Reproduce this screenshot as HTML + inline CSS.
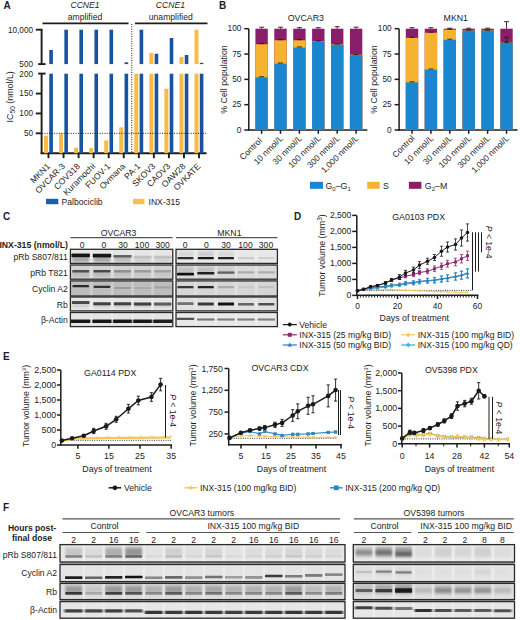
<!DOCTYPE html>
<html><head><meta charset="utf-8"><style>
html,body{margin:0;padding:0;background:#fff;}
svg{display:block;font-family:"Liberation Sans", sans-serif;}
</style></head><body>
<svg width="520" height="620" viewBox="0 0 520 620">
<defs>
<filter id="bb" x="-20%" y="-100%" width="140%" height="300%"><feGaussianBlur stdDeviation="0.7 0.45"/></filter>
<filter id="bw" x="-20%" y="-100%" width="140%" height="300%"><feGaussianBlur stdDeviation="1.0 1.5"/></filter>
<filter id="bm" x="-20%" y="-100%" width="140%" height="300%"><feGaussianBlur stdDeviation="0.9 0.7"/></filter>
<filter id="bs" x="-100%" y="-10%" width="300%" height="120%"><feGaussianBlur stdDeviation="0.6"/></filter>
</defs>
<rect width="520" height="620" fill="#fff"/>
<text x="3.50" y="9.00" font-size="10" text-anchor="start" font-weight="bold" fill="#1d1d1b">A</text>
<text x="85.00" y="8.30" font-size="8.6" text-anchor="middle" font-style="italic" fill="#1d1d1b">CCNE1</text>
<text x="85.00" y="19.80" font-size="8.6" text-anchor="middle" fill="#1d1d1b">amplified</text>
<text x="170.40" y="8.30" font-size="8.6" text-anchor="middle" font-style="italic" fill="#1d1d1b">CCNE1</text>
<text x="170.80" y="19.80" font-size="8.6" text-anchor="middle" fill="#1d1d1b">unamplified</text>
<line x1="42.50" y1="23.40" x2="128.50" y2="23.40" stroke="#1d1d1b" stroke-width="1.7" stroke-linecap="butt"/>
<line x1="135.00" y1="23.40" x2="207.50" y2="23.40" stroke="#1d1d1b" stroke-width="1.7" stroke-linecap="butt"/>
<line x1="131.75" y1="24.00" x2="131.75" y2="153.00" stroke="#1d1d1b" stroke-width="1.0" stroke-linecap="butt" stroke-dasharray="1 1.4"/>
<line x1="41.60" y1="29.70" x2="41.60" y2="64.10" stroke="#1d1d1b" stroke-width="1.9" stroke-linecap="butt"/>
<line x1="35.80" y1="29.70" x2="42.50" y2="29.70" stroke="#1d1d1b" stroke-width="1.9" stroke-linecap="butt"/>
<line x1="38.20" y1="64.10" x2="45.60" y2="64.10" stroke="#1d1d1b" stroke-width="1.9" stroke-linecap="butt"/>
<line x1="41.60" y1="73.60" x2="41.60" y2="154.10" stroke="#1d1d1b" stroke-width="1.9" stroke-linecap="butt"/>
<line x1="38.20" y1="73.60" x2="45.60" y2="73.60" stroke="#1d1d1b" stroke-width="1.9" stroke-linecap="butt"/>
<line x1="35.80" y1="93.57" x2="41.60" y2="93.57" stroke="#1d1d1b" stroke-width="1.9" stroke-linecap="butt"/>
<line x1="35.80" y1="113.45" x2="41.60" y2="113.45" stroke="#1d1d1b" stroke-width="1.9" stroke-linecap="butt"/>
<line x1="35.80" y1="133.32" x2="41.60" y2="133.32" stroke="#1d1d1b" stroke-width="1.9" stroke-linecap="butt"/>
<text x="33.00" y="32.60" font-size="8.2" text-anchor="end" fill="#1d1d1b">10,000</text>
<text x="33.00" y="67.00" font-size="8.2" text-anchor="end" fill="#1d1d1b">500</text>
<text x="33.00" y="76.50" font-size="8.2" text-anchor="end" fill="#1d1d1b">200</text>
<text x="33.00" y="96.47" font-size="8.2" text-anchor="end" fill="#1d1d1b">150</text>
<text x="33.00" y="116.35" font-size="8.2" text-anchor="end" fill="#1d1d1b">100</text>
<text x="33.00" y="136.22" font-size="8.2" text-anchor="end" fill="#1d1d1b">50</text>
<line x1="40.70" y1="153.20" x2="206.50" y2="153.20" stroke="#1d1d1b" stroke-width="1.9" stroke-linecap="butt"/>
<rect x="44.00" y="135.71" width="4.00" height="17.49" fill="#f7bb46"/>
<rect x="49.30" y="73.70" width="3.60" height="79.50" fill="#17539e"/>
<rect x="49.30" y="50.00" width="3.60" height="14.10" fill="#17539e"/>
<line x1="48.50" y1="153.20" x2="48.50" y2="158.20" stroke="#1d1d1b" stroke-width="1.9" stroke-linecap="butt"/>
<text x="0.00" y="0.00" font-size="8.6" text-anchor="end" fill="#1d1d1b" transform="translate(50.60,166.90) rotate(-45)">MKN1</text>
<rect x="59.05" y="133.32" width="4.00" height="19.88" fill="#f7bb46"/>
<rect x="64.35" y="73.70" width="3.60" height="79.50" fill="#17539e"/>
<rect x="64.35" y="29.70" width="3.60" height="34.40" fill="#17539e"/>
<line x1="63.55" y1="153.20" x2="63.55" y2="158.20" stroke="#1d1d1b" stroke-width="1.9" stroke-linecap="butt"/>
<text x="0.00" y="0.00" font-size="8.6" text-anchor="end" fill="#1d1d1b" transform="translate(65.65,166.90) rotate(-45)">OVCAR-3</text>
<rect x="74.10" y="147.63" width="4.00" height="5.56" fill="#f7bb46"/>
<rect x="79.40" y="73.70" width="3.60" height="79.50" fill="#17539e"/>
<rect x="79.40" y="29.70" width="3.60" height="34.40" fill="#17539e"/>
<line x1="78.60" y1="153.20" x2="78.60" y2="158.20" stroke="#1d1d1b" stroke-width="1.9" stroke-linecap="butt"/>
<text x="0.00" y="0.00" font-size="8.6" text-anchor="end" fill="#1d1d1b" transform="translate(80.70,166.90) rotate(-45)">COV318</text>
<rect x="89.15" y="148.03" width="4.00" height="5.17" fill="#f7bb46"/>
<rect x="94.45" y="73.70" width="3.60" height="79.50" fill="#17539e"/>
<rect x="94.45" y="29.70" width="3.60" height="34.40" fill="#17539e"/>
<line x1="93.65" y1="153.20" x2="93.65" y2="158.20" stroke="#1d1d1b" stroke-width="1.9" stroke-linecap="butt"/>
<text x="0.00" y="0.00" font-size="8.6" text-anchor="end" fill="#1d1d1b" transform="translate(95.75,166.90) rotate(-45)">Kuramochi</text>
<rect x="104.20" y="140.48" width="4.00" height="12.72" fill="#f7bb46"/>
<rect x="109.50" y="73.70" width="3.60" height="79.50" fill="#17539e"/>
<rect x="109.50" y="29.70" width="3.60" height="34.40" fill="#17539e"/>
<line x1="108.70" y1="153.20" x2="108.70" y2="158.20" stroke="#1d1d1b" stroke-width="1.9" stroke-linecap="butt"/>
<text x="0.00" y="0.00" font-size="8.6" text-anchor="end" fill="#1d1d1b" transform="translate(110.80,166.90) rotate(-45)">FUOV-1</text>
<rect x="119.25" y="127.36" width="4.00" height="25.84" fill="#f7bb46"/>
<rect x="124.55" y="73.70" width="3.60" height="79.50" fill="#17539e"/>
<rect x="124.55" y="62.30" width="3.60" height="1.80" fill="#17539e"/>
<line x1="123.75" y1="153.20" x2="123.75" y2="158.20" stroke="#1d1d1b" stroke-width="1.9" stroke-linecap="butt"/>
<text x="0.00" y="0.00" font-size="8.6" text-anchor="end" fill="#1d1d1b" transform="translate(125.85,166.90) rotate(-45)">Ovmana</text>
<rect x="134.30" y="73.70" width="4.00" height="79.50" fill="#f7bb46"/>
<rect x="139.60" y="73.70" width="3.60" height="79.50" fill="#17539e"/>
<rect x="139.60" y="29.70" width="3.60" height="34.40" fill="#17539e"/>
<line x1="138.80" y1="153.20" x2="138.80" y2="158.20" stroke="#1d1d1b" stroke-width="1.9" stroke-linecap="butt"/>
<text x="0.00" y="0.00" font-size="8.6" text-anchor="end" fill="#1d1d1b" transform="translate(140.90,166.90) rotate(-45)">PA-1</text>
<rect x="149.35" y="73.70" width="4.00" height="79.50" fill="#f7bb46"/>
<rect x="149.35" y="53.00" width="4.00" height="11.10" fill="#f7bb46"/>
<rect x="154.65" y="73.70" width="3.60" height="79.50" fill="#17539e"/>
<rect x="154.65" y="53.75" width="3.60" height="10.35" fill="#17539e"/>
<line x1="153.85" y1="153.20" x2="153.85" y2="158.20" stroke="#1d1d1b" stroke-width="1.9" stroke-linecap="butt"/>
<text x="0.00" y="0.00" font-size="8.6" text-anchor="end" fill="#1d1d1b" transform="translate(155.95,166.90) rotate(-45)">SKOV3</text>
<rect x="164.40" y="88.80" width="4.00" height="64.40" fill="#f7bb46"/>
<rect x="169.70" y="73.70" width="3.60" height="79.50" fill="#17539e"/>
<rect x="169.70" y="38.00" width="3.60" height="26.10" fill="#17539e"/>
<line x1="168.90" y1="153.20" x2="168.90" y2="158.20" stroke="#1d1d1b" stroke-width="1.9" stroke-linecap="butt"/>
<text x="0.00" y="0.00" font-size="8.6" text-anchor="end" fill="#1d1d1b" transform="translate(171.00,166.90) rotate(-45)">CAOV3</text>
<rect x="179.45" y="73.70" width="4.00" height="79.50" fill="#f7bb46"/>
<rect x="179.45" y="57.00" width="4.00" height="7.10" fill="#f7bb46"/>
<rect x="184.75" y="73.70" width="3.60" height="79.50" fill="#17539e"/>
<rect x="184.75" y="55.00" width="3.60" height="9.10" fill="#17539e"/>
<line x1="183.95" y1="153.20" x2="183.95" y2="158.20" stroke="#1d1d1b" stroke-width="1.9" stroke-linecap="butt"/>
<text x="0.00" y="0.00" font-size="8.6" text-anchor="end" fill="#1d1d1b" transform="translate(186.05,166.90) rotate(-45)">OAW28</text>
<rect x="194.50" y="73.70" width="4.00" height="79.50" fill="#f7bb46"/>
<rect x="194.50" y="29.70" width="4.00" height="34.40" fill="#f7bb46"/>
<rect x="199.80" y="73.70" width="3.60" height="79.50" fill="#17539e"/>
<rect x="199.80" y="62.80" width="3.60" height="1.30" fill="#17539e"/>
<line x1="199.00" y1="153.20" x2="199.00" y2="158.20" stroke="#1d1d1b" stroke-width="1.9" stroke-linecap="butt"/>
<text x="0.00" y="0.00" font-size="8.6" text-anchor="end" fill="#1d1d1b" transform="translate(201.10,166.90) rotate(-45)">OVKATE</text>
<line x1="42.00" y1="133.32" x2="206.50" y2="133.32" stroke="#1d1d1b" stroke-width="1.0" stroke-linecap="butt" stroke-dasharray="1 1.4"/>
<text font-size="8.9" fill="#1d1d1b" text-anchor="middle" transform="translate(12.5,96.8) rotate(-90)">IC<tspan font-size="6.6" dy="2">50</tspan><tspan dy="-2"> (nmol/L)</tspan></text>
<rect x="46.00" y="198.80" width="12.30" height="5.40" fill="#1862ad"/>
<text x="61.50" y="205.00" font-size="8.6" text-anchor="start" fill="#1d1d1b">Palbociclib</text>
<rect x="133.00" y="198.80" width="11.50" height="5.40" fill="#f8c049"/>
<text x="148.50" y="205.00" font-size="8.6" text-anchor="start" fill="#1d1d1b">INX-315</text>
<text x="218.90" y="9.00" font-size="10" text-anchor="start" font-weight="bold" fill="#1d1d1b">B</text>
<line x1="248.80" y1="28.70" x2="248.80" y2="130.70" stroke="#1d1d1b" stroke-width="1.5" stroke-linecap="butt"/>
<line x1="244.30" y1="130.00" x2="248.80" y2="130.00" stroke="#1d1d1b" stroke-width="1.5" stroke-linecap="butt"/>
<text x="241.40" y="132.50" font-size="8.3" text-anchor="end" fill="#1d1d1b">0</text>
<line x1="244.30" y1="104.68" x2="248.80" y2="104.68" stroke="#1d1d1b" stroke-width="1.5" stroke-linecap="butt"/>
<text x="241.40" y="107.18" font-size="8.3" text-anchor="end" fill="#1d1d1b">25</text>
<line x1="244.30" y1="79.35" x2="248.80" y2="79.35" stroke="#1d1d1b" stroke-width="1.5" stroke-linecap="butt"/>
<text x="241.40" y="81.85" font-size="8.3" text-anchor="end" fill="#1d1d1b">50</text>
<line x1="244.30" y1="54.03" x2="248.80" y2="54.03" stroke="#1d1d1b" stroke-width="1.5" stroke-linecap="butt"/>
<text x="241.40" y="56.53" font-size="8.3" text-anchor="end" fill="#1d1d1b">75</text>
<line x1="244.30" y1="28.70" x2="248.80" y2="28.70" stroke="#1d1d1b" stroke-width="1.5" stroke-linecap="butt"/>
<text x="241.40" y="31.20" font-size="8.3" text-anchor="end" fill="#1d1d1b">100</text>
<line x1="248.10" y1="130.00" x2="367.30" y2="130.00" stroke="#1d1d1b" stroke-width="1.5" stroke-linecap="butt"/>
<text x="305.80" y="21.00" font-size="8.8" text-anchor="middle" fill="#1d1d1b">OVCAR3</text>
<text font-size="8.8" fill="#1d1d1b" text-anchor="middle" transform="translate(226.5,79.5) rotate(-90)">% Cell population</text>
<rect x="255.40" y="28.70" width="12.40" height="101.30" fill="#8a1e6a"/>
<rect x="255.40" y="44.20" width="12.40" height="85.80" fill="#f5b330"/>
<rect x="255.40" y="77.32" width="12.40" height="52.68" fill="#1a86cf"/>
<line x1="259.10" y1="27.20" x2="264.10" y2="27.20" stroke="#1d1d1b" stroke-width="0.9" stroke-linecap="butt"/>
<line x1="261.60" y1="27.20" x2="261.60" y2="28.70" stroke="#1d1d1b" stroke-width="0.9" stroke-linecap="butt"/>
<line x1="259.10" y1="76.72" x2="264.10" y2="76.72" stroke="#1d1d1b" stroke-width="0.9" stroke-linecap="butt"/>
<line x1="259.10" y1="43.60" x2="264.10" y2="43.60" stroke="#1d1d1b" stroke-width="0.9" stroke-linecap="butt"/>
<line x1="261.60" y1="130.00" x2="261.60" y2="133.80" stroke="#1d1d1b" stroke-width="1.5" stroke-linecap="butt"/>
<text x="0.00" y="0.00" font-size="8.5" text-anchor="end" fill="#1d1d1b" transform="translate(262.50,141.20) rotate(-45)">Control</text>
<rect x="274.30" y="28.70" width="12.40" height="101.30" fill="#8a1e6a"/>
<rect x="274.30" y="40.25" width="12.40" height="89.75" fill="#f5b330"/>
<rect x="274.30" y="63.65" width="12.40" height="66.35" fill="#1a86cf"/>
<line x1="278.00" y1="27.20" x2="283.00" y2="27.20" stroke="#1d1d1b" stroke-width="0.9" stroke-linecap="butt"/>
<line x1="280.50" y1="27.20" x2="280.50" y2="28.70" stroke="#1d1d1b" stroke-width="0.9" stroke-linecap="butt"/>
<line x1="278.00" y1="63.05" x2="283.00" y2="63.05" stroke="#1d1d1b" stroke-width="0.9" stroke-linecap="butt"/>
<line x1="278.00" y1="39.65" x2="283.00" y2="39.65" stroke="#1d1d1b" stroke-width="0.9" stroke-linecap="butt"/>
<line x1="280.50" y1="130.00" x2="280.50" y2="133.80" stroke="#1d1d1b" stroke-width="1.5" stroke-linecap="butt"/>
<text x="0.00" y="0.00" font-size="8.5" text-anchor="end" fill="#1d1d1b" transform="translate(283.60,138.80) rotate(-45)">10 nmol/L</text>
<rect x="293.20" y="28.70" width="12.40" height="101.30" fill="#8a1e6a"/>
<rect x="293.20" y="40.25" width="12.40" height="89.75" fill="#f5b330"/>
<rect x="293.20" y="47.54" width="12.40" height="82.46" fill="#1a86cf"/>
<line x1="296.90" y1="27.70" x2="301.90" y2="27.70" stroke="#1d1d1b" stroke-width="0.9" stroke-linecap="butt"/>
<line x1="299.40" y1="27.70" x2="299.40" y2="28.70" stroke="#1d1d1b" stroke-width="0.9" stroke-linecap="butt"/>
<line x1="296.90" y1="46.94" x2="301.90" y2="46.94" stroke="#1d1d1b" stroke-width="0.9" stroke-linecap="butt"/>
<line x1="296.90" y1="39.65" x2="301.90" y2="39.65" stroke="#1d1d1b" stroke-width="0.9" stroke-linecap="butt"/>
<line x1="299.40" y1="130.00" x2="299.40" y2="133.80" stroke="#1d1d1b" stroke-width="1.5" stroke-linecap="butt"/>
<text x="0.00" y="0.00" font-size="8.5" text-anchor="end" fill="#1d1d1b" transform="translate(302.50,138.80) rotate(-45)">30 nmol/L</text>
<rect x="312.10" y="28.70" width="12.40" height="101.30" fill="#8a1e6a"/>
<rect x="312.10" y="41.26" width="12.40" height="88.74" fill="#f5b330"/>
<rect x="312.10" y="41.57" width="12.40" height="88.43" fill="#1a86cf"/>
<line x1="315.80" y1="27.70" x2="320.80" y2="27.70" stroke="#1d1d1b" stroke-width="0.9" stroke-linecap="butt"/>
<line x1="318.30" y1="27.70" x2="318.30" y2="28.70" stroke="#1d1d1b" stroke-width="0.9" stroke-linecap="butt"/>
<line x1="315.80" y1="40.97" x2="320.80" y2="40.97" stroke="#1d1d1b" stroke-width="0.9" stroke-linecap="butt"/>
<line x1="318.30" y1="130.00" x2="318.30" y2="133.80" stroke="#1d1d1b" stroke-width="1.5" stroke-linecap="butt"/>
<text x="0.00" y="0.00" font-size="8.5" text-anchor="end" fill="#1d1d1b" transform="translate(321.40,138.80) rotate(-45)">100 nmol/L</text>
<rect x="331.00" y="28.70" width="12.40" height="101.30" fill="#8a1e6a"/>
<rect x="331.00" y="44.30" width="12.40" height="85.70" fill="#f5b330"/>
<rect x="331.00" y="44.71" width="12.40" height="85.29" fill="#1a86cf"/>
<line x1="334.70" y1="26.70" x2="339.70" y2="26.70" stroke="#1d1d1b" stroke-width="0.9" stroke-linecap="butt"/>
<line x1="337.20" y1="26.70" x2="337.20" y2="28.70" stroke="#1d1d1b" stroke-width="0.9" stroke-linecap="butt"/>
<line x1="334.70" y1="44.11" x2="339.70" y2="44.11" stroke="#1d1d1b" stroke-width="0.9" stroke-linecap="butt"/>
<line x1="337.20" y1="130.00" x2="337.20" y2="133.80" stroke="#1d1d1b" stroke-width="1.5" stroke-linecap="butt"/>
<text x="0.00" y="0.00" font-size="8.5" text-anchor="end" fill="#1d1d1b" transform="translate(340.30,138.80) rotate(-45)">300 nmol/L</text>
<rect x="349.90" y="28.70" width="12.40" height="101.30" fill="#8a1e6a"/>
<rect x="349.90" y="54.63" width="12.40" height="75.37" fill="#f5b330"/>
<rect x="349.90" y="55.04" width="12.40" height="74.96" fill="#1a86cf"/>
<line x1="353.60" y1="27.20" x2="358.60" y2="27.20" stroke="#1d1d1b" stroke-width="0.9" stroke-linecap="butt"/>
<line x1="356.10" y1="27.20" x2="356.10" y2="28.70" stroke="#1d1d1b" stroke-width="0.9" stroke-linecap="butt"/>
<line x1="353.60" y1="54.44" x2="358.60" y2="54.44" stroke="#1d1d1b" stroke-width="0.9" stroke-linecap="butt"/>
<line x1="356.10" y1="130.00" x2="356.10" y2="133.80" stroke="#1d1d1b" stroke-width="1.5" stroke-linecap="butt"/>
<text x="0.00" y="0.00" font-size="8.5" text-anchor="end" fill="#1d1d1b" transform="translate(359.20,138.80) rotate(-45)">1,000 nmol/L</text>
<line x1="399.10" y1="28.70" x2="399.10" y2="130.70" stroke="#1d1d1b" stroke-width="1.5" stroke-linecap="butt"/>
<line x1="394.60" y1="130.00" x2="399.10" y2="130.00" stroke="#1d1d1b" stroke-width="1.5" stroke-linecap="butt"/>
<text x="391.70" y="132.50" font-size="8.3" text-anchor="end" fill="#1d1d1b">0</text>
<line x1="394.60" y1="104.68" x2="399.10" y2="104.68" stroke="#1d1d1b" stroke-width="1.5" stroke-linecap="butt"/>
<text x="391.70" y="107.18" font-size="8.3" text-anchor="end" fill="#1d1d1b">25</text>
<line x1="394.60" y1="79.35" x2="399.10" y2="79.35" stroke="#1d1d1b" stroke-width="1.5" stroke-linecap="butt"/>
<text x="391.70" y="81.85" font-size="8.3" text-anchor="end" fill="#1d1d1b">50</text>
<line x1="394.60" y1="54.03" x2="399.10" y2="54.03" stroke="#1d1d1b" stroke-width="1.5" stroke-linecap="butt"/>
<text x="391.70" y="56.53" font-size="8.3" text-anchor="end" fill="#1d1d1b">75</text>
<line x1="394.60" y1="28.70" x2="399.10" y2="28.70" stroke="#1d1d1b" stroke-width="1.5" stroke-linecap="butt"/>
<text x="391.70" y="31.20" font-size="8.3" text-anchor="end" fill="#1d1d1b">100</text>
<line x1="398.40" y1="130.00" x2="517.60" y2="130.00" stroke="#1d1d1b" stroke-width="1.5" stroke-linecap="butt"/>
<text x="455.80" y="21.00" font-size="8.8" text-anchor="middle" fill="#1d1d1b">MKN1</text>
<text font-size="8.8" fill="#1d1d1b" text-anchor="middle" transform="translate(377,79.5) rotate(-90)">% Cell population</text>
<rect x="405.80" y="28.70" width="12.40" height="101.30" fill="#8a1e6a"/>
<rect x="405.80" y="37.82" width="12.40" height="92.18" fill="#f5b330"/>
<rect x="405.80" y="82.39" width="12.40" height="47.61" fill="#1a86cf"/>
<line x1="409.50" y1="27.70" x2="414.50" y2="27.70" stroke="#1d1d1b" stroke-width="0.9" stroke-linecap="butt"/>
<line x1="412.00" y1="27.70" x2="412.00" y2="28.70" stroke="#1d1d1b" stroke-width="0.9" stroke-linecap="butt"/>
<line x1="409.50" y1="81.79" x2="414.50" y2="81.79" stroke="#1d1d1b" stroke-width="0.9" stroke-linecap="butt"/>
<line x1="409.50" y1="37.22" x2="414.50" y2="37.22" stroke="#1d1d1b" stroke-width="0.9" stroke-linecap="butt"/>
<line x1="412.00" y1="130.00" x2="412.00" y2="133.80" stroke="#1d1d1b" stroke-width="1.5" stroke-linecap="butt"/>
<text x="0.00" y="0.00" font-size="8.5" text-anchor="end" fill="#1d1d1b" transform="translate(415.10,138.80) rotate(-45)">Control</text>
<rect x="424.70" y="28.70" width="12.40" height="101.30" fill="#8a1e6a"/>
<rect x="424.70" y="32.75" width="12.40" height="97.25" fill="#f5b330"/>
<rect x="424.70" y="69.63" width="12.40" height="60.37" fill="#1a86cf"/>
<line x1="428.40" y1="27.70" x2="433.40" y2="27.70" stroke="#1d1d1b" stroke-width="0.9" stroke-linecap="butt"/>
<line x1="430.90" y1="27.70" x2="430.90" y2="28.70" stroke="#1d1d1b" stroke-width="0.9" stroke-linecap="butt"/>
<line x1="428.40" y1="69.03" x2="433.40" y2="69.03" stroke="#1d1d1b" stroke-width="0.9" stroke-linecap="butt"/>
<line x1="428.40" y1="32.15" x2="433.40" y2="32.15" stroke="#1d1d1b" stroke-width="0.9" stroke-linecap="butt"/>
<line x1="430.90" y1="130.00" x2="430.90" y2="133.80" stroke="#1d1d1b" stroke-width="1.5" stroke-linecap="butt"/>
<text x="0.00" y="0.00" font-size="8.5" text-anchor="end" fill="#1d1d1b" transform="translate(434.00,138.80) rotate(-45)">10 nmol/L</text>
<rect x="443.60" y="28.70" width="12.40" height="101.30" fill="#8a1e6a"/>
<rect x="443.60" y="29.71" width="12.40" height="100.29" fill="#f5b330"/>
<rect x="443.60" y="39.84" width="12.40" height="90.16" fill="#1a86cf"/>
<line x1="447.30" y1="28.20" x2="452.30" y2="28.20" stroke="#1d1d1b" stroke-width="0.9" stroke-linecap="butt"/>
<line x1="449.80" y1="28.20" x2="449.80" y2="28.70" stroke="#1d1d1b" stroke-width="0.9" stroke-linecap="butt"/>
<line x1="447.30" y1="39.24" x2="452.30" y2="39.24" stroke="#1d1d1b" stroke-width="0.9" stroke-linecap="butt"/>
<line x1="447.30" y1="29.11" x2="452.30" y2="29.11" stroke="#1d1d1b" stroke-width="0.9" stroke-linecap="butt"/>
<line x1="449.80" y1="130.00" x2="449.80" y2="133.80" stroke="#1d1d1b" stroke-width="1.5" stroke-linecap="butt"/>
<text x="0.00" y="0.00" font-size="8.5" text-anchor="end" fill="#1d1d1b" transform="translate(452.90,138.80) rotate(-45)">30 nmol/L</text>
<rect x="462.50" y="28.70" width="12.40" height="101.30" fill="#8a1e6a"/>
<rect x="462.50" y="30.42" width="12.40" height="99.58" fill="#f5b330"/>
<rect x="462.50" y="30.73" width="12.40" height="99.27" fill="#1a86cf"/>
<line x1="466.20" y1="28.20" x2="471.20" y2="28.20" stroke="#1d1d1b" stroke-width="0.9" stroke-linecap="butt"/>
<line x1="468.70" y1="28.20" x2="468.70" y2="28.70" stroke="#1d1d1b" stroke-width="0.9" stroke-linecap="butt"/>
<line x1="466.20" y1="30.13" x2="471.20" y2="30.13" stroke="#1d1d1b" stroke-width="0.9" stroke-linecap="butt"/>
<line x1="468.70" y1="130.00" x2="468.70" y2="133.80" stroke="#1d1d1b" stroke-width="1.5" stroke-linecap="butt"/>
<text x="0.00" y="0.00" font-size="8.5" text-anchor="end" fill="#1d1d1b" transform="translate(471.80,138.80) rotate(-45)">100 nmol/L</text>
<rect x="481.40" y="28.70" width="12.40" height="101.30" fill="#8a1e6a"/>
<rect x="481.40" y="30.42" width="12.40" height="99.58" fill="#f5b330"/>
<rect x="481.40" y="30.73" width="12.40" height="99.27" fill="#1a86cf"/>
<line x1="485.10" y1="28.20" x2="490.10" y2="28.20" stroke="#1d1d1b" stroke-width="0.9" stroke-linecap="butt"/>
<line x1="487.60" y1="28.20" x2="487.60" y2="28.70" stroke="#1d1d1b" stroke-width="0.9" stroke-linecap="butt"/>
<line x1="485.10" y1="30.13" x2="490.10" y2="30.13" stroke="#1d1d1b" stroke-width="0.9" stroke-linecap="butt"/>
<line x1="487.60" y1="130.00" x2="487.60" y2="133.80" stroke="#1d1d1b" stroke-width="1.5" stroke-linecap="butt"/>
<text x="0.00" y="0.00" font-size="8.5" text-anchor="end" fill="#1d1d1b" transform="translate(490.70,138.80) rotate(-45)">300 nmol/L</text>
<rect x="500.30" y="28.70" width="12.40" height="101.30" fill="#8a1e6a"/>
<rect x="500.30" y="42.68" width="12.40" height="87.32" fill="#f5b330"/>
<rect x="500.30" y="42.88" width="12.40" height="87.12" fill="#1a86cf"/>
<line x1="504.00" y1="21.70" x2="509.00" y2="21.70" stroke="#1d1d1b" stroke-width="0.9" stroke-linecap="butt"/>
<line x1="506.50" y1="21.70" x2="506.50" y2="28.70" stroke="#1d1d1b" stroke-width="0.9" stroke-linecap="butt"/>
<line x1="504.00" y1="42.28" x2="509.00" y2="42.28" stroke="#1d1d1b" stroke-width="0.9" stroke-linecap="butt"/>
<line x1="506.50" y1="130.00" x2="506.50" y2="133.80" stroke="#1d1d1b" stroke-width="1.5" stroke-linecap="butt"/>
<text x="0.00" y="0.00" font-size="8.5" text-anchor="end" fill="#1d1d1b" transform="translate(509.60,138.80) rotate(-45)">1,000 nmol/L</text>
<line x1="506.50" y1="42.88" x2="506.50" y2="37.31" stroke="#1d1d1b" stroke-width="0.9" stroke-linecap="butt"/>
<line x1="504.00" y1="37.31" x2="509.00" y2="37.31" stroke="#1d1d1b" stroke-width="0.9" stroke-linecap="butt"/>
<rect x="310.00" y="181.80" width="13.00" height="7.00" fill="#1a86cf"/>
<text x="325.5" y="189.2" font-size="8.8" fill="#1d1d1b">G<tspan font-size="6" dy="1.8">0</tspan><tspan dy="-1.8">–G</tspan><tspan font-size="6" dy="1.8">1</tspan></text>
<rect x="367.20" y="181.80" width="12.50" height="7.00" fill="#f5b330"/>
<text x="383.00" y="189.20" font-size="8.8" text-anchor="start" fill="#1d1d1b">S</text>
<rect x="408.90" y="181.80" width="12.50" height="7.00" fill="#8a1e6a"/>
<text x="424.8" y="189.2" font-size="8.8" fill="#1d1d1b">G<tspan font-size="6" dy="1.8">2</tspan><tspan dy="-1.8">–M</tspan></text>
<text x="3.00" y="220.00" font-size="10" text-anchor="start" font-weight="bold" fill="#1d1d1b">C</text>
<text x="-0.60" y="247.80" font-size="8.7" text-anchor="start" font-weight="bold" fill="#1d1d1b">INX-315 (nmol/L)</text>
<text x="67.80" y="260.25" font-size="8.6" text-anchor="end" fill="#1d1d1b">pRb S807/811</text>
<text x="67.80" y="276.00" font-size="8.6" text-anchor="end" fill="#1d1d1b">pRb T821</text>
<text x="67.80" y="292.35" font-size="8.6" text-anchor="end" fill="#1d1d1b">Cyclin A2</text>
<text x="67.80" y="307.85" font-size="8.6" text-anchor="end" fill="#1d1d1b">Rb</text>
<text x="67.80" y="323.45" font-size="8.6" text-anchor="end" fill="#1d1d1b">β-Actin</text>
<text x="118.60" y="235.60" font-size="8.7" text-anchor="middle" fill="#1d1d1b">OVCAR3</text>
<line x1="70.40" y1="237.70" x2="172.60" y2="237.70" stroke="#555" stroke-width="1.2" stroke-linecap="butt"/>
<text x="82.20" y="247.80" font-size="8.6" text-anchor="middle" fill="#1d1d1b">0</text>
<text x="104.00" y="247.80" font-size="8.6" text-anchor="middle" fill="#1d1d1b">0</text>
<text x="123.00" y="247.80" font-size="8.6" text-anchor="middle" fill="#1d1d1b">30</text>
<text x="142.00" y="247.80" font-size="8.6" text-anchor="middle" fill="#1d1d1b">100</text>
<text x="162.70" y="247.80" font-size="8.6" text-anchor="middle" fill="#1d1d1b">300</text>
<rect x="70.40" y="249.30" width="102.40" height="14.10" fill="#e6e6e6"/>
<rect x="71.45" y="253.60" width="18.50" height="3.60" rx="0.60" fill="#111" fill-opacity="0.95" filter="url(#bb)"/>
<rect x="92.75" y="253.80" width="18.50" height="3.60" rx="0.60" fill="#111" fill-opacity="0.95" filter="url(#bb)"/>
<rect x="113.25" y="255.00" width="18.50" height="2.60" rx="0.60" fill="#111" fill-opacity="0.60" filter="url(#bb)"/>
<rect x="133.35" y="255.80" width="18.50" height="2.40" rx="0.60" fill="#111" fill-opacity="0.12" filter="url(#bb)"/>
<rect x="153.35" y="255.80" width="18.50" height="2.40" rx="0.60" fill="#111" fill-opacity="0.12" filter="url(#bb)"/>
<rect x="72.20" y="257.00" width="17.00" height="5.00" rx="0.60" fill="#111" fill-opacity="0.30" filter="url(#bw)"/>
<rect x="93.50" y="257.00" width="17.00" height="5.00" rx="0.60" fill="#111" fill-opacity="0.30" filter="url(#bw)"/>
<rect x="114.00" y="257.00" width="17.00" height="5.00" rx="0.60" fill="#111" fill-opacity="0.20" filter="url(#bw)"/>
<rect x="134.10" y="257.00" width="17.00" height="5.00" rx="0.60" fill="#111" fill-opacity="0.10" filter="url(#bw)"/>
<rect x="154.10" y="257.00" width="17.00" height="5.00" rx="0.60" fill="#111" fill-opacity="0.10" filter="url(#bw)"/>
<rect x="90.15" y="249.30" width="2.4" height="14.10" fill="#ffffff" fill-opacity="0.25" filter="url(#bs)"/>
<rect x="111.05" y="249.30" width="2.4" height="14.10" fill="#ffffff" fill-opacity="0.25" filter="url(#bs)"/>
<rect x="131.35" y="249.30" width="2.4" height="14.10" fill="#ffffff" fill-opacity="0.25" filter="url(#bs)"/>
<rect x="151.40" y="249.30" width="2.4" height="14.10" fill="#ffffff" fill-opacity="0.25" filter="url(#bs)"/>
<rect x="70.40" y="249.30" width="102.40" height="14.10" fill="none" stroke="#2a2a2a" stroke-width="1.3"/>
<rect x="70.40" y="265.00" width="102.40" height="14.20" fill="#d3d3d3"/>
<rect x="72.20" y="269.90" width="17.00" height="2.60" rx="0.60" fill="#111" fill-opacity="0.65" filter="url(#bb)"/>
<rect x="93.50" y="269.90" width="17.00" height="2.60" rx="0.60" fill="#111" fill-opacity="0.70" filter="url(#bb)"/>
<rect x="114.00" y="269.90" width="17.00" height="2.60" rx="0.60" fill="#111" fill-opacity="0.35" filter="url(#bb)"/>
<rect x="134.10" y="269.90" width="17.00" height="2.60" rx="0.60" fill="#111" fill-opacity="0.25" filter="url(#bb)"/>
<rect x="154.10" y="269.90" width="17.00" height="2.60" rx="0.60" fill="#111" fill-opacity="0.22" filter="url(#bb)"/>
<rect x="72.20" y="272.50" width="17.00" height="4.00" rx="0.60" fill="#111" fill-opacity="0.15" filter="url(#bw)"/>
<rect x="93.50" y="272.50" width="17.00" height="4.00" rx="0.60" fill="#111" fill-opacity="0.15" filter="url(#bw)"/>
<rect x="114.00" y="272.50" width="17.00" height="4.00" rx="0.60" fill="#111" fill-opacity="0.10" filter="url(#bw)"/>
<rect x="134.10" y="272.50" width="17.00" height="4.00" rx="0.60" fill="#111" fill-opacity="0.08" filter="url(#bw)"/>
<rect x="154.10" y="272.50" width="17.00" height="4.00" rx="0.60" fill="#111" fill-opacity="0.08" filter="url(#bw)"/>
<rect x="90.15" y="265.00" width="2.4" height="14.20" fill="#ffffff" fill-opacity="0.25" filter="url(#bs)"/>
<rect x="111.05" y="265.00" width="2.4" height="14.20" fill="#ffffff" fill-opacity="0.25" filter="url(#bs)"/>
<rect x="131.35" y="265.00" width="2.4" height="14.20" fill="#ffffff" fill-opacity="0.25" filter="url(#bs)"/>
<rect x="151.40" y="265.00" width="2.4" height="14.20" fill="#ffffff" fill-opacity="0.25" filter="url(#bs)"/>
<rect x="70.40" y="265.00" width="102.40" height="14.20" fill="none" stroke="#2a2a2a" stroke-width="1.3"/>
<rect x="70.40" y="280.90" width="102.40" height="15.10" fill="#bdbdbd"/>
<rect x="72.45" y="285.10" width="16.50" height="2.20" rx="0.60" fill="#111" fill-opacity="0.85" filter="url(#bb)"/>
<rect x="93.75" y="285.70" width="16.50" height="2.20" rx="0.60" fill="#111" fill-opacity="0.80" filter="url(#bb)"/>
<rect x="114.25" y="286.90" width="16.50" height="2.20" rx="0.60" fill="#111" fill-opacity="0.18" filter="url(#bb)"/>
<rect x="134.35" y="286.90" width="16.50" height="2.20" rx="0.60" fill="#111" fill-opacity="0.10" filter="url(#bb)"/>
<rect x="154.35" y="286.40" width="16.50" height="2.20" rx="0.60" fill="#111" fill-opacity="0.15" filter="url(#bb)"/>
<rect x="90.15" y="280.90" width="2.4" height="15.10" fill="#ffffff" fill-opacity="0.25" filter="url(#bs)"/>
<rect x="111.05" y="280.90" width="2.4" height="15.10" fill="#ffffff" fill-opacity="0.25" filter="url(#bs)"/>
<rect x="131.35" y="280.90" width="2.4" height="15.10" fill="#ffffff" fill-opacity="0.25" filter="url(#bs)"/>
<rect x="151.40" y="280.90" width="2.4" height="15.10" fill="#ffffff" fill-opacity="0.25" filter="url(#bs)"/>
<rect x="70.40" y="280.90" width="102.40" height="15.10" fill="none" stroke="#2a2a2a" stroke-width="1.3"/>
<rect x="70.40" y="297.00" width="102.40" height="13.90" fill="#e6e6e6"/>
<rect x="71.95" y="301.10" width="17.50" height="3.00" rx="0.60" fill="#111" fill-opacity="0.72" filter="url(#bb)"/>
<rect x="93.25" y="302.30" width="17.50" height="3.00" rx="0.60" fill="#111" fill-opacity="0.75" filter="url(#bb)"/>
<rect x="113.75" y="302.30" width="17.50" height="3.00" rx="0.60" fill="#111" fill-opacity="0.75" filter="url(#bb)"/>
<rect x="133.85" y="302.50" width="17.50" height="3.00" rx="0.60" fill="#111" fill-opacity="0.75" filter="url(#bb)"/>
<rect x="153.85" y="302.50" width="17.50" height="3.00" rx="0.60" fill="#111" fill-opacity="0.62" filter="url(#bb)"/>
<rect x="72.20" y="304.00" width="17.00" height="3.00" rx="0.60" fill="#111" fill-opacity="0.15" filter="url(#bw)"/>
<rect x="93.50" y="304.00" width="17.00" height="3.00" rx="0.60" fill="#111" fill-opacity="0.15" filter="url(#bw)"/>
<rect x="114.00" y="304.00" width="17.00" height="3.00" rx="0.60" fill="#111" fill-opacity="0.15" filter="url(#bw)"/>
<rect x="134.10" y="304.00" width="17.00" height="3.00" rx="0.60" fill="#111" fill-opacity="0.15" filter="url(#bw)"/>
<rect x="154.10" y="304.00" width="17.00" height="3.00" rx="0.60" fill="#111" fill-opacity="0.12" filter="url(#bw)"/>
<rect x="90.15" y="297.00" width="2.4" height="13.90" fill="#ffffff" fill-opacity="0.25" filter="url(#bs)"/>
<rect x="111.05" y="297.00" width="2.4" height="13.90" fill="#ffffff" fill-opacity="0.25" filter="url(#bs)"/>
<rect x="131.35" y="297.00" width="2.4" height="13.90" fill="#ffffff" fill-opacity="0.25" filter="url(#bs)"/>
<rect x="151.40" y="297.00" width="2.4" height="13.90" fill="#ffffff" fill-opacity="0.25" filter="url(#bs)"/>
<rect x="70.40" y="297.00" width="102.40" height="13.90" fill="none" stroke="#2a2a2a" stroke-width="1.3"/>
<rect x="70.40" y="312.50" width="102.40" height="14.10" fill="#e4e4e4"/>
<rect x="70.90" y="319.40" width="19.60" height="3.60" rx="0.60" fill="#111" fill-opacity="0.95" filter="url(#bb)"/>
<rect x="92.20" y="319.40" width="19.60" height="3.60" rx="0.60" fill="#111" fill-opacity="0.95" filter="url(#bb)"/>
<rect x="112.70" y="319.40" width="19.60" height="3.60" rx="0.60" fill="#111" fill-opacity="0.95" filter="url(#bb)"/>
<rect x="132.80" y="319.40" width="19.60" height="3.60" rx="0.60" fill="#111" fill-opacity="0.95" filter="url(#bb)"/>
<rect x="152.80" y="319.40" width="19.60" height="3.60" rx="0.60" fill="#111" fill-opacity="0.92" filter="url(#bb)"/>
<rect x="90.15" y="312.50" width="2.4" height="14.10" fill="#ffffff" fill-opacity="0.25" filter="url(#bs)"/>
<rect x="111.05" y="312.50" width="2.4" height="14.10" fill="#ffffff" fill-opacity="0.25" filter="url(#bs)"/>
<rect x="131.35" y="312.50" width="2.4" height="14.10" fill="#ffffff" fill-opacity="0.25" filter="url(#bs)"/>
<rect x="151.40" y="312.50" width="2.4" height="14.10" fill="#ffffff" fill-opacity="0.25" filter="url(#bs)"/>
<rect x="70.40" y="312.50" width="102.40" height="14.10" fill="none" stroke="#2a2a2a" stroke-width="1.3"/>
<text x="229.40" y="235.60" font-size="8.7" text-anchor="middle" fill="#1d1d1b">MKN1</text>
<line x1="176.00" y1="237.70" x2="277.40" y2="237.70" stroke="#555" stroke-width="1.2" stroke-linecap="butt"/>
<text x="185.20" y="247.80" font-size="8.6" text-anchor="middle" fill="#1d1d1b">0</text>
<text x="206.30" y="247.80" font-size="8.6" text-anchor="middle" fill="#1d1d1b">0</text>
<text x="226.00" y="247.80" font-size="8.6" text-anchor="middle" fill="#1d1d1b">30</text>
<text x="245.50" y="247.80" font-size="8.6" text-anchor="middle" fill="#1d1d1b">100</text>
<text x="266.00" y="247.80" font-size="8.6" text-anchor="middle" fill="#1d1d1b">300</text>
<rect x="176.00" y="249.30" width="101.40" height="14.10" fill="#e8e8e8"/>
<rect x="177.50" y="257.10" width="16.00" height="2.20" rx="0.60" fill="#111" fill-opacity="0.85" filter="url(#bb)"/>
<rect x="197.80" y="257.10" width="16.00" height="2.20" rx="0.60" fill="#111" fill-opacity="0.95" filter="url(#bb)"/>
<rect x="218.00" y="257.10" width="16.00" height="2.20" rx="0.60" fill="#111" fill-opacity="0.90" filter="url(#bb)"/>
<rect x="238.00" y="257.10" width="16.00" height="2.20" rx="0.60" fill="#111" fill-opacity="0.12" filter="url(#bb)"/>
<rect x="258.30" y="257.10" width="16.00" height="2.20" rx="0.60" fill="#111" fill-opacity="0.10" filter="url(#bb)"/>
<rect x="177.50" y="251.50" width="16.00" height="5.00" rx="0.60" fill="#111" fill-opacity="0.08" filter="url(#bw)"/>
<rect x="197.80" y="251.50" width="16.00" height="5.00" rx="0.60" fill="#111" fill-opacity="0.12" filter="url(#bw)"/>
<rect x="218.00" y="251.50" width="16.00" height="5.00" rx="0.60" fill="#111" fill-opacity="0.08" filter="url(#bw)"/>
<rect x="194.45" y="249.30" width="2.4" height="14.10" fill="#ffffff" fill-opacity="0.22" filter="url(#bs)"/>
<rect x="214.70" y="249.30" width="2.4" height="14.10" fill="#ffffff" fill-opacity="0.22" filter="url(#bs)"/>
<rect x="234.80" y="249.30" width="2.4" height="14.10" fill="#ffffff" fill-opacity="0.22" filter="url(#bs)"/>
<rect x="254.95" y="249.30" width="2.4" height="14.10" fill="#ffffff" fill-opacity="0.22" filter="url(#bs)"/>
<rect x="176.00" y="249.30" width="101.40" height="14.10" fill="none" stroke="#2a2a2a" stroke-width="1.3"/>
<rect x="176.00" y="265.00" width="101.40" height="14.20" fill="#dadada"/>
<rect x="177.00" y="272.80" width="17.00" height="2.80" rx="0.60" fill="#111" fill-opacity="0.98" filter="url(#bb)"/>
<rect x="197.30" y="271.90" width="17.00" height="2.60" rx="0.60" fill="#111" fill-opacity="0.90" filter="url(#bb)"/>
<rect x="217.50" y="271.40" width="17.00" height="2.40" rx="0.60" fill="#111" fill-opacity="0.60" filter="url(#bb)"/>
<rect x="237.50" y="271.20" width="17.00" height="2.20" rx="0.60" fill="#111" fill-opacity="0.20" filter="url(#bb)"/>
<rect x="257.80" y="271.20" width="17.00" height="2.20" rx="0.60" fill="#111" fill-opacity="0.20" filter="url(#bb)"/>
<rect x="177.50" y="267.00" width="16.00" height="6.00" rx="0.60" fill="#111" fill-opacity="0.12" filter="url(#bw)"/>
<rect x="197.80" y="267.00" width="16.00" height="6.00" rx="0.60" fill="#111" fill-opacity="0.12" filter="url(#bw)"/>
<rect x="218.00" y="267.00" width="16.00" height="6.00" rx="0.60" fill="#111" fill-opacity="0.06" filter="url(#bw)"/>
<rect x="194.45" y="265.00" width="2.4" height="14.20" fill="#ffffff" fill-opacity="0.22" filter="url(#bs)"/>
<rect x="214.70" y="265.00" width="2.4" height="14.20" fill="#ffffff" fill-opacity="0.22" filter="url(#bs)"/>
<rect x="234.80" y="265.00" width="2.4" height="14.20" fill="#ffffff" fill-opacity="0.22" filter="url(#bs)"/>
<rect x="254.95" y="265.00" width="2.4" height="14.20" fill="#ffffff" fill-opacity="0.22" filter="url(#bs)"/>
<rect x="176.00" y="265.00" width="101.40" height="14.20" fill="none" stroke="#2a2a2a" stroke-width="1.3"/>
<rect x="176.00" y="280.90" width="101.40" height="15.10" fill="#d6d6d6"/>
<rect x="177.50" y="286.10" width="16.00" height="2.20" rx="0.60" fill="#111" fill-opacity="0.80" filter="url(#bb)"/>
<rect x="197.80" y="286.10" width="16.00" height="2.20" rx="0.60" fill="#111" fill-opacity="0.90" filter="url(#bb)"/>
<rect x="218.00" y="286.10" width="16.00" height="2.20" rx="0.60" fill="#111" fill-opacity="0.20" filter="url(#bb)"/>
<rect x="238.00" y="286.10" width="16.00" height="2.20" rx="0.60" fill="#111" fill-opacity="0.06" filter="url(#bb)"/>
<rect x="258.30" y="286.10" width="16.00" height="2.20" rx="0.60" fill="#111" fill-opacity="0.10" filter="url(#bb)"/>
<rect x="194.45" y="280.90" width="2.4" height="15.10" fill="#ffffff" fill-opacity="0.22" filter="url(#bs)"/>
<rect x="214.70" y="280.90" width="2.4" height="15.10" fill="#ffffff" fill-opacity="0.22" filter="url(#bs)"/>
<rect x="234.80" y="280.90" width="2.4" height="15.10" fill="#ffffff" fill-opacity="0.22" filter="url(#bs)"/>
<rect x="254.95" y="280.90" width="2.4" height="15.10" fill="#ffffff" fill-opacity="0.22" filter="url(#bs)"/>
<rect x="176.00" y="280.90" width="101.40" height="15.10" fill="none" stroke="#2a2a2a" stroke-width="1.3"/>
<rect x="176.00" y="297.00" width="101.40" height="13.90" fill="#e0e0e0"/>
<rect x="177.50" y="302.30" width="16.00" height="2.60" rx="0.60" fill="#111" fill-opacity="0.55" filter="url(#bb)"/>
<rect x="197.80" y="302.60" width="16.00" height="2.80" rx="0.60" fill="#111" fill-opacity="0.80" filter="url(#bb)"/>
<rect x="218.00" y="302.50" width="16.00" height="3.00" rx="0.60" fill="#111" fill-opacity="0.98" filter="url(#bb)"/>
<rect x="238.00" y="303.00" width="16.00" height="2.60" rx="0.60" fill="#111" fill-opacity="0.60" filter="url(#bb)"/>
<rect x="258.30" y="303.00" width="16.00" height="2.60" rx="0.60" fill="#111" fill-opacity="0.70" filter="url(#bb)"/>
<rect x="194.45" y="297.00" width="2.4" height="13.90" fill="#ffffff" fill-opacity="0.22" filter="url(#bs)"/>
<rect x="214.70" y="297.00" width="2.4" height="13.90" fill="#ffffff" fill-opacity="0.22" filter="url(#bs)"/>
<rect x="234.80" y="297.00" width="2.4" height="13.90" fill="#ffffff" fill-opacity="0.22" filter="url(#bs)"/>
<rect x="254.95" y="297.00" width="2.4" height="13.90" fill="#ffffff" fill-opacity="0.22" filter="url(#bs)"/>
<rect x="176.00" y="297.00" width="101.40" height="13.90" fill="none" stroke="#2a2a2a" stroke-width="1.3"/>
<rect x="176.00" y="312.50" width="101.40" height="14.10" fill="#e8e8e8"/>
<rect x="176.75" y="317.70" width="17.50" height="2.20" rx="0.60" fill="#111" fill-opacity="0.70" filter="url(#bb)"/>
<rect x="197.05" y="318.40" width="17.50" height="2.20" rx="0.60" fill="#111" fill-opacity="0.55" filter="url(#bb)"/>
<rect x="217.25" y="318.40" width="17.50" height="2.20" rx="0.60" fill="#111" fill-opacity="0.50" filter="url(#bb)"/>
<rect x="237.25" y="318.40" width="17.50" height="2.20" rx="0.60" fill="#111" fill-opacity="0.50" filter="url(#bb)"/>
<rect x="257.55" y="318.40" width="17.50" height="2.20" rx="0.60" fill="#111" fill-opacity="0.50" filter="url(#bb)"/>
<rect x="194.45" y="312.50" width="2.4" height="14.10" fill="#ffffff" fill-opacity="0.22" filter="url(#bs)"/>
<rect x="214.70" y="312.50" width="2.4" height="14.10" fill="#ffffff" fill-opacity="0.22" filter="url(#bs)"/>
<rect x="234.80" y="312.50" width="2.4" height="14.10" fill="#ffffff" fill-opacity="0.22" filter="url(#bs)"/>
<rect x="254.95" y="312.50" width="2.4" height="14.10" fill="#ffffff" fill-opacity="0.22" filter="url(#bs)"/>
<rect x="176.00" y="312.50" width="101.40" height="14.10" fill="none" stroke="#2a2a2a" stroke-width="1.3"/>
<text x="3.00" y="510.80" font-size="10" text-anchor="start" font-weight="bold" fill="#1d1d1b">F</text>
<text x="32.00" y="531.00" font-size="8.6" text-anchor="middle" font-weight="bold" fill="#1d1d1b">Hours post-</text>
<text x="32.00" y="541.00" font-size="8.6" text-anchor="middle" font-weight="bold" fill="#1d1d1b">final dose</text>
<text x="57.00" y="557.60" font-size="8.6" text-anchor="end" fill="#1d1d1b">pRb S807/811</text>
<text x="57.00" y="576.35" font-size="8.6" text-anchor="end" fill="#1d1d1b">Cyclin A2</text>
<text x="57.00" y="594.80" font-size="8.6" text-anchor="end" fill="#1d1d1b">Rb</text>
<text x="57.00" y="613.20" font-size="8.6" text-anchor="end" fill="#1d1d1b">β-Actin</text>
<text x="201.80" y="515.70" font-size="8.7" text-anchor="middle" fill="#1d1d1b">OVCAR3 tumors</text>
<line x1="62.50" y1="518.80" x2="340.00" y2="518.80" stroke="#555" stroke-width="1.2" stroke-linecap="butt"/>
<text x="104.50" y="529.40" font-size="8.7" text-anchor="middle" fill="#1d1d1b">Control</text>
<line x1="62.50" y1="532.50" x2="139.50" y2="532.50" stroke="#555" stroke-width="1.2" stroke-linecap="butt"/>
<text x="253.30" y="529.40" font-size="8.7" text-anchor="middle" fill="#1d1d1b">INX-315 100 mg/kg BID</text>
<line x1="146.30" y1="532.50" x2="340.00" y2="532.50" stroke="#555" stroke-width="1.2" stroke-linecap="butt"/>
<text x="73.75" y="543.20" font-size="8.6" text-anchor="middle" fill="#1d1d1b">2</text>
<text x="93.75" y="543.20" font-size="8.6" text-anchor="middle" fill="#1d1d1b">2</text>
<text x="113.75" y="543.20" font-size="8.6" text-anchor="middle" fill="#1d1d1b">16</text>
<text x="133.75" y="543.20" font-size="8.6" text-anchor="middle" fill="#1d1d1b">16</text>
<text x="153.75" y="543.20" font-size="8.6" text-anchor="middle" fill="#1d1d1b">2</text>
<text x="173.75" y="543.20" font-size="8.6" text-anchor="middle" fill="#1d1d1b">2</text>
<text x="193.75" y="543.20" font-size="8.6" text-anchor="middle" fill="#1d1d1b">2</text>
<text x="213.75" y="543.20" font-size="8.6" text-anchor="middle" fill="#1d1d1b">2</text>
<text x="233.75" y="543.20" font-size="8.6" text-anchor="middle" fill="#1d1d1b">2</text>
<text x="253.75" y="543.20" font-size="8.6" text-anchor="middle" fill="#1d1d1b">16</text>
<text x="273.75" y="543.20" font-size="8.6" text-anchor="middle" fill="#1d1d1b">16</text>
<text x="293.75" y="543.20" font-size="8.6" text-anchor="middle" fill="#1d1d1b">16</text>
<text x="313.75" y="543.20" font-size="8.6" text-anchor="middle" fill="#1d1d1b">16</text>
<text x="333.75" y="543.20" font-size="8.6" text-anchor="middle" fill="#1d1d1b">16</text>
<rect x="60" y="544.60" width="285" height="73.60" fill="#a8a8a8"/>
<rect x="60.00" y="544.60" width="285.00" height="17.40" fill="#e8e8e8"/>
<rect x="65.25" y="555.30" width="17.00" height="2.40" rx="0.60" fill="#111" fill-opacity="0.45" filter="url(#bb)"/>
<rect x="85.25" y="555.30" width="17.00" height="2.40" rx="0.60" fill="#111" fill-opacity="0.15" filter="url(#bb)"/>
<rect x="105.25" y="555.30" width="17.00" height="2.40" rx="0.60" fill="#111" fill-opacity="0.40" filter="url(#bb)"/>
<rect x="125.25" y="555.30" width="17.00" height="2.40" rx="0.60" fill="#111" fill-opacity="0.50" filter="url(#bb)"/>
<rect x="145.25" y="555.30" width="17.00" height="2.40" rx="0.60" fill="#111" fill-opacity="0.05" filter="url(#bb)"/>
<rect x="165.25" y="555.30" width="17.00" height="2.40" rx="0.60" fill="#111" fill-opacity="0.15" filter="url(#bb)"/>
<rect x="185.25" y="555.30" width="17.00" height="2.40" rx="0.60" fill="#111" fill-opacity="0.06" filter="url(#bb)"/>
<rect x="205.25" y="555.30" width="17.00" height="2.40" rx="0.60" fill="#111" fill-opacity="0.10" filter="url(#bb)"/>
<rect x="225.25" y="555.30" width="17.00" height="2.40" rx="0.60" fill="#111" fill-opacity="0.05" filter="url(#bb)"/>
<rect x="245.25" y="555.30" width="17.00" height="2.40" rx="0.60" fill="#111" fill-opacity="0.06" filter="url(#bb)"/>
<rect x="265.25" y="555.30" width="17.00" height="2.40" rx="0.60" fill="#111" fill-opacity="0.08" filter="url(#bb)"/>
<rect x="285.25" y="555.30" width="17.00" height="2.40" rx="0.60" fill="#111" fill-opacity="0.10" filter="url(#bb)"/>
<rect x="305.25" y="555.30" width="17.00" height="2.40" rx="0.60" fill="#111" fill-opacity="0.08" filter="url(#bb)"/>
<rect x="325.25" y="555.30" width="17.00" height="2.40" rx="0.60" fill="#111" fill-opacity="0.06" filter="url(#bb)"/>
<rect x="65.25" y="547.50" width="17.00" height="9.00" rx="0.60" fill="#111" fill-opacity="0.15" filter="url(#bw)"/>
<rect x="85.25" y="547.50" width="17.00" height="9.00" rx="0.60" fill="#111" fill-opacity="0.06" filter="url(#bw)"/>
<rect x="105.25" y="547.50" width="17.00" height="9.00" rx="0.60" fill="#111" fill-opacity="0.25" filter="url(#bw)"/>
<rect x="125.25" y="547.50" width="17.00" height="9.00" rx="0.60" fill="#111" fill-opacity="0.40" filter="url(#bw)"/>
<rect x="145.25" y="547.50" width="17.00" height="9.00" rx="0.60" fill="#111" fill-opacity="0.03" filter="url(#bw)"/>
<rect x="165.25" y="547.50" width="17.00" height="9.00" rx="0.60" fill="#111" fill-opacity="0.10" filter="url(#bw)"/>
<rect x="185.25" y="547.50" width="17.00" height="9.00" rx="0.60" fill="#111" fill-opacity="0.04" filter="url(#bw)"/>
<rect x="205.25" y="547.50" width="17.00" height="9.00" rx="0.60" fill="#111" fill-opacity="0.08" filter="url(#bw)"/>
<rect x="225.25" y="547.50" width="17.00" height="9.00" rx="0.60" fill="#111" fill-opacity="0.03" filter="url(#bw)"/>
<rect x="245.25" y="547.50" width="17.00" height="9.00" rx="0.60" fill="#111" fill-opacity="0.05" filter="url(#bw)"/>
<rect x="265.25" y="547.50" width="17.00" height="9.00" rx="0.60" fill="#111" fill-opacity="0.06" filter="url(#bw)"/>
<rect x="285.25" y="547.50" width="17.00" height="9.00" rx="0.60" fill="#111" fill-opacity="0.08" filter="url(#bw)"/>
<rect x="305.25" y="547.50" width="17.00" height="9.00" rx="0.60" fill="#111" fill-opacity="0.06" filter="url(#bw)"/>
<rect x="325.25" y="547.50" width="17.00" height="9.00" rx="0.60" fill="#111" fill-opacity="0.05" filter="url(#bw)"/>
<rect x="82.55" y="544.60" width="2.4" height="17.40" fill="#ffffff" fill-opacity="0.30" filter="url(#bs)"/>
<rect x="102.55" y="544.60" width="2.4" height="17.40" fill="#ffffff" fill-opacity="0.30" filter="url(#bs)"/>
<rect x="122.55" y="544.60" width="2.4" height="17.40" fill="#ffffff" fill-opacity="0.30" filter="url(#bs)"/>
<rect x="142.55" y="544.60" width="2.4" height="17.40" fill="#ffffff" fill-opacity="0.30" filter="url(#bs)"/>
<rect x="162.55" y="544.60" width="2.4" height="17.40" fill="#ffffff" fill-opacity="0.30" filter="url(#bs)"/>
<rect x="182.55" y="544.60" width="2.4" height="17.40" fill="#ffffff" fill-opacity="0.30" filter="url(#bs)"/>
<rect x="202.55" y="544.60" width="2.4" height="17.40" fill="#ffffff" fill-opacity="0.30" filter="url(#bs)"/>
<rect x="222.55" y="544.60" width="2.4" height="17.40" fill="#ffffff" fill-opacity="0.30" filter="url(#bs)"/>
<rect x="242.55" y="544.60" width="2.4" height="17.40" fill="#ffffff" fill-opacity="0.30" filter="url(#bs)"/>
<rect x="262.55" y="544.60" width="2.4" height="17.40" fill="#ffffff" fill-opacity="0.30" filter="url(#bs)"/>
<rect x="282.55" y="544.60" width="2.4" height="17.40" fill="#ffffff" fill-opacity="0.30" filter="url(#bs)"/>
<rect x="302.55" y="544.60" width="2.4" height="17.40" fill="#ffffff" fill-opacity="0.30" filter="url(#bs)"/>
<rect x="322.55" y="544.60" width="2.4" height="17.40" fill="#ffffff" fill-opacity="0.30" filter="url(#bs)"/>
<rect x="60.00" y="544.60" width="285.00" height="17.40" fill="none" stroke="#2a2a2a" stroke-width="1.3"/>
<rect x="60.00" y="564.50" width="285.00" height="17.10" fill="#e4e4e4"/>
<rect x="65.00" y="576.30" width="17.50" height="2.60" rx="0.60" fill="#111" fill-opacity="0.92" filter="url(#bb)"/>
<rect x="85.00" y="576.50" width="17.50" height="2.60" rx="0.60" fill="#111" fill-opacity="0.60" filter="url(#bb)"/>
<rect x="105.00" y="576.10" width="17.50" height="2.60" rx="0.60" fill="#111" fill-opacity="0.90" filter="url(#bb)"/>
<rect x="125.00" y="575.70" width="17.50" height="2.60" rx="0.60" fill="#111" fill-opacity="0.98" filter="url(#bb)"/>
<rect x="145.00" y="576.50" width="17.50" height="2.60" rx="0.60" fill="#111" fill-opacity="0.45" filter="url(#bb)"/>
<rect x="165.00" y="576.10" width="17.50" height="2.60" rx="0.60" fill="#111" fill-opacity="0.60" filter="url(#bb)"/>
<rect x="185.00" y="576.30" width="17.50" height="2.60" rx="0.60" fill="#111" fill-opacity="0.40" filter="url(#bb)"/>
<rect x="205.00" y="575.70" width="17.50" height="2.60" rx="0.60" fill="#111" fill-opacity="0.55" filter="url(#bb)"/>
<rect x="225.00" y="575.90" width="17.50" height="2.60" rx="0.60" fill="#111" fill-opacity="0.35" filter="url(#bb)"/>
<rect x="245.00" y="576.10" width="17.50" height="2.60" rx="0.60" fill="#111" fill-opacity="0.40" filter="url(#bb)"/>
<rect x="265.00" y="574.70" width="17.50" height="2.60" rx="0.60" fill="#111" fill-opacity="0.80" filter="url(#bb)"/>
<rect x="285.00" y="575.00" width="17.50" height="2.60" rx="0.60" fill="#111" fill-opacity="0.50" filter="url(#bb)"/>
<rect x="305.00" y="574.10" width="17.50" height="2.60" rx="0.60" fill="#111" fill-opacity="0.50" filter="url(#bb)"/>
<rect x="325.00" y="573.30" width="17.50" height="2.60" rx="0.60" fill="#111" fill-opacity="0.45" filter="url(#bb)"/>
<rect x="82.55" y="564.50" width="2.4" height="17.10" fill="#ffffff" fill-opacity="0.30" filter="url(#bs)"/>
<rect x="102.55" y="564.50" width="2.4" height="17.10" fill="#ffffff" fill-opacity="0.30" filter="url(#bs)"/>
<rect x="122.55" y="564.50" width="2.4" height="17.10" fill="#ffffff" fill-opacity="0.30" filter="url(#bs)"/>
<rect x="142.55" y="564.50" width="2.4" height="17.10" fill="#ffffff" fill-opacity="0.30" filter="url(#bs)"/>
<rect x="162.55" y="564.50" width="2.4" height="17.10" fill="#ffffff" fill-opacity="0.30" filter="url(#bs)"/>
<rect x="182.55" y="564.50" width="2.4" height="17.10" fill="#ffffff" fill-opacity="0.30" filter="url(#bs)"/>
<rect x="202.55" y="564.50" width="2.4" height="17.10" fill="#ffffff" fill-opacity="0.30" filter="url(#bs)"/>
<rect x="222.55" y="564.50" width="2.4" height="17.10" fill="#ffffff" fill-opacity="0.30" filter="url(#bs)"/>
<rect x="242.55" y="564.50" width="2.4" height="17.10" fill="#ffffff" fill-opacity="0.30" filter="url(#bs)"/>
<rect x="262.55" y="564.50" width="2.4" height="17.10" fill="#ffffff" fill-opacity="0.30" filter="url(#bs)"/>
<rect x="282.55" y="564.50" width="2.4" height="17.10" fill="#ffffff" fill-opacity="0.30" filter="url(#bs)"/>
<rect x="302.55" y="564.50" width="2.4" height="17.10" fill="#ffffff" fill-opacity="0.30" filter="url(#bs)"/>
<rect x="322.55" y="564.50" width="2.4" height="17.10" fill="#ffffff" fill-opacity="0.30" filter="url(#bs)"/>
<rect x="60.00" y="564.50" width="285.00" height="17.10" fill="none" stroke="#2a2a2a" stroke-width="1.3"/>
<rect x="60.00" y="583.40" width="285.00" height="16.20" fill="#dedede"/>
<rect x="65.25" y="592.10" width="17.00" height="2.60" rx="0.60" fill="#111" fill-opacity="0.75" filter="url(#bb)"/>
<rect x="85.25" y="592.10" width="17.00" height="2.60" rx="0.60" fill="#111" fill-opacity="0.20" filter="url(#bb)"/>
<rect x="105.25" y="592.10" width="17.00" height="2.60" rx="0.60" fill="#111" fill-opacity="0.70" filter="url(#bb)"/>
<rect x="125.25" y="592.10" width="17.00" height="2.60" rx="0.60" fill="#111" fill-opacity="0.60" filter="url(#bb)"/>
<rect x="145.25" y="592.10" width="17.00" height="2.60" rx="0.60" fill="#111" fill-opacity="0.30" filter="url(#bb)"/>
<rect x="165.25" y="592.10" width="17.00" height="2.60" rx="0.60" fill="#111" fill-opacity="0.55" filter="url(#bb)"/>
<rect x="185.25" y="592.10" width="17.00" height="2.60" rx="0.60" fill="#111" fill-opacity="0.35" filter="url(#bb)"/>
<rect x="205.25" y="592.10" width="17.00" height="2.60" rx="0.60" fill="#111" fill-opacity="0.45" filter="url(#bb)"/>
<rect x="225.25" y="592.10" width="17.00" height="2.60" rx="0.60" fill="#111" fill-opacity="0.30" filter="url(#bb)"/>
<rect x="245.25" y="592.10" width="17.00" height="2.60" rx="0.60" fill="#111" fill-opacity="0.35" filter="url(#bb)"/>
<rect x="265.25" y="592.10" width="17.00" height="2.60" rx="0.60" fill="#111" fill-opacity="0.35" filter="url(#bb)"/>
<rect x="285.25" y="592.10" width="17.00" height="2.60" rx="0.60" fill="#111" fill-opacity="0.55" filter="url(#bb)"/>
<rect x="305.25" y="592.10" width="17.00" height="2.60" rx="0.60" fill="#111" fill-opacity="0.30" filter="url(#bb)"/>
<rect x="325.25" y="592.10" width="17.00" height="2.60" rx="0.60" fill="#111" fill-opacity="0.40" filter="url(#bb)"/>
<rect x="65.25" y="585.50" width="17.00" height="8.00" rx="0.60" fill="#111" fill-opacity="0.30" filter="url(#bw)"/>
<rect x="85.25" y="585.50" width="17.00" height="8.00" rx="0.60" fill="#111" fill-opacity="0.10" filter="url(#bw)"/>
<rect x="105.25" y="585.50" width="17.00" height="8.00" rx="0.60" fill="#111" fill-opacity="0.35" filter="url(#bw)"/>
<rect x="125.25" y="585.50" width="17.00" height="8.00" rx="0.60" fill="#111" fill-opacity="0.30" filter="url(#bw)"/>
<rect x="145.25" y="585.50" width="17.00" height="8.00" rx="0.60" fill="#111" fill-opacity="0.20" filter="url(#bw)"/>
<rect x="165.25" y="585.50" width="17.00" height="8.00" rx="0.60" fill="#111" fill-opacity="0.30" filter="url(#bw)"/>
<rect x="185.25" y="585.50" width="17.00" height="8.00" rx="0.60" fill="#111" fill-opacity="0.20" filter="url(#bw)"/>
<rect x="205.25" y="585.50" width="17.00" height="8.00" rx="0.60" fill="#111" fill-opacity="0.25" filter="url(#bw)"/>
<rect x="225.25" y="585.50" width="17.00" height="8.00" rx="0.60" fill="#111" fill-opacity="0.20" filter="url(#bw)"/>
<rect x="245.25" y="585.50" width="17.00" height="8.00" rx="0.60" fill="#111" fill-opacity="0.20" filter="url(#bw)"/>
<rect x="265.25" y="585.50" width="17.00" height="8.00" rx="0.60" fill="#111" fill-opacity="0.20" filter="url(#bw)"/>
<rect x="285.25" y="585.50" width="17.00" height="8.00" rx="0.60" fill="#111" fill-opacity="0.30" filter="url(#bw)"/>
<rect x="305.25" y="585.50" width="17.00" height="8.00" rx="0.60" fill="#111" fill-opacity="0.15" filter="url(#bw)"/>
<rect x="325.25" y="585.50" width="17.00" height="8.00" rx="0.60" fill="#111" fill-opacity="0.20" filter="url(#bw)"/>
<rect x="82.55" y="583.40" width="2.4" height="16.20" fill="#ffffff" fill-opacity="0.30" filter="url(#bs)"/>
<rect x="102.55" y="583.40" width="2.4" height="16.20" fill="#ffffff" fill-opacity="0.30" filter="url(#bs)"/>
<rect x="122.55" y="583.40" width="2.4" height="16.20" fill="#ffffff" fill-opacity="0.30" filter="url(#bs)"/>
<rect x="142.55" y="583.40" width="2.4" height="16.20" fill="#ffffff" fill-opacity="0.30" filter="url(#bs)"/>
<rect x="162.55" y="583.40" width="2.4" height="16.20" fill="#ffffff" fill-opacity="0.30" filter="url(#bs)"/>
<rect x="182.55" y="583.40" width="2.4" height="16.20" fill="#ffffff" fill-opacity="0.30" filter="url(#bs)"/>
<rect x="202.55" y="583.40" width="2.4" height="16.20" fill="#ffffff" fill-opacity="0.30" filter="url(#bs)"/>
<rect x="222.55" y="583.40" width="2.4" height="16.20" fill="#ffffff" fill-opacity="0.30" filter="url(#bs)"/>
<rect x="242.55" y="583.40" width="2.4" height="16.20" fill="#ffffff" fill-opacity="0.30" filter="url(#bs)"/>
<rect x="262.55" y="583.40" width="2.4" height="16.20" fill="#ffffff" fill-opacity="0.30" filter="url(#bs)"/>
<rect x="282.55" y="583.40" width="2.4" height="16.20" fill="#ffffff" fill-opacity="0.30" filter="url(#bs)"/>
<rect x="302.55" y="583.40" width="2.4" height="16.20" fill="#ffffff" fill-opacity="0.30" filter="url(#bs)"/>
<rect x="322.55" y="583.40" width="2.4" height="16.20" fill="#ffffff" fill-opacity="0.30" filter="url(#bs)"/>
<rect x="60.00" y="583.40" width="285.00" height="16.20" fill="none" stroke="#2a2a2a" stroke-width="1.3"/>
<rect x="60.00" y="601.60" width="285.00" height="16.60" fill="#e6e6e6"/>
<rect x="64.50" y="609.20" width="18.50" height="3.20" rx="0.60" fill="#111" fill-opacity="0.78" filter="url(#bm)"/>
<rect x="84.50" y="609.20" width="18.50" height="3.20" rx="0.60" fill="#111" fill-opacity="0.75" filter="url(#bm)"/>
<rect x="104.50" y="609.20" width="18.50" height="3.20" rx="0.60" fill="#111" fill-opacity="0.78" filter="url(#bm)"/>
<rect x="124.50" y="609.20" width="18.50" height="3.20" rx="0.60" fill="#111" fill-opacity="0.72" filter="url(#bm)"/>
<rect x="144.50" y="610.80" width="18.50" height="3.20" rx="0.60" fill="#111" fill-opacity="0.82" filter="url(#bm)"/>
<rect x="164.50" y="610.80" width="18.50" height="3.20" rx="0.60" fill="#111" fill-opacity="0.80" filter="url(#bm)"/>
<rect x="184.50" y="610.80" width="18.50" height="3.20" rx="0.60" fill="#111" fill-opacity="0.82" filter="url(#bm)"/>
<rect x="204.50" y="610.80" width="18.50" height="3.20" rx="0.60" fill="#111" fill-opacity="0.80" filter="url(#bm)"/>
<rect x="224.50" y="610.80" width="18.50" height="3.20" rx="0.60" fill="#111" fill-opacity="0.78" filter="url(#bm)"/>
<rect x="244.50" y="610.80" width="18.50" height="3.20" rx="0.60" fill="#111" fill-opacity="0.80" filter="url(#bm)"/>
<rect x="264.50" y="610.80" width="18.50" height="3.20" rx="0.60" fill="#111" fill-opacity="0.80" filter="url(#bm)"/>
<rect x="284.50" y="610.80" width="18.50" height="3.20" rx="0.60" fill="#111" fill-opacity="0.82" filter="url(#bm)"/>
<rect x="304.50" y="610.80" width="18.50" height="3.20" rx="0.60" fill="#111" fill-opacity="0.80" filter="url(#bm)"/>
<rect x="324.50" y="610.80" width="18.50" height="3.20" rx="0.60" fill="#111" fill-opacity="0.82" filter="url(#bm)"/>
<rect x="82.55" y="601.60" width="2.4" height="16.60" fill="#ffffff" fill-opacity="0.30" filter="url(#bs)"/>
<rect x="102.55" y="601.60" width="2.4" height="16.60" fill="#ffffff" fill-opacity="0.30" filter="url(#bs)"/>
<rect x="122.55" y="601.60" width="2.4" height="16.60" fill="#ffffff" fill-opacity="0.30" filter="url(#bs)"/>
<rect x="142.55" y="601.60" width="2.4" height="16.60" fill="#ffffff" fill-opacity="0.30" filter="url(#bs)"/>
<rect x="162.55" y="601.60" width="2.4" height="16.60" fill="#ffffff" fill-opacity="0.30" filter="url(#bs)"/>
<rect x="182.55" y="601.60" width="2.4" height="16.60" fill="#ffffff" fill-opacity="0.30" filter="url(#bs)"/>
<rect x="202.55" y="601.60" width="2.4" height="16.60" fill="#ffffff" fill-opacity="0.30" filter="url(#bs)"/>
<rect x="222.55" y="601.60" width="2.4" height="16.60" fill="#ffffff" fill-opacity="0.30" filter="url(#bs)"/>
<rect x="242.55" y="601.60" width="2.4" height="16.60" fill="#ffffff" fill-opacity="0.30" filter="url(#bs)"/>
<rect x="262.55" y="601.60" width="2.4" height="16.60" fill="#ffffff" fill-opacity="0.30" filter="url(#bs)"/>
<rect x="282.55" y="601.60" width="2.4" height="16.60" fill="#ffffff" fill-opacity="0.30" filter="url(#bs)"/>
<rect x="302.55" y="601.60" width="2.4" height="16.60" fill="#ffffff" fill-opacity="0.30" filter="url(#bs)"/>
<rect x="322.55" y="601.60" width="2.4" height="16.60" fill="#ffffff" fill-opacity="0.30" filter="url(#bs)"/>
<rect x="60.00" y="601.60" width="285.00" height="16.60" fill="none" stroke="#2a2a2a" stroke-width="1.3"/>
<text x="434.00" y="515.70" font-size="8.7" text-anchor="middle" fill="#1d1d1b">OV5398 tumors</text>
<line x1="353.80" y1="518.80" x2="513.80" y2="518.80" stroke="#555" stroke-width="1.2" stroke-linecap="butt"/>
<text x="384.50" y="529.40" font-size="8.7" text-anchor="middle" fill="#1d1d1b">Control</text>
<line x1="353.80" y1="532.50" x2="411.30" y2="532.50" stroke="#555" stroke-width="1.2" stroke-linecap="butt"/>
<text x="466.20" y="529.40" font-size="8.7" text-anchor="middle" fill="#1d1d1b">INX-315 100 mg/kg BID</text>
<line x1="418.00" y1="532.50" x2="513.80" y2="532.50" stroke="#555" stroke-width="1.2" stroke-linecap="butt"/>
<text x="364.00" y="543.20" font-size="8.6" text-anchor="middle" fill="#1d1d1b">2</text>
<text x="384.00" y="543.20" font-size="8.6" text-anchor="middle" fill="#1d1d1b">2</text>
<text x="405.00" y="543.20" font-size="8.6" text-anchor="middle" fill="#1d1d1b">2</text>
<text x="425.30" y="543.20" font-size="8.6" text-anchor="middle" fill="#1d1d1b">2</text>
<text x="445.00" y="543.20" font-size="8.6" text-anchor="middle" fill="#1d1d1b">2</text>
<text x="464.80" y="543.20" font-size="8.6" text-anchor="middle" fill="#1d1d1b">2</text>
<text x="484.50" y="543.20" font-size="8.6" text-anchor="middle" fill="#1d1d1b">8</text>
<text x="502.50" y="543.20" font-size="8.6" text-anchor="middle" fill="#1d1d1b">8</text>
<rect x="353.3" y="544.60" width="161.2" height="73.60" fill="#a8a8a8"/>
<rect x="353.30" y="544.60" width="161.20" height="17.40" fill="#e8e8e8"/>
<rect x="355.50" y="550.50" width="17.00" height="4.00" rx="0.60" fill="#111" fill-opacity="0.30" filter="url(#bw)"/>
<rect x="375.30" y="550.50" width="17.00" height="4.00" rx="0.60" fill="#111" fill-opacity="0.38" filter="url(#bw)"/>
<rect x="395.10" y="552.25" width="17.00" height="3.50" rx="0.60" fill="#111" fill-opacity="0.50" filter="url(#bw)"/>
<rect x="355.50" y="547.00" width="17.00" height="10.00" rx="0.60" fill="#111" fill-opacity="0.18" filter="url(#bw)"/>
<rect x="375.30" y="547.00" width="17.00" height="10.00" rx="0.60" fill="#111" fill-opacity="0.28" filter="url(#bw)"/>
<rect x="395.10" y="547.00" width="17.00" height="10.00" rx="0.60" fill="#111" fill-opacity="0.32" filter="url(#bw)"/>
<rect x="414.90" y="547.00" width="17.00" height="10.00" rx="0.60" fill="#111" fill-opacity="0.05" filter="url(#bw)"/>
<rect x="434.70" y="547.00" width="17.00" height="10.00" rx="0.60" fill="#111" fill-opacity="0.10" filter="url(#bw)"/>
<rect x="454.50" y="547.00" width="17.00" height="10.00" rx="0.60" fill="#111" fill-opacity="0.08" filter="url(#bw)"/>
<rect x="474.30" y="547.00" width="17.00" height="10.00" rx="0.60" fill="#111" fill-opacity="0.10" filter="url(#bw)"/>
<rect x="494.10" y="547.00" width="17.00" height="10.00" rx="0.60" fill="#111" fill-opacity="0.05" filter="url(#bw)"/>
<rect x="372.70" y="544.60" width="2.4" height="17.40" fill="#ffffff" fill-opacity="0.30" filter="url(#bs)"/>
<rect x="392.50" y="544.60" width="2.4" height="17.40" fill="#ffffff" fill-opacity="0.30" filter="url(#bs)"/>
<rect x="412.30" y="544.60" width="2.4" height="17.40" fill="#ffffff" fill-opacity="0.30" filter="url(#bs)"/>
<rect x="432.10" y="544.60" width="2.4" height="17.40" fill="#ffffff" fill-opacity="0.30" filter="url(#bs)"/>
<rect x="451.90" y="544.60" width="2.4" height="17.40" fill="#ffffff" fill-opacity="0.30" filter="url(#bs)"/>
<rect x="471.70" y="544.60" width="2.4" height="17.40" fill="#ffffff" fill-opacity="0.30" filter="url(#bs)"/>
<rect x="491.50" y="544.60" width="2.4" height="17.40" fill="#ffffff" fill-opacity="0.30" filter="url(#bs)"/>
<rect x="353.30" y="544.60" width="161.20" height="17.40" fill="none" stroke="#2a2a2a" stroke-width="1.3"/>
<rect x="353.30" y="564.50" width="161.20" height="17.10" fill="#e4e4e4"/>
<rect x="356.00" y="570.90" width="16.00" height="2.20" rx="0.60" fill="#111" fill-opacity="0.12" filter="url(#bb)"/>
<rect x="375.80" y="570.50" width="16.00" height="2.20" rx="0.60" fill="#111" fill-opacity="0.40" filter="url(#bb)"/>
<rect x="395.60" y="571.30" width="16.00" height="2.20" rx="0.60" fill="#111" fill-opacity="0.45" filter="url(#bb)"/>
<rect x="356.00" y="569.00" width="16.00" height="6.00" rx="0.60" fill="#111" fill-opacity="0.04" filter="url(#bw)"/>
<rect x="375.80" y="569.00" width="16.00" height="6.00" rx="0.60" fill="#111" fill-opacity="0.08" filter="url(#bw)"/>
<rect x="395.60" y="569.00" width="16.00" height="6.00" rx="0.60" fill="#111" fill-opacity="0.08" filter="url(#bw)"/>
<rect x="415.40" y="569.00" width="16.00" height="6.00" rx="0.60" fill="#111" fill-opacity="0.02" filter="url(#bw)"/>
<rect x="435.20" y="569.00" width="16.00" height="6.00" rx="0.60" fill="#111" fill-opacity="0.02" filter="url(#bw)"/>
<rect x="455.00" y="569.00" width="16.00" height="6.00" rx="0.60" fill="#111" fill-opacity="0.02" filter="url(#bw)"/>
<rect x="474.80" y="569.00" width="16.00" height="6.00" rx="0.60" fill="#111" fill-opacity="0.06" filter="url(#bw)"/>
<rect x="494.60" y="569.00" width="16.00" height="6.00" rx="0.60" fill="#111" fill-opacity="0.02" filter="url(#bw)"/>
<rect x="372.70" y="564.50" width="2.4" height="17.10" fill="#ffffff" fill-opacity="0.30" filter="url(#bs)"/>
<rect x="392.50" y="564.50" width="2.4" height="17.10" fill="#ffffff" fill-opacity="0.30" filter="url(#bs)"/>
<rect x="412.30" y="564.50" width="2.4" height="17.10" fill="#ffffff" fill-opacity="0.30" filter="url(#bs)"/>
<rect x="432.10" y="564.50" width="2.4" height="17.10" fill="#ffffff" fill-opacity="0.30" filter="url(#bs)"/>
<rect x="451.90" y="564.50" width="2.4" height="17.10" fill="#ffffff" fill-opacity="0.30" filter="url(#bs)"/>
<rect x="471.70" y="564.50" width="2.4" height="17.10" fill="#ffffff" fill-opacity="0.30" filter="url(#bs)"/>
<rect x="491.50" y="564.50" width="2.4" height="17.10" fill="#ffffff" fill-opacity="0.30" filter="url(#bs)"/>
<rect x="353.30" y="564.50" width="161.20" height="17.10" fill="none" stroke="#2a2a2a" stroke-width="1.3"/>
<rect x="353.30" y="583.40" width="161.20" height="16.20" fill="#dedede"/>
<rect x="355.50" y="589.10" width="17.00" height="3.00" rx="0.60" fill="#111" fill-opacity="0.55" filter="url(#bb)"/>
<rect x="375.30" y="588.90" width="17.00" height="3.40" rx="0.60" fill="#111" fill-opacity="0.70" filter="url(#bb)"/>
<rect x="395.10" y="588.35" width="17.00" height="4.50" rx="0.60" fill="#111" fill-opacity="0.95" filter="url(#bb)"/>
<rect x="414.90" y="588.00" width="17.00" height="5.00" rx="0.60" fill="#111" fill-opacity="0.12" filter="url(#bw)"/>
<rect x="434.70" y="588.00" width="17.00" height="5.00" rx="0.60" fill="#111" fill-opacity="0.35" filter="url(#bw)"/>
<rect x="454.50" y="588.00" width="17.00" height="5.00" rx="0.60" fill="#111" fill-opacity="0.28" filter="url(#bw)"/>
<rect x="474.30" y="588.00" width="17.00" height="5.00" rx="0.60" fill="#111" fill-opacity="0.28" filter="url(#bw)"/>
<rect x="494.10" y="588.00" width="17.00" height="5.00" rx="0.60" fill="#111" fill-opacity="0.12" filter="url(#bw)"/>
<rect x="355.50" y="584.50" width="17.00" height="9.00" rx="0.60" fill="#111" fill-opacity="0.15" filter="url(#bw)"/>
<rect x="375.30" y="584.50" width="17.00" height="9.00" rx="0.60" fill="#111" fill-opacity="0.25" filter="url(#bw)"/>
<rect x="395.10" y="584.50" width="17.00" height="9.00" rx="0.60" fill="#111" fill-opacity="0.35" filter="url(#bw)"/>
<rect x="414.90" y="584.50" width="17.00" height="9.00" rx="0.60" fill="#111" fill-opacity="0.05" filter="url(#bw)"/>
<rect x="434.70" y="584.50" width="17.00" height="9.00" rx="0.60" fill="#111" fill-opacity="0.12" filter="url(#bw)"/>
<rect x="454.50" y="584.50" width="17.00" height="9.00" rx="0.60" fill="#111" fill-opacity="0.10" filter="url(#bw)"/>
<rect x="474.30" y="584.50" width="17.00" height="9.00" rx="0.60" fill="#111" fill-opacity="0.10" filter="url(#bw)"/>
<rect x="494.10" y="584.50" width="17.00" height="9.00" rx="0.60" fill="#111" fill-opacity="0.05" filter="url(#bw)"/>
<rect x="372.70" y="583.40" width="2.4" height="16.20" fill="#ffffff" fill-opacity="0.30" filter="url(#bs)"/>
<rect x="392.50" y="583.40" width="2.4" height="16.20" fill="#ffffff" fill-opacity="0.30" filter="url(#bs)"/>
<rect x="412.30" y="583.40" width="2.4" height="16.20" fill="#ffffff" fill-opacity="0.30" filter="url(#bs)"/>
<rect x="432.10" y="583.40" width="2.4" height="16.20" fill="#ffffff" fill-opacity="0.30" filter="url(#bs)"/>
<rect x="451.90" y="583.40" width="2.4" height="16.20" fill="#ffffff" fill-opacity="0.30" filter="url(#bs)"/>
<rect x="471.70" y="583.40" width="2.4" height="16.20" fill="#ffffff" fill-opacity="0.30" filter="url(#bs)"/>
<rect x="491.50" y="583.40" width="2.4" height="16.20" fill="#ffffff" fill-opacity="0.30" filter="url(#bs)"/>
<rect x="353.30" y="583.40" width="161.20" height="16.20" fill="none" stroke="#2a2a2a" stroke-width="1.3"/>
<rect x="353.30" y="601.60" width="161.20" height="16.60" fill="#e6e6e6"/>
<rect x="355.00" y="606.30" width="18.00" height="3.00" rx="0.60" fill="#111" fill-opacity="0.78" filter="url(#bm)"/>
<rect x="374.80" y="606.70" width="18.00" height="3.00" rx="0.60" fill="#111" fill-opacity="0.72" filter="url(#bm)"/>
<rect x="394.60" y="607.00" width="18.00" height="3.00" rx="0.60" fill="#111" fill-opacity="0.55" filter="url(#bm)"/>
<rect x="414.40" y="609.10" width="18.00" height="3.00" rx="0.60" fill="#111" fill-opacity="0.85" filter="url(#bm)"/>
<rect x="434.20" y="609.10" width="18.00" height="3.00" rx="0.60" fill="#111" fill-opacity="0.72" filter="url(#bm)"/>
<rect x="454.00" y="609.10" width="18.00" height="3.00" rx="0.60" fill="#111" fill-opacity="0.66" filter="url(#bm)"/>
<rect x="473.80" y="609.10" width="18.00" height="3.00" rx="0.60" fill="#111" fill-opacity="0.66" filter="url(#bm)"/>
<rect x="493.60" y="609.30" width="18.00" height="3.00" rx="0.60" fill="#111" fill-opacity="0.70" filter="url(#bm)"/>
<rect x="372.70" y="601.60" width="2.4" height="16.60" fill="#ffffff" fill-opacity="0.30" filter="url(#bs)"/>
<rect x="392.50" y="601.60" width="2.4" height="16.60" fill="#ffffff" fill-opacity="0.30" filter="url(#bs)"/>
<rect x="412.30" y="601.60" width="2.4" height="16.60" fill="#ffffff" fill-opacity="0.30" filter="url(#bs)"/>
<rect x="432.10" y="601.60" width="2.4" height="16.60" fill="#ffffff" fill-opacity="0.30" filter="url(#bs)"/>
<rect x="451.90" y="601.60" width="2.4" height="16.60" fill="#ffffff" fill-opacity="0.30" filter="url(#bs)"/>
<rect x="471.70" y="601.60" width="2.4" height="16.60" fill="#ffffff" fill-opacity="0.30" filter="url(#bs)"/>
<rect x="491.50" y="601.60" width="2.4" height="16.60" fill="#ffffff" fill-opacity="0.30" filter="url(#bs)"/>
<rect x="353.30" y="601.60" width="161.20" height="16.60" fill="none" stroke="#2a2a2a" stroke-width="1.3"/>
<text x="294.00" y="220.00" font-size="10" text-anchor="start" font-weight="bold" fill="#1d1d1b">D</text>
<line x1="356.80" y1="215.40" x2="356.80" y2="296.10" stroke="#1d1d1b" stroke-width="1.5" stroke-linecap="butt"/>
<line x1="352.20" y1="215.40" x2="356.80" y2="215.40" stroke="#1d1d1b" stroke-width="1.5" stroke-linecap="butt"/>
<text x="351.40" y="218.40" font-size="8.6" text-anchor="end" fill="#1d1d1b">2,500</text>
<line x1="352.20" y1="231.40" x2="356.80" y2="231.40" stroke="#1d1d1b" stroke-width="1.5" stroke-linecap="butt"/>
<text x="351.40" y="234.40" font-size="8.6" text-anchor="end" fill="#1d1d1b">2,000</text>
<line x1="352.20" y1="247.40" x2="356.80" y2="247.40" stroke="#1d1d1b" stroke-width="1.5" stroke-linecap="butt"/>
<text x="351.40" y="250.40" font-size="8.6" text-anchor="end" fill="#1d1d1b">1,500</text>
<line x1="352.20" y1="263.40" x2="356.80" y2="263.40" stroke="#1d1d1b" stroke-width="1.5" stroke-linecap="butt"/>
<text x="351.40" y="266.40" font-size="8.6" text-anchor="end" fill="#1d1d1b">1,000</text>
<line x1="352.20" y1="279.40" x2="356.80" y2="279.40" stroke="#1d1d1b" stroke-width="1.5" stroke-linecap="butt"/>
<text x="351.40" y="282.40" font-size="8.6" text-anchor="end" fill="#1d1d1b">500</text>
<line x1="352.20" y1="295.40" x2="356.80" y2="295.40" stroke="#1d1d1b" stroke-width="1.5" stroke-linecap="butt"/>
<text x="351.40" y="298.40" font-size="8.6" text-anchor="end" fill="#1d1d1b">0</text>
<line x1="356.10" y1="295.30" x2="478.40" y2="295.30" stroke="#1d1d1b" stroke-width="1.5" stroke-linecap="butt"/>
<line x1="357.50" y1="295.30" x2="357.50" y2="299.00" stroke="#1d1d1b" stroke-width="1.5" stroke-linecap="butt"/>
<text x="357.50" y="309.10" font-size="8.4" text-anchor="middle" fill="#1d1d1b">0</text>
<line x1="397.50" y1="295.30" x2="397.50" y2="299.00" stroke="#1d1d1b" stroke-width="1.5" stroke-linecap="butt"/>
<text x="397.50" y="309.10" font-size="8.4" text-anchor="middle" fill="#1d1d1b">20</text>
<line x1="437.50" y1="295.30" x2="437.50" y2="299.00" stroke="#1d1d1b" stroke-width="1.5" stroke-linecap="butt"/>
<text x="437.50" y="309.10" font-size="8.4" text-anchor="middle" fill="#1d1d1b">40</text>
<line x1="477.50" y1="295.30" x2="477.50" y2="299.00" stroke="#1d1d1b" stroke-width="1.5" stroke-linecap="butt"/>
<text x="477.50" y="309.10" font-size="8.4" text-anchor="middle" fill="#1d1d1b">60</text>
<line x1="357.50" y1="295.30" x2="357.50" y2="297.60" stroke="#1d1d1b" stroke-width="1.0" stroke-linecap="butt"/>
<line x1="360.36" y1="295.30" x2="360.36" y2="297.60" stroke="#1d1d1b" stroke-width="1.0" stroke-linecap="butt"/>
<line x1="363.21" y1="295.30" x2="363.21" y2="297.60" stroke="#1d1d1b" stroke-width="1.0" stroke-linecap="butt"/>
<line x1="366.07" y1="295.30" x2="366.07" y2="297.60" stroke="#1d1d1b" stroke-width="1.0" stroke-linecap="butt"/>
<line x1="368.93" y1="295.30" x2="368.93" y2="297.60" stroke="#1d1d1b" stroke-width="1.0" stroke-linecap="butt"/>
<line x1="371.79" y1="295.30" x2="371.79" y2="297.60" stroke="#1d1d1b" stroke-width="1.0" stroke-linecap="butt"/>
<line x1="374.64" y1="295.30" x2="374.64" y2="297.60" stroke="#1d1d1b" stroke-width="1.0" stroke-linecap="butt"/>
<line x1="377.50" y1="295.30" x2="377.50" y2="297.60" stroke="#1d1d1b" stroke-width="1.0" stroke-linecap="butt"/>
<line x1="380.36" y1="295.30" x2="380.36" y2="297.60" stroke="#1d1d1b" stroke-width="1.0" stroke-linecap="butt"/>
<line x1="383.21" y1="295.30" x2="383.21" y2="297.60" stroke="#1d1d1b" stroke-width="1.0" stroke-linecap="butt"/>
<line x1="386.07" y1="295.30" x2="386.07" y2="297.60" stroke="#1d1d1b" stroke-width="1.0" stroke-linecap="butt"/>
<line x1="388.93" y1="295.30" x2="388.93" y2="297.60" stroke="#1d1d1b" stroke-width="1.0" stroke-linecap="butt"/>
<line x1="391.78" y1="295.30" x2="391.78" y2="297.60" stroke="#1d1d1b" stroke-width="1.0" stroke-linecap="butt"/>
<line x1="394.64" y1="295.30" x2="394.64" y2="297.60" stroke="#1d1d1b" stroke-width="1.0" stroke-linecap="butt"/>
<line x1="397.50" y1="295.30" x2="397.50" y2="297.60" stroke="#1d1d1b" stroke-width="1.0" stroke-linecap="butt"/>
<line x1="400.36" y1="295.30" x2="400.36" y2="297.60" stroke="#1d1d1b" stroke-width="1.0" stroke-linecap="butt"/>
<line x1="403.21" y1="295.30" x2="403.21" y2="297.60" stroke="#1d1d1b" stroke-width="1.0" stroke-linecap="butt"/>
<line x1="406.07" y1="295.30" x2="406.07" y2="297.60" stroke="#1d1d1b" stroke-width="1.0" stroke-linecap="butt"/>
<line x1="408.93" y1="295.30" x2="408.93" y2="297.60" stroke="#1d1d1b" stroke-width="1.0" stroke-linecap="butt"/>
<line x1="411.78" y1="295.30" x2="411.78" y2="297.60" stroke="#1d1d1b" stroke-width="1.0" stroke-linecap="butt"/>
<line x1="414.64" y1="295.30" x2="414.64" y2="297.60" stroke="#1d1d1b" stroke-width="1.0" stroke-linecap="butt"/>
<line x1="417.50" y1="295.30" x2="417.50" y2="297.60" stroke="#1d1d1b" stroke-width="1.0" stroke-linecap="butt"/>
<line x1="420.35" y1="295.30" x2="420.35" y2="297.60" stroke="#1d1d1b" stroke-width="1.0" stroke-linecap="butt"/>
<line x1="423.21" y1="295.30" x2="423.21" y2="297.60" stroke="#1d1d1b" stroke-width="1.0" stroke-linecap="butt"/>
<line x1="426.07" y1="295.30" x2="426.07" y2="297.60" stroke="#1d1d1b" stroke-width="1.0" stroke-linecap="butt"/>
<line x1="428.93" y1="295.30" x2="428.93" y2="297.60" stroke="#1d1d1b" stroke-width="1.0" stroke-linecap="butt"/>
<line x1="431.78" y1="295.30" x2="431.78" y2="297.60" stroke="#1d1d1b" stroke-width="1.0" stroke-linecap="butt"/>
<line x1="434.64" y1="295.30" x2="434.64" y2="297.60" stroke="#1d1d1b" stroke-width="1.0" stroke-linecap="butt"/>
<line x1="437.50" y1="295.30" x2="437.50" y2="297.60" stroke="#1d1d1b" stroke-width="1.0" stroke-linecap="butt"/>
<line x1="440.35" y1="295.30" x2="440.35" y2="297.60" stroke="#1d1d1b" stroke-width="1.0" stroke-linecap="butt"/>
<line x1="443.21" y1="295.30" x2="443.21" y2="297.60" stroke="#1d1d1b" stroke-width="1.0" stroke-linecap="butt"/>
<line x1="446.07" y1="295.30" x2="446.07" y2="297.60" stroke="#1d1d1b" stroke-width="1.0" stroke-linecap="butt"/>
<line x1="448.92" y1="295.30" x2="448.92" y2="297.60" stroke="#1d1d1b" stroke-width="1.0" stroke-linecap="butt"/>
<line x1="451.78" y1="295.30" x2="451.78" y2="297.60" stroke="#1d1d1b" stroke-width="1.0" stroke-linecap="butt"/>
<line x1="454.64" y1="295.30" x2="454.64" y2="297.60" stroke="#1d1d1b" stroke-width="1.0" stroke-linecap="butt"/>
<line x1="457.50" y1="295.30" x2="457.50" y2="297.60" stroke="#1d1d1b" stroke-width="1.0" stroke-linecap="butt"/>
<line x1="460.35" y1="295.30" x2="460.35" y2="297.60" stroke="#1d1d1b" stroke-width="1.0" stroke-linecap="butt"/>
<line x1="463.21" y1="295.30" x2="463.21" y2="297.60" stroke="#1d1d1b" stroke-width="1.0" stroke-linecap="butt"/>
<line x1="466.07" y1="295.30" x2="466.07" y2="297.60" stroke="#1d1d1b" stroke-width="1.0" stroke-linecap="butt"/>
<line x1="468.92" y1="295.30" x2="468.92" y2="297.60" stroke="#1d1d1b" stroke-width="1.0" stroke-linecap="butt"/>
<line x1="471.78" y1="295.30" x2="471.78" y2="297.60" stroke="#1d1d1b" stroke-width="1.0" stroke-linecap="butt"/>
<line x1="474.64" y1="295.30" x2="474.64" y2="297.60" stroke="#1d1d1b" stroke-width="1.0" stroke-linecap="butt"/>
<line x1="477.49" y1="295.30" x2="477.49" y2="297.60" stroke="#1d1d1b" stroke-width="1.0" stroke-linecap="butt"/>
<text x="414.30" y="320.60" font-size="8.8" text-anchor="middle" fill="#1d1d1b">Days of treatment</text>
<text x="418.60" y="219.90" font-size="8.8" text-anchor="middle" fill="#1d1d1b">GA0103 PDX</text>
<text font-size="8.8" fill="#1d1d1b" text-anchor="middle" transform="translate(324.9,255.5) rotate(-90)">Tumor volume (mm<tspan font-size="6.5" dy="-3">3</tspan><tspan dy="3">)</tspan></text>
<line x1="357.50" y1="290.40" x2="472.00" y2="290.40" stroke="#1d1d1b" stroke-width="0.9" stroke-linecap="butt" stroke-dasharray="1 1.3"/>
<polyline points="357.50,290.75 363.50,290.00 370.50,289.50 377.50,289.60 385.50,289.50 391.50,289.70 399.50,290.00 405.50,290.30 413.50,290.60 419.50,290.90 427.50,291.10 434.50,291.40 441.50,291.70 447.50,291.90 455.50,292.10 461.50,292.30 467.50,292.40" fill="none" stroke="#f4c75a" stroke-width="1.0" stroke-linejoin="round"/>
<polygon points="357.50,289.31 358.70,290.75 357.50,292.19 356.30,290.75" fill="#f4c75a"/>
<polygon points="363.50,288.56 364.70,290.00 363.50,291.44 362.30,290.00" fill="#f4c75a"/>
<polygon points="370.50,288.06 371.70,289.50 370.50,290.94 369.30,289.50" fill="#f4c75a"/>
<polygon points="377.50,288.16 378.70,289.60 377.50,291.04 376.30,289.60" fill="#f4c75a"/>
<polygon points="385.50,288.06 386.70,289.50 385.50,290.94 384.30,289.50" fill="#f4c75a"/>
<polygon points="391.50,288.26 392.70,289.70 391.50,291.14 390.30,289.70" fill="#f4c75a"/>
<polygon points="399.50,288.56 400.70,290.00 399.50,291.44 398.30,290.00" fill="#f4c75a"/>
<polygon points="405.50,288.86 406.70,290.30 405.50,291.74 404.30,290.30" fill="#f4c75a"/>
<polygon points="413.50,289.16 414.70,290.60 413.50,292.04 412.30,290.60" fill="#f4c75a"/>
<polygon points="419.50,289.46 420.70,290.90 419.50,292.34 418.30,290.90" fill="#f4c75a"/>
<polygon points="427.50,289.66 428.70,291.10 427.50,292.54 426.30,291.10" fill="#f4c75a"/>
<polygon points="434.50,289.96 435.70,291.40 434.50,292.84 433.30,291.40" fill="#f4c75a"/>
<polygon points="441.50,290.26 442.70,291.70 441.50,293.14 440.30,291.70" fill="#f4c75a"/>
<polygon points="447.50,290.46 448.70,291.90 447.50,293.34 446.30,291.90" fill="#f4c75a"/>
<polygon points="455.50,290.66 456.70,292.10 455.50,293.54 454.30,292.10" fill="#f4c75a"/>
<polygon points="461.50,290.86 462.70,292.30 461.50,293.74 460.30,292.30" fill="#f4c75a"/>
<polygon points="467.50,290.96 468.70,292.40 467.50,293.84 466.30,292.40" fill="#f4c75a"/>
<polyline points="357.50,290.75 363.50,289.60 370.50,288.60 377.50,288.00 385.50,287.00 391.50,286.00 399.50,285.30 405.50,284.00 413.50,283.20 419.50,282.00 427.50,281.00 434.50,280.50 441.50,279.50 447.50,278.20 455.50,277.00 461.50,275.50 467.50,274.00" fill="none" stroke="#36b0d8" stroke-width="1.0" stroke-linejoin="round"/>
<line x1="357.50" y1="290.35" x2="357.50" y2="291.15" stroke="#36b0d8" stroke-width="0.8" stroke-linecap="butt"/>
<line x1="355.90" y1="290.35" x2="359.10" y2="290.35" stroke="#36b0d8" stroke-width="0.8" stroke-linecap="butt"/>
<line x1="355.90" y1="291.15" x2="359.10" y2="291.15" stroke="#36b0d8" stroke-width="0.8" stroke-linecap="butt"/>
<polygon points="357.50,289.07 358.90,290.75 357.50,292.43 356.10,290.75" fill="#36b0d8"/>
<line x1="363.50" y1="289.10" x2="363.50" y2="290.10" stroke="#36b0d8" stroke-width="0.8" stroke-linecap="butt"/>
<line x1="361.90" y1="289.10" x2="365.10" y2="289.10" stroke="#36b0d8" stroke-width="0.8" stroke-linecap="butt"/>
<line x1="361.90" y1="290.10" x2="365.10" y2="290.10" stroke="#36b0d8" stroke-width="0.8" stroke-linecap="butt"/>
<polygon points="363.50,287.92 364.90,289.60 363.50,291.28 362.10,289.60" fill="#36b0d8"/>
<line x1="370.50" y1="288.00" x2="370.50" y2="289.20" stroke="#36b0d8" stroke-width="0.8" stroke-linecap="butt"/>
<line x1="368.90" y1="288.00" x2="372.10" y2="288.00" stroke="#36b0d8" stroke-width="0.8" stroke-linecap="butt"/>
<line x1="368.90" y1="289.20" x2="372.10" y2="289.20" stroke="#36b0d8" stroke-width="0.8" stroke-linecap="butt"/>
<polygon points="370.50,286.92 371.90,288.60 370.50,290.28 369.10,288.60" fill="#36b0d8"/>
<line x1="377.50" y1="287.20" x2="377.50" y2="288.80" stroke="#36b0d8" stroke-width="0.8" stroke-linecap="butt"/>
<line x1="375.90" y1="287.20" x2="379.10" y2="287.20" stroke="#36b0d8" stroke-width="0.8" stroke-linecap="butt"/>
<line x1="375.90" y1="288.80" x2="379.10" y2="288.80" stroke="#36b0d8" stroke-width="0.8" stroke-linecap="butt"/>
<polygon points="377.50,286.32 378.90,288.00 377.50,289.68 376.10,288.00" fill="#36b0d8"/>
<line x1="385.50" y1="286.00" x2="385.50" y2="288.00" stroke="#36b0d8" stroke-width="0.8" stroke-linecap="butt"/>
<line x1="383.90" y1="286.00" x2="387.10" y2="286.00" stroke="#36b0d8" stroke-width="0.8" stroke-linecap="butt"/>
<line x1="383.90" y1="288.00" x2="387.10" y2="288.00" stroke="#36b0d8" stroke-width="0.8" stroke-linecap="butt"/>
<polygon points="385.50,285.32 386.90,287.00 385.50,288.68 384.10,287.00" fill="#36b0d8"/>
<line x1="391.50" y1="284.80" x2="391.50" y2="287.20" stroke="#36b0d8" stroke-width="0.8" stroke-linecap="butt"/>
<line x1="389.90" y1="284.80" x2="393.10" y2="284.80" stroke="#36b0d8" stroke-width="0.8" stroke-linecap="butt"/>
<line x1="389.90" y1="287.20" x2="393.10" y2="287.20" stroke="#36b0d8" stroke-width="0.8" stroke-linecap="butt"/>
<polygon points="391.50,284.32 392.90,286.00 391.50,287.68 390.10,286.00" fill="#36b0d8"/>
<line x1="399.50" y1="283.90" x2="399.50" y2="286.70" stroke="#36b0d8" stroke-width="0.8" stroke-linecap="butt"/>
<line x1="397.90" y1="283.90" x2="401.10" y2="283.90" stroke="#36b0d8" stroke-width="0.8" stroke-linecap="butt"/>
<line x1="397.90" y1="286.70" x2="401.10" y2="286.70" stroke="#36b0d8" stroke-width="0.8" stroke-linecap="butt"/>
<polygon points="399.50,283.62 400.90,285.30 399.50,286.98 398.10,285.30" fill="#36b0d8"/>
<line x1="405.50" y1="282.40" x2="405.50" y2="285.60" stroke="#36b0d8" stroke-width="0.8" stroke-linecap="butt"/>
<line x1="403.90" y1="282.40" x2="407.10" y2="282.40" stroke="#36b0d8" stroke-width="0.8" stroke-linecap="butt"/>
<line x1="403.90" y1="285.60" x2="407.10" y2="285.60" stroke="#36b0d8" stroke-width="0.8" stroke-linecap="butt"/>
<polygon points="405.50,282.32 406.90,284.00 405.50,285.68 404.10,284.00" fill="#36b0d8"/>
<line x1="413.50" y1="281.40" x2="413.50" y2="285.00" stroke="#36b0d8" stroke-width="0.8" stroke-linecap="butt"/>
<line x1="411.90" y1="281.40" x2="415.10" y2="281.40" stroke="#36b0d8" stroke-width="0.8" stroke-linecap="butt"/>
<line x1="411.90" y1="285.00" x2="415.10" y2="285.00" stroke="#36b0d8" stroke-width="0.8" stroke-linecap="butt"/>
<polygon points="413.50,281.52 414.90,283.20 413.50,284.88 412.10,283.20" fill="#36b0d8"/>
<line x1="419.50" y1="280.00" x2="419.50" y2="284.00" stroke="#36b0d8" stroke-width="0.8" stroke-linecap="butt"/>
<line x1="417.90" y1="280.00" x2="421.10" y2="280.00" stroke="#36b0d8" stroke-width="0.8" stroke-linecap="butt"/>
<line x1="417.90" y1="284.00" x2="421.10" y2="284.00" stroke="#36b0d8" stroke-width="0.8" stroke-linecap="butt"/>
<polygon points="419.50,280.32 420.90,282.00 419.50,283.68 418.10,282.00" fill="#36b0d8"/>
<line x1="427.50" y1="278.70" x2="427.50" y2="283.30" stroke="#36b0d8" stroke-width="0.8" stroke-linecap="butt"/>
<line x1="425.90" y1="278.70" x2="429.10" y2="278.70" stroke="#36b0d8" stroke-width="0.8" stroke-linecap="butt"/>
<line x1="425.90" y1="283.30" x2="429.10" y2="283.30" stroke="#36b0d8" stroke-width="0.8" stroke-linecap="butt"/>
<polygon points="427.50,279.32 428.90,281.00 427.50,282.68 426.10,281.00" fill="#36b0d8"/>
<line x1="434.50" y1="277.90" x2="434.50" y2="283.10" stroke="#36b0d8" stroke-width="0.8" stroke-linecap="butt"/>
<line x1="432.90" y1="277.90" x2="436.10" y2="277.90" stroke="#36b0d8" stroke-width="0.8" stroke-linecap="butt"/>
<line x1="432.90" y1="283.10" x2="436.10" y2="283.10" stroke="#36b0d8" stroke-width="0.8" stroke-linecap="butt"/>
<polygon points="434.50,278.82 435.90,280.50 434.50,282.18 433.10,280.50" fill="#36b0d8"/>
<line x1="441.50" y1="276.60" x2="441.50" y2="282.40" stroke="#36b0d8" stroke-width="0.8" stroke-linecap="butt"/>
<line x1="439.90" y1="276.60" x2="443.10" y2="276.60" stroke="#36b0d8" stroke-width="0.8" stroke-linecap="butt"/>
<line x1="439.90" y1="282.40" x2="443.10" y2="282.40" stroke="#36b0d8" stroke-width="0.8" stroke-linecap="butt"/>
<polygon points="441.50,277.82 442.90,279.50 441.50,281.18 440.10,279.50" fill="#36b0d8"/>
<line x1="447.50" y1="275.00" x2="447.50" y2="281.40" stroke="#36b0d8" stroke-width="0.8" stroke-linecap="butt"/>
<line x1="445.90" y1="275.00" x2="449.10" y2="275.00" stroke="#36b0d8" stroke-width="0.8" stroke-linecap="butt"/>
<line x1="445.90" y1="281.40" x2="449.10" y2="281.40" stroke="#36b0d8" stroke-width="0.8" stroke-linecap="butt"/>
<polygon points="447.50,276.52 448.90,278.20 447.50,279.88 446.10,278.20" fill="#36b0d8"/>
<line x1="455.50" y1="273.40" x2="455.50" y2="280.60" stroke="#36b0d8" stroke-width="0.8" stroke-linecap="butt"/>
<line x1="453.90" y1="273.40" x2="457.10" y2="273.40" stroke="#36b0d8" stroke-width="0.8" stroke-linecap="butt"/>
<line x1="453.90" y1="280.60" x2="457.10" y2="280.60" stroke="#36b0d8" stroke-width="0.8" stroke-linecap="butt"/>
<polygon points="455.50,275.32 456.90,277.00 455.50,278.68 454.10,277.00" fill="#36b0d8"/>
<line x1="461.50" y1="271.50" x2="461.50" y2="279.50" stroke="#36b0d8" stroke-width="0.8" stroke-linecap="butt"/>
<line x1="459.90" y1="271.50" x2="463.10" y2="271.50" stroke="#36b0d8" stroke-width="0.8" stroke-linecap="butt"/>
<line x1="459.90" y1="279.50" x2="463.10" y2="279.50" stroke="#36b0d8" stroke-width="0.8" stroke-linecap="butt"/>
<polygon points="461.50,273.82 462.90,275.50 461.50,277.18 460.10,275.50" fill="#36b0d8"/>
<line x1="467.50" y1="269.60" x2="467.50" y2="278.40" stroke="#36b0d8" stroke-width="0.8" stroke-linecap="butt"/>
<line x1="465.90" y1="269.60" x2="469.10" y2="269.60" stroke="#36b0d8" stroke-width="0.8" stroke-linecap="butt"/>
<line x1="465.90" y1="278.40" x2="469.10" y2="278.40" stroke="#36b0d8" stroke-width="0.8" stroke-linecap="butt"/>
<polygon points="467.50,272.32 468.90,274.00 467.50,275.68 466.10,274.00" fill="#36b0d8"/>
<polyline points="357.50,290.75 363.50,289.50 370.50,288.00 377.50,287.00 385.50,286.25 391.50,285.00 399.50,284.50 405.50,283.00 413.50,282.50 419.50,281.25 427.50,280.50 434.50,280.00 441.50,278.75 447.50,278.00 455.50,276.25 461.50,275.00 467.50,273.00" fill="none" stroke="#2a7cc0" stroke-width="1.0" stroke-linejoin="round"/>
<line x1="357.50" y1="290.35" x2="357.50" y2="291.15" stroke="#2a7cc0" stroke-width="0.8" stroke-linecap="butt"/>
<line x1="355.90" y1="290.35" x2="359.10" y2="290.35" stroke="#2a7cc0" stroke-width="0.8" stroke-linecap="butt"/>
<line x1="355.90" y1="291.15" x2="359.10" y2="291.15" stroke="#2a7cc0" stroke-width="0.8" stroke-linecap="butt"/>
<polygon points="357.50,288.95 355.85,291.95 359.15,291.95" fill="#2a7cc0"/>
<line x1="363.50" y1="289.00" x2="363.50" y2="290.00" stroke="#2a7cc0" stroke-width="0.8" stroke-linecap="butt"/>
<line x1="361.90" y1="289.00" x2="365.10" y2="289.00" stroke="#2a7cc0" stroke-width="0.8" stroke-linecap="butt"/>
<line x1="361.90" y1="290.00" x2="365.10" y2="290.00" stroke="#2a7cc0" stroke-width="0.8" stroke-linecap="butt"/>
<polygon points="363.50,287.70 361.85,290.70 365.15,290.70" fill="#2a7cc0"/>
<line x1="370.50" y1="287.40" x2="370.50" y2="288.60" stroke="#2a7cc0" stroke-width="0.8" stroke-linecap="butt"/>
<line x1="368.90" y1="287.40" x2="372.10" y2="287.40" stroke="#2a7cc0" stroke-width="0.8" stroke-linecap="butt"/>
<line x1="368.90" y1="288.60" x2="372.10" y2="288.60" stroke="#2a7cc0" stroke-width="0.8" stroke-linecap="butt"/>
<polygon points="370.50,286.20 368.85,289.20 372.15,289.20" fill="#2a7cc0"/>
<line x1="377.50" y1="286.20" x2="377.50" y2="287.80" stroke="#2a7cc0" stroke-width="0.8" stroke-linecap="butt"/>
<line x1="375.90" y1="286.20" x2="379.10" y2="286.20" stroke="#2a7cc0" stroke-width="0.8" stroke-linecap="butt"/>
<line x1="375.90" y1="287.80" x2="379.10" y2="287.80" stroke="#2a7cc0" stroke-width="0.8" stroke-linecap="butt"/>
<polygon points="377.50,285.20 375.85,288.20 379.15,288.20" fill="#2a7cc0"/>
<line x1="385.50" y1="285.25" x2="385.50" y2="287.25" stroke="#2a7cc0" stroke-width="0.8" stroke-linecap="butt"/>
<line x1="383.90" y1="285.25" x2="387.10" y2="285.25" stroke="#2a7cc0" stroke-width="0.8" stroke-linecap="butt"/>
<line x1="383.90" y1="287.25" x2="387.10" y2="287.25" stroke="#2a7cc0" stroke-width="0.8" stroke-linecap="butt"/>
<polygon points="385.50,284.45 383.85,287.45 387.15,287.45" fill="#2a7cc0"/>
<line x1="391.50" y1="283.80" x2="391.50" y2="286.20" stroke="#2a7cc0" stroke-width="0.8" stroke-linecap="butt"/>
<line x1="389.90" y1="283.80" x2="393.10" y2="283.80" stroke="#2a7cc0" stroke-width="0.8" stroke-linecap="butt"/>
<line x1="389.90" y1="286.20" x2="393.10" y2="286.20" stroke="#2a7cc0" stroke-width="0.8" stroke-linecap="butt"/>
<polygon points="391.50,283.20 389.85,286.20 393.15,286.20" fill="#2a7cc0"/>
<line x1="399.50" y1="283.10" x2="399.50" y2="285.90" stroke="#2a7cc0" stroke-width="0.8" stroke-linecap="butt"/>
<line x1="397.90" y1="283.10" x2="401.10" y2="283.10" stroke="#2a7cc0" stroke-width="0.8" stroke-linecap="butt"/>
<line x1="397.90" y1="285.90" x2="401.10" y2="285.90" stroke="#2a7cc0" stroke-width="0.8" stroke-linecap="butt"/>
<polygon points="399.50,282.70 397.85,285.70 401.15,285.70" fill="#2a7cc0"/>
<line x1="405.50" y1="281.40" x2="405.50" y2="284.60" stroke="#2a7cc0" stroke-width="0.8" stroke-linecap="butt"/>
<line x1="403.90" y1="281.40" x2="407.10" y2="281.40" stroke="#2a7cc0" stroke-width="0.8" stroke-linecap="butt"/>
<line x1="403.90" y1="284.60" x2="407.10" y2="284.60" stroke="#2a7cc0" stroke-width="0.8" stroke-linecap="butt"/>
<polygon points="405.50,281.20 403.85,284.20 407.15,284.20" fill="#2a7cc0"/>
<line x1="413.50" y1="280.70" x2="413.50" y2="284.30" stroke="#2a7cc0" stroke-width="0.8" stroke-linecap="butt"/>
<line x1="411.90" y1="280.70" x2="415.10" y2="280.70" stroke="#2a7cc0" stroke-width="0.8" stroke-linecap="butt"/>
<line x1="411.90" y1="284.30" x2="415.10" y2="284.30" stroke="#2a7cc0" stroke-width="0.8" stroke-linecap="butt"/>
<polygon points="413.50,280.70 411.85,283.70 415.15,283.70" fill="#2a7cc0"/>
<line x1="419.50" y1="279.25" x2="419.50" y2="283.25" stroke="#2a7cc0" stroke-width="0.8" stroke-linecap="butt"/>
<line x1="417.90" y1="279.25" x2="421.10" y2="279.25" stroke="#2a7cc0" stroke-width="0.8" stroke-linecap="butt"/>
<line x1="417.90" y1="283.25" x2="421.10" y2="283.25" stroke="#2a7cc0" stroke-width="0.8" stroke-linecap="butt"/>
<polygon points="419.50,279.45 417.85,282.45 421.15,282.45" fill="#2a7cc0"/>
<line x1="427.50" y1="278.20" x2="427.50" y2="282.80" stroke="#2a7cc0" stroke-width="0.8" stroke-linecap="butt"/>
<line x1="425.90" y1="278.20" x2="429.10" y2="278.20" stroke="#2a7cc0" stroke-width="0.8" stroke-linecap="butt"/>
<line x1="425.90" y1="282.80" x2="429.10" y2="282.80" stroke="#2a7cc0" stroke-width="0.8" stroke-linecap="butt"/>
<polygon points="427.50,278.70 425.85,281.70 429.15,281.70" fill="#2a7cc0"/>
<line x1="434.50" y1="277.40" x2="434.50" y2="282.60" stroke="#2a7cc0" stroke-width="0.8" stroke-linecap="butt"/>
<line x1="432.90" y1="277.40" x2="436.10" y2="277.40" stroke="#2a7cc0" stroke-width="0.8" stroke-linecap="butt"/>
<line x1="432.90" y1="282.60" x2="436.10" y2="282.60" stroke="#2a7cc0" stroke-width="0.8" stroke-linecap="butt"/>
<polygon points="434.50,278.20 432.85,281.20 436.15,281.20" fill="#2a7cc0"/>
<line x1="441.50" y1="275.85" x2="441.50" y2="281.65" stroke="#2a7cc0" stroke-width="0.8" stroke-linecap="butt"/>
<line x1="439.90" y1="275.85" x2="443.10" y2="275.85" stroke="#2a7cc0" stroke-width="0.8" stroke-linecap="butt"/>
<line x1="439.90" y1="281.65" x2="443.10" y2="281.65" stroke="#2a7cc0" stroke-width="0.8" stroke-linecap="butt"/>
<polygon points="441.50,276.95 439.85,279.95 443.15,279.95" fill="#2a7cc0"/>
<line x1="447.50" y1="274.80" x2="447.50" y2="281.20" stroke="#2a7cc0" stroke-width="0.8" stroke-linecap="butt"/>
<line x1="445.90" y1="274.80" x2="449.10" y2="274.80" stroke="#2a7cc0" stroke-width="0.8" stroke-linecap="butt"/>
<line x1="445.90" y1="281.20" x2="449.10" y2="281.20" stroke="#2a7cc0" stroke-width="0.8" stroke-linecap="butt"/>
<polygon points="447.50,276.20 445.85,279.20 449.15,279.20" fill="#2a7cc0"/>
<line x1="455.50" y1="272.65" x2="455.50" y2="279.85" stroke="#2a7cc0" stroke-width="0.8" stroke-linecap="butt"/>
<line x1="453.90" y1="272.65" x2="457.10" y2="272.65" stroke="#2a7cc0" stroke-width="0.8" stroke-linecap="butt"/>
<line x1="453.90" y1="279.85" x2="457.10" y2="279.85" stroke="#2a7cc0" stroke-width="0.8" stroke-linecap="butt"/>
<polygon points="455.50,274.45 453.85,277.45 457.15,277.45" fill="#2a7cc0"/>
<line x1="461.50" y1="271.00" x2="461.50" y2="279.00" stroke="#2a7cc0" stroke-width="0.8" stroke-linecap="butt"/>
<line x1="459.90" y1="271.00" x2="463.10" y2="271.00" stroke="#2a7cc0" stroke-width="0.8" stroke-linecap="butt"/>
<line x1="459.90" y1="279.00" x2="463.10" y2="279.00" stroke="#2a7cc0" stroke-width="0.8" stroke-linecap="butt"/>
<polygon points="461.50,273.20 459.85,276.20 463.15,276.20" fill="#2a7cc0"/>
<line x1="467.50" y1="268.60" x2="467.50" y2="277.40" stroke="#2a7cc0" stroke-width="0.8" stroke-linecap="butt"/>
<line x1="465.90" y1="268.60" x2="469.10" y2="268.60" stroke="#2a7cc0" stroke-width="0.8" stroke-linecap="butt"/>
<line x1="465.90" y1="277.40" x2="469.10" y2="277.40" stroke="#2a7cc0" stroke-width="0.8" stroke-linecap="butt"/>
<polygon points="467.50,271.20 465.85,274.20 469.15,274.20" fill="#2a7cc0"/>
<polyline points="357.50,290.75 363.50,289.25 370.50,286.75 377.50,285.50 385.50,283.00 391.50,280.00 399.50,278.00 405.50,276.25 413.50,274.50 419.50,272.50 427.50,271.25 434.50,268.75 441.50,266.25 447.50,263.75 455.50,262.00 461.50,258.75 467.50,255.75" fill="none" stroke="#8f2a6f" stroke-width="1.0" stroke-linejoin="round"/>
<line x1="357.50" y1="290.25" x2="357.50" y2="291.25" stroke="#8f2a6f" stroke-width="0.8" stroke-linecap="butt"/>
<line x1="355.90" y1="290.25" x2="359.10" y2="290.25" stroke="#8f2a6f" stroke-width="0.8" stroke-linecap="butt"/>
<line x1="355.90" y1="291.25" x2="359.10" y2="291.25" stroke="#8f2a6f" stroke-width="0.8" stroke-linecap="butt"/>
<rect x="356.00" y="289.25" width="3.00" height="3.00" fill="#8f2a6f"/>
<line x1="363.50" y1="288.65" x2="363.50" y2="289.85" stroke="#8f2a6f" stroke-width="0.8" stroke-linecap="butt"/>
<line x1="361.90" y1="288.65" x2="365.10" y2="288.65" stroke="#8f2a6f" stroke-width="0.8" stroke-linecap="butt"/>
<line x1="361.90" y1="289.85" x2="365.10" y2="289.85" stroke="#8f2a6f" stroke-width="0.8" stroke-linecap="butt"/>
<rect x="362.00" y="287.75" width="3.00" height="3.00" fill="#8f2a6f"/>
<line x1="370.50" y1="286.05" x2="370.50" y2="287.45" stroke="#8f2a6f" stroke-width="0.8" stroke-linecap="butt"/>
<line x1="368.90" y1="286.05" x2="372.10" y2="286.05" stroke="#8f2a6f" stroke-width="0.8" stroke-linecap="butt"/>
<line x1="368.90" y1="287.45" x2="372.10" y2="287.45" stroke="#8f2a6f" stroke-width="0.8" stroke-linecap="butt"/>
<rect x="369.00" y="285.25" width="3.00" height="3.00" fill="#8f2a6f"/>
<line x1="377.50" y1="284.70" x2="377.50" y2="286.30" stroke="#8f2a6f" stroke-width="0.8" stroke-linecap="butt"/>
<line x1="375.90" y1="284.70" x2="379.10" y2="284.70" stroke="#8f2a6f" stroke-width="0.8" stroke-linecap="butt"/>
<line x1="375.90" y1="286.30" x2="379.10" y2="286.30" stroke="#8f2a6f" stroke-width="0.8" stroke-linecap="butt"/>
<rect x="376.00" y="284.00" width="3.00" height="3.00" fill="#8f2a6f"/>
<line x1="385.50" y1="282.10" x2="385.50" y2="283.90" stroke="#8f2a6f" stroke-width="0.8" stroke-linecap="butt"/>
<line x1="383.90" y1="282.10" x2="387.10" y2="282.10" stroke="#8f2a6f" stroke-width="0.8" stroke-linecap="butt"/>
<line x1="383.90" y1="283.90" x2="387.10" y2="283.90" stroke="#8f2a6f" stroke-width="0.8" stroke-linecap="butt"/>
<rect x="384.00" y="281.50" width="3.00" height="3.00" fill="#8f2a6f"/>
<line x1="391.50" y1="279.00" x2="391.50" y2="281.00" stroke="#8f2a6f" stroke-width="0.8" stroke-linecap="butt"/>
<line x1="389.90" y1="279.00" x2="393.10" y2="279.00" stroke="#8f2a6f" stroke-width="0.8" stroke-linecap="butt"/>
<line x1="389.90" y1="281.00" x2="393.10" y2="281.00" stroke="#8f2a6f" stroke-width="0.8" stroke-linecap="butt"/>
<rect x="390.00" y="278.50" width="3.00" height="3.00" fill="#8f2a6f"/>
<line x1="399.50" y1="276.70" x2="399.50" y2="279.30" stroke="#8f2a6f" stroke-width="0.8" stroke-linecap="butt"/>
<line x1="397.90" y1="276.70" x2="401.10" y2="276.70" stroke="#8f2a6f" stroke-width="0.8" stroke-linecap="butt"/>
<line x1="397.90" y1="279.30" x2="401.10" y2="279.30" stroke="#8f2a6f" stroke-width="0.8" stroke-linecap="butt"/>
<rect x="398.00" y="276.50" width="3.00" height="3.00" fill="#8f2a6f"/>
<line x1="405.50" y1="274.65" x2="405.50" y2="277.85" stroke="#8f2a6f" stroke-width="0.8" stroke-linecap="butt"/>
<line x1="403.90" y1="274.65" x2="407.10" y2="274.65" stroke="#8f2a6f" stroke-width="0.8" stroke-linecap="butt"/>
<line x1="403.90" y1="277.85" x2="407.10" y2="277.85" stroke="#8f2a6f" stroke-width="0.8" stroke-linecap="butt"/>
<rect x="404.00" y="274.75" width="3.00" height="3.00" fill="#8f2a6f"/>
<line x1="413.50" y1="272.60" x2="413.50" y2="276.40" stroke="#8f2a6f" stroke-width="0.8" stroke-linecap="butt"/>
<line x1="411.90" y1="272.60" x2="415.10" y2="272.60" stroke="#8f2a6f" stroke-width="0.8" stroke-linecap="butt"/>
<line x1="411.90" y1="276.40" x2="415.10" y2="276.40" stroke="#8f2a6f" stroke-width="0.8" stroke-linecap="butt"/>
<rect x="412.00" y="273.00" width="3.00" height="3.00" fill="#8f2a6f"/>
<line x1="419.50" y1="270.30" x2="419.50" y2="274.70" stroke="#8f2a6f" stroke-width="0.8" stroke-linecap="butt"/>
<line x1="417.90" y1="270.30" x2="421.10" y2="270.30" stroke="#8f2a6f" stroke-width="0.8" stroke-linecap="butt"/>
<line x1="417.90" y1="274.70" x2="421.10" y2="274.70" stroke="#8f2a6f" stroke-width="0.8" stroke-linecap="butt"/>
<rect x="418.00" y="271.00" width="3.00" height="3.00" fill="#8f2a6f"/>
<line x1="427.50" y1="268.75" x2="427.50" y2="273.75" stroke="#8f2a6f" stroke-width="0.8" stroke-linecap="butt"/>
<line x1="425.90" y1="268.75" x2="429.10" y2="268.75" stroke="#8f2a6f" stroke-width="0.8" stroke-linecap="butt"/>
<line x1="425.90" y1="273.75" x2="429.10" y2="273.75" stroke="#8f2a6f" stroke-width="0.8" stroke-linecap="butt"/>
<rect x="426.00" y="269.75" width="3.00" height="3.00" fill="#8f2a6f"/>
<line x1="434.50" y1="265.95" x2="434.50" y2="271.55" stroke="#8f2a6f" stroke-width="0.8" stroke-linecap="butt"/>
<line x1="432.90" y1="265.95" x2="436.10" y2="265.95" stroke="#8f2a6f" stroke-width="0.8" stroke-linecap="butt"/>
<line x1="432.90" y1="271.55" x2="436.10" y2="271.55" stroke="#8f2a6f" stroke-width="0.8" stroke-linecap="butt"/>
<rect x="433.00" y="267.25" width="3.00" height="3.00" fill="#8f2a6f"/>
<line x1="441.50" y1="263.15" x2="441.50" y2="269.35" stroke="#8f2a6f" stroke-width="0.8" stroke-linecap="butt"/>
<line x1="439.90" y1="263.15" x2="443.10" y2="263.15" stroke="#8f2a6f" stroke-width="0.8" stroke-linecap="butt"/>
<line x1="439.90" y1="269.35" x2="443.10" y2="269.35" stroke="#8f2a6f" stroke-width="0.8" stroke-linecap="butt"/>
<rect x="440.00" y="264.75" width="3.00" height="3.00" fill="#8f2a6f"/>
<line x1="447.50" y1="260.35" x2="447.50" y2="267.15" stroke="#8f2a6f" stroke-width="0.8" stroke-linecap="butt"/>
<line x1="445.90" y1="260.35" x2="449.10" y2="260.35" stroke="#8f2a6f" stroke-width="0.8" stroke-linecap="butt"/>
<line x1="445.90" y1="267.15" x2="449.10" y2="267.15" stroke="#8f2a6f" stroke-width="0.8" stroke-linecap="butt"/>
<rect x="446.00" y="262.25" width="3.00" height="3.00" fill="#8f2a6f"/>
<line x1="455.50" y1="258.20" x2="455.50" y2="265.80" stroke="#8f2a6f" stroke-width="0.8" stroke-linecap="butt"/>
<line x1="453.90" y1="258.20" x2="457.10" y2="258.20" stroke="#8f2a6f" stroke-width="0.8" stroke-linecap="butt"/>
<line x1="453.90" y1="265.80" x2="457.10" y2="265.80" stroke="#8f2a6f" stroke-width="0.8" stroke-linecap="butt"/>
<rect x="454.00" y="260.50" width="3.00" height="3.00" fill="#8f2a6f"/>
<line x1="461.50" y1="254.55" x2="461.50" y2="262.95" stroke="#8f2a6f" stroke-width="0.8" stroke-linecap="butt"/>
<line x1="459.90" y1="254.55" x2="463.10" y2="254.55" stroke="#8f2a6f" stroke-width="0.8" stroke-linecap="butt"/>
<line x1="459.90" y1="262.95" x2="463.10" y2="262.95" stroke="#8f2a6f" stroke-width="0.8" stroke-linecap="butt"/>
<rect x="460.00" y="257.25" width="3.00" height="3.00" fill="#8f2a6f"/>
<line x1="467.50" y1="251.15" x2="467.50" y2="260.35" stroke="#8f2a6f" stroke-width="0.8" stroke-linecap="butt"/>
<line x1="465.90" y1="251.15" x2="469.10" y2="251.15" stroke="#8f2a6f" stroke-width="0.8" stroke-linecap="butt"/>
<line x1="465.90" y1="260.35" x2="469.10" y2="260.35" stroke="#8f2a6f" stroke-width="0.8" stroke-linecap="butt"/>
<rect x="466.00" y="254.25" width="3.00" height="3.00" fill="#8f2a6f"/>
<polyline points="357.50,290.75 363.50,289.25 370.50,286.75 377.50,285.50 385.50,283.00 391.50,280.00 399.50,277.00 405.50,273.00 413.50,270.00 419.50,265.00 427.50,261.25 434.50,257.50 441.50,251.25 447.50,247.00 455.50,244.50 461.50,238.00 467.50,232.50" fill="none" stroke="#1a1a1a" stroke-width="1.0" stroke-linejoin="round"/>
<line x1="357.50" y1="290.25" x2="357.50" y2="291.25" stroke="#1a1a1a" stroke-width="0.8" stroke-linecap="butt"/>
<line x1="355.90" y1="290.25" x2="359.10" y2="290.25" stroke="#1a1a1a" stroke-width="0.8" stroke-linecap="butt"/>
<line x1="355.90" y1="291.25" x2="359.10" y2="291.25" stroke="#1a1a1a" stroke-width="0.8" stroke-linecap="butt"/>
<circle cx="357.50" cy="290.75" r="1.80" fill="#1a1a1a"/>
<line x1="363.50" y1="288.55" x2="363.50" y2="289.95" stroke="#1a1a1a" stroke-width="0.8" stroke-linecap="butt"/>
<line x1="361.90" y1="288.55" x2="365.10" y2="288.55" stroke="#1a1a1a" stroke-width="0.8" stroke-linecap="butt"/>
<line x1="361.90" y1="289.95" x2="365.10" y2="289.95" stroke="#1a1a1a" stroke-width="0.8" stroke-linecap="butt"/>
<circle cx="363.50" cy="289.25" r="1.80" fill="#1a1a1a"/>
<line x1="370.50" y1="285.95" x2="370.50" y2="287.55" stroke="#1a1a1a" stroke-width="0.8" stroke-linecap="butt"/>
<line x1="368.90" y1="285.95" x2="372.10" y2="285.95" stroke="#1a1a1a" stroke-width="0.8" stroke-linecap="butt"/>
<line x1="368.90" y1="287.55" x2="372.10" y2="287.55" stroke="#1a1a1a" stroke-width="0.8" stroke-linecap="butt"/>
<circle cx="370.50" cy="286.75" r="1.80" fill="#1a1a1a"/>
<line x1="377.50" y1="284.50" x2="377.50" y2="286.50" stroke="#1a1a1a" stroke-width="0.8" stroke-linecap="butt"/>
<line x1="375.90" y1="284.50" x2="379.10" y2="284.50" stroke="#1a1a1a" stroke-width="0.8" stroke-linecap="butt"/>
<line x1="375.90" y1="286.50" x2="379.10" y2="286.50" stroke="#1a1a1a" stroke-width="0.8" stroke-linecap="butt"/>
<circle cx="377.50" cy="285.50" r="1.80" fill="#1a1a1a"/>
<line x1="385.50" y1="281.80" x2="385.50" y2="284.20" stroke="#1a1a1a" stroke-width="0.8" stroke-linecap="butt"/>
<line x1="383.90" y1="281.80" x2="387.10" y2="281.80" stroke="#1a1a1a" stroke-width="0.8" stroke-linecap="butt"/>
<line x1="383.90" y1="284.20" x2="387.10" y2="284.20" stroke="#1a1a1a" stroke-width="0.8" stroke-linecap="butt"/>
<circle cx="385.50" cy="283.00" r="1.80" fill="#1a1a1a"/>
<line x1="391.50" y1="278.50" x2="391.50" y2="281.50" stroke="#1a1a1a" stroke-width="0.8" stroke-linecap="butt"/>
<line x1="389.90" y1="278.50" x2="393.10" y2="278.50" stroke="#1a1a1a" stroke-width="0.8" stroke-linecap="butt"/>
<line x1="389.90" y1="281.50" x2="393.10" y2="281.50" stroke="#1a1a1a" stroke-width="0.8" stroke-linecap="butt"/>
<circle cx="391.50" cy="280.00" r="1.80" fill="#1a1a1a"/>
<line x1="399.50" y1="274.50" x2="399.50" y2="279.50" stroke="#1a1a1a" stroke-width="0.8" stroke-linecap="butt"/>
<line x1="397.90" y1="274.50" x2="401.10" y2="274.50" stroke="#1a1a1a" stroke-width="0.8" stroke-linecap="butt"/>
<line x1="397.90" y1="279.50" x2="401.10" y2="279.50" stroke="#1a1a1a" stroke-width="0.8" stroke-linecap="butt"/>
<circle cx="399.50" cy="277.00" r="1.80" fill="#1a1a1a"/>
<line x1="405.50" y1="270.40" x2="405.50" y2="275.60" stroke="#1a1a1a" stroke-width="0.8" stroke-linecap="butt"/>
<line x1="403.90" y1="270.40" x2="407.10" y2="270.40" stroke="#1a1a1a" stroke-width="0.8" stroke-linecap="butt"/>
<line x1="403.90" y1="275.60" x2="407.10" y2="275.60" stroke="#1a1a1a" stroke-width="0.8" stroke-linecap="butt"/>
<circle cx="405.50" cy="273.00" r="1.80" fill="#1a1a1a"/>
<line x1="413.50" y1="267.10" x2="413.50" y2="272.90" stroke="#1a1a1a" stroke-width="0.8" stroke-linecap="butt"/>
<line x1="411.90" y1="267.10" x2="415.10" y2="267.10" stroke="#1a1a1a" stroke-width="0.8" stroke-linecap="butt"/>
<line x1="411.90" y1="272.90" x2="415.10" y2="272.90" stroke="#1a1a1a" stroke-width="0.8" stroke-linecap="butt"/>
<circle cx="413.50" cy="270.00" r="1.80" fill="#1a1a1a"/>
<line x1="419.50" y1="261.60" x2="419.50" y2="268.40" stroke="#1a1a1a" stroke-width="0.8" stroke-linecap="butt"/>
<line x1="417.90" y1="261.60" x2="421.10" y2="261.60" stroke="#1a1a1a" stroke-width="0.8" stroke-linecap="butt"/>
<line x1="417.90" y1="268.40" x2="421.10" y2="268.40" stroke="#1a1a1a" stroke-width="0.8" stroke-linecap="butt"/>
<circle cx="419.50" cy="265.00" r="1.80" fill="#1a1a1a"/>
<line x1="427.50" y1="258.25" x2="427.50" y2="264.25" stroke="#1a1a1a" stroke-width="0.8" stroke-linecap="butt"/>
<line x1="425.90" y1="258.25" x2="429.10" y2="258.25" stroke="#1a1a1a" stroke-width="0.8" stroke-linecap="butt"/>
<line x1="425.90" y1="264.25" x2="429.10" y2="264.25" stroke="#1a1a1a" stroke-width="0.8" stroke-linecap="butt"/>
<circle cx="427.50" cy="261.25" r="1.80" fill="#1a1a1a"/>
<line x1="434.50" y1="254.50" x2="434.50" y2="260.50" stroke="#1a1a1a" stroke-width="0.8" stroke-linecap="butt"/>
<line x1="432.90" y1="254.50" x2="436.10" y2="254.50" stroke="#1a1a1a" stroke-width="0.8" stroke-linecap="butt"/>
<line x1="432.90" y1="260.50" x2="436.10" y2="260.50" stroke="#1a1a1a" stroke-width="0.8" stroke-linecap="butt"/>
<circle cx="434.50" cy="257.50" r="1.80" fill="#1a1a1a"/>
<line x1="441.50" y1="246.25" x2="441.50" y2="256.25" stroke="#1a1a1a" stroke-width="0.8" stroke-linecap="butt"/>
<line x1="439.90" y1="246.25" x2="443.10" y2="246.25" stroke="#1a1a1a" stroke-width="0.8" stroke-linecap="butt"/>
<line x1="439.90" y1="256.25" x2="443.10" y2="256.25" stroke="#1a1a1a" stroke-width="0.8" stroke-linecap="butt"/>
<circle cx="441.50" cy="251.25" r="1.80" fill="#1a1a1a"/>
<line x1="447.50" y1="242.00" x2="447.50" y2="252.00" stroke="#1a1a1a" stroke-width="0.8" stroke-linecap="butt"/>
<line x1="445.90" y1="242.00" x2="449.10" y2="242.00" stroke="#1a1a1a" stroke-width="0.8" stroke-linecap="butt"/>
<line x1="445.90" y1="252.00" x2="449.10" y2="252.00" stroke="#1a1a1a" stroke-width="0.8" stroke-linecap="butt"/>
<circle cx="447.50" cy="247.00" r="1.80" fill="#1a1a1a"/>
<line x1="455.50" y1="238.90" x2="455.50" y2="250.10" stroke="#1a1a1a" stroke-width="0.8" stroke-linecap="butt"/>
<line x1="453.90" y1="238.90" x2="457.10" y2="238.90" stroke="#1a1a1a" stroke-width="0.8" stroke-linecap="butt"/>
<line x1="453.90" y1="250.10" x2="457.10" y2="250.10" stroke="#1a1a1a" stroke-width="0.8" stroke-linecap="butt"/>
<circle cx="455.50" cy="244.50" r="1.80" fill="#1a1a1a"/>
<line x1="461.50" y1="230.00" x2="461.50" y2="246.00" stroke="#1a1a1a" stroke-width="0.8" stroke-linecap="butt"/>
<line x1="459.90" y1="230.00" x2="463.10" y2="230.00" stroke="#1a1a1a" stroke-width="0.8" stroke-linecap="butt"/>
<line x1="459.90" y1="246.00" x2="463.10" y2="246.00" stroke="#1a1a1a" stroke-width="0.8" stroke-linecap="butt"/>
<circle cx="461.50" cy="238.00" r="1.80" fill="#1a1a1a"/>
<line x1="467.50" y1="223.90" x2="467.50" y2="241.10" stroke="#1a1a1a" stroke-width="0.8" stroke-linecap="butt"/>
<line x1="465.90" y1="223.90" x2="469.10" y2="223.90" stroke="#1a1a1a" stroke-width="0.8" stroke-linecap="butt"/>
<line x1="465.90" y1="241.10" x2="469.10" y2="241.10" stroke="#1a1a1a" stroke-width="0.8" stroke-linecap="butt"/>
<circle cx="467.50" cy="232.50" r="1.80" fill="#1a1a1a"/>
<line x1="472.50" y1="232.30" x2="472.50" y2="290.30" stroke="#1d1d1b" stroke-width="1.0" stroke-linecap="butt"/>
<line x1="475.50" y1="232.30" x2="475.50" y2="271.60" stroke="#1d1d1b" stroke-width="1.0" stroke-linecap="butt"/>
<line x1="478.50" y1="232.30" x2="478.50" y2="271.60" stroke="#1d1d1b" stroke-width="1.0" stroke-linecap="butt"/>
<line x1="481.50" y1="232.30" x2="481.50" y2="252.30" stroke="#1d1d1b" stroke-width="1.0" stroke-linecap="butt"/>
<text font-size="8.6" fill="#1d1d1b" transform="translate(486,225.8) rotate(90)"><tspan font-style="italic">P</tspan> &lt; 1e-4</text>
<line x1="282.80" y1="324.60" x2="296.80" y2="324.60" stroke="#1a1a1a" stroke-width="1.2" stroke-linecap="butt"/>
<circle cx="289.80" cy="324.60" r="2.00" fill="#1a1a1a"/>
<text x="299.30" y="327.60" font-size="8.6" text-anchor="start" fill="#1d1d1b">Vehicle</text>
<line x1="282.80" y1="334.80" x2="296.80" y2="334.80" stroke="#8f2a6f" stroke-width="1.2" stroke-linecap="butt"/>
<rect x="287.80" y="332.80" width="4.00" height="4.00" fill="#8f2a6f"/>
<text x="299.30" y="337.80" font-size="8.6" text-anchor="start" fill="#1d1d1b">INX-315 (25 mg/kg BID)</text>
<line x1="282.80" y1="345.00" x2="296.80" y2="345.00" stroke="#2a7cc0" stroke-width="1.2" stroke-linecap="butt"/>
<polygon points="289.80,342.60 287.60,346.60 292.00,346.60" fill="#2a7cc0"/>
<text x="299.30" y="348.00" font-size="8.6" text-anchor="start" fill="#1d1d1b">INX-315 (50 mg/kg BID)</text>
<line x1="401.20" y1="334.80" x2="415.20" y2="334.80" stroke="#f4c75a" stroke-width="1.2" stroke-linecap="butt"/>
<polygon points="408.20,332.40 410.20,334.80 408.20,337.20 406.20,334.80" fill="#f4c75a"/>
<text x="417.70" y="337.80" font-size="8.6" text-anchor="start" fill="#1d1d1b">INX-315 (100 mg/kg BID)</text>
<line x1="401.20" y1="345.00" x2="415.20" y2="345.00" stroke="#36b0d8" stroke-width="1.2" stroke-linecap="butt"/>
<polygon points="408.20,342.60 410.20,345.00 408.20,347.40 406.20,345.00" fill="#36b0d8"/>
<text x="417.70" y="348.00" font-size="8.6" text-anchor="start" fill="#1d1d1b">INX-315 (100 mg/kg QD)</text>
<text x="3.00" y="360.00" font-size="10" text-anchor="start" font-weight="bold" fill="#1d1d1b">E</text>
<line x1="60.80" y1="370.00" x2="60.80" y2="445.70" stroke="#1d1d1b" stroke-width="1.5" stroke-linecap="butt"/>
<line x1="57.00" y1="370.00" x2="60.80" y2="370.00" stroke="#1d1d1b" stroke-width="1.5" stroke-linecap="butt"/>
<text x="56.20" y="373.00" font-size="8.8" text-anchor="end" fill="#1d1d1b">2,500</text>
<line x1="57.00" y1="385.00" x2="60.80" y2="385.00" stroke="#1d1d1b" stroke-width="1.5" stroke-linecap="butt"/>
<text x="56.20" y="388.00" font-size="8.8" text-anchor="end" fill="#1d1d1b">2,000</text>
<line x1="57.00" y1="400.00" x2="60.80" y2="400.00" stroke="#1d1d1b" stroke-width="1.5" stroke-linecap="butt"/>
<text x="56.20" y="403.00" font-size="8.8" text-anchor="end" fill="#1d1d1b">1,500</text>
<line x1="57.00" y1="415.00" x2="60.80" y2="415.00" stroke="#1d1d1b" stroke-width="1.5" stroke-linecap="butt"/>
<text x="56.20" y="418.00" font-size="8.8" text-anchor="end" fill="#1d1d1b">1,000</text>
<line x1="57.00" y1="430.00" x2="60.80" y2="430.00" stroke="#1d1d1b" stroke-width="1.5" stroke-linecap="butt"/>
<text x="56.20" y="433.00" font-size="8.8" text-anchor="end" fill="#1d1d1b">500</text>
<line x1="57.00" y1="445.00" x2="60.80" y2="445.00" stroke="#1d1d1b" stroke-width="1.5" stroke-linecap="butt"/>
<text x="56.20" y="448.00" font-size="8.8" text-anchor="end" fill="#1d1d1b">0</text>
<line x1="60.10" y1="445.00" x2="172.00" y2="445.00" stroke="#1d1d1b" stroke-width="1.5" stroke-linecap="butt"/>
<line x1="77.90" y1="445.00" x2="77.90" y2="448.80" stroke="#1d1d1b" stroke-width="1.5" stroke-linecap="butt"/>
<text x="77.90" y="458.80" font-size="8.8" text-anchor="middle" fill="#1d1d1b">5</text>
<line x1="108.90" y1="445.00" x2="108.90" y2="448.80" stroke="#1d1d1b" stroke-width="1.5" stroke-linecap="butt"/>
<text x="108.90" y="458.80" font-size="8.8" text-anchor="middle" fill="#1d1d1b">15</text>
<line x1="140.00" y1="445.00" x2="140.00" y2="448.80" stroke="#1d1d1b" stroke-width="1.5" stroke-linecap="butt"/>
<text x="140.00" y="458.80" font-size="8.8" text-anchor="middle" fill="#1d1d1b">25</text>
<line x1="171.20" y1="445.00" x2="171.20" y2="448.80" stroke="#1d1d1b" stroke-width="1.5" stroke-linecap="butt"/>
<text x="171.20" y="458.80" font-size="8.8" text-anchor="middle" fill="#1d1d1b">35</text>
<text x="110.20" y="375.80" font-size="8.8" text-anchor="middle" fill="#1d1d1b">GA0114 PDX</text>
<text x="117.00" y="471.50" font-size="8.8" text-anchor="middle" fill="#1d1d1b">Days of treatment</text>
<text font-size="8.8" fill="#1d1d1b" text-anchor="middle" transform="translate(29.3,406) rotate(-90)">Tumor volume (mm<tspan font-size="6" dy="-3">3</tspan><tspan dy="3">)</tspan></text>
<line x1="62.00" y1="440.30" x2="171.00" y2="440.30" stroke="#1d1d1b" stroke-width="0.9" stroke-linecap="butt" stroke-dasharray="1 1.3"/>
<polyline points="62.30,441.00 72.70,438.90 84.80,438.40 97.00,438.20 108.00,438.00 119.00,437.90 130.00,437.90 141.00,437.80 152.00,437.70 163.00,437.60 171.00,437.50" fill="none" stroke="#f4c75a" stroke-width="2.2" stroke-linejoin="round"/>
<line x1="71.50" y1="437.60" x2="73.90" y2="437.60" stroke="#f4c75a" stroke-width="0.8" stroke-linecap="butt"/>
<line x1="83.60" y1="437.10" x2="86.00" y2="437.10" stroke="#f4c75a" stroke-width="0.8" stroke-linecap="butt"/>
<line x1="95.80" y1="436.90" x2="98.20" y2="436.90" stroke="#f4c75a" stroke-width="0.8" stroke-linecap="butt"/>
<line x1="106.80" y1="436.70" x2="109.20" y2="436.70" stroke="#f4c75a" stroke-width="0.8" stroke-linecap="butt"/>
<line x1="117.80" y1="436.60" x2="120.20" y2="436.60" stroke="#f4c75a" stroke-width="0.8" stroke-linecap="butt"/>
<line x1="128.80" y1="436.60" x2="131.20" y2="436.60" stroke="#f4c75a" stroke-width="0.8" stroke-linecap="butt"/>
<line x1="139.80" y1="436.50" x2="142.20" y2="436.50" stroke="#f4c75a" stroke-width="0.8" stroke-linecap="butt"/>
<line x1="150.80" y1="436.40" x2="153.20" y2="436.40" stroke="#f4c75a" stroke-width="0.8" stroke-linecap="butt"/>
<line x1="161.80" y1="436.30" x2="164.20" y2="436.30" stroke="#f4c75a" stroke-width="0.8" stroke-linecap="butt"/>
<line x1="169.80" y1="436.20" x2="172.20" y2="436.20" stroke="#f4c75a" stroke-width="0.8" stroke-linecap="butt"/>
<polyline points="61.80,440.60 72.10,438.30 83.80,435.70 93.70,431.00 106.10,426.30 116.20,419.30 128.40,408.70 138.30,400.50 151.40,397.00 160.60,384.60" fill="none" stroke="#1a1a1a" stroke-width="1.5" stroke-linejoin="round"/>
<line x1="61.80" y1="440.10" x2="61.80" y2="441.10" stroke="#1a1a1a" stroke-width="0.9" stroke-linecap="butt"/>
<line x1="60.20" y1="440.10" x2="63.40" y2="440.10" stroke="#1a1a1a" stroke-width="0.9" stroke-linecap="butt"/>
<line x1="60.20" y1="441.10" x2="63.40" y2="441.10" stroke="#1a1a1a" stroke-width="0.9" stroke-linecap="butt"/>
<circle cx="61.80" cy="440.60" r="2.30" fill="#1a1a1a"/>
<line x1="72.10" y1="437.50" x2="72.10" y2="439.10" stroke="#1a1a1a" stroke-width="0.9" stroke-linecap="butt"/>
<line x1="70.50" y1="437.50" x2="73.70" y2="437.50" stroke="#1a1a1a" stroke-width="0.9" stroke-linecap="butt"/>
<line x1="70.50" y1="439.10" x2="73.70" y2="439.10" stroke="#1a1a1a" stroke-width="0.9" stroke-linecap="butt"/>
<circle cx="72.10" cy="438.30" r="2.30" fill="#1a1a1a"/>
<line x1="83.80" y1="434.70" x2="83.80" y2="436.70" stroke="#1a1a1a" stroke-width="0.9" stroke-linecap="butt"/>
<line x1="82.20" y1="434.70" x2="85.40" y2="434.70" stroke="#1a1a1a" stroke-width="0.9" stroke-linecap="butt"/>
<line x1="82.20" y1="436.70" x2="85.40" y2="436.70" stroke="#1a1a1a" stroke-width="0.9" stroke-linecap="butt"/>
<circle cx="83.80" cy="435.70" r="2.30" fill="#1a1a1a"/>
<line x1="93.70" y1="428.40" x2="93.70" y2="433.60" stroke="#1a1a1a" stroke-width="0.9" stroke-linecap="butt"/>
<line x1="92.10" y1="428.40" x2="95.30" y2="428.40" stroke="#1a1a1a" stroke-width="0.9" stroke-linecap="butt"/>
<line x1="92.10" y1="433.60" x2="95.30" y2="433.60" stroke="#1a1a1a" stroke-width="0.9" stroke-linecap="butt"/>
<circle cx="93.70" cy="431.00" r="2.30" fill="#1a1a1a"/>
<line x1="106.10" y1="423.30" x2="106.10" y2="429.30" stroke="#1a1a1a" stroke-width="0.9" stroke-linecap="butt"/>
<line x1="104.50" y1="423.30" x2="107.70" y2="423.30" stroke="#1a1a1a" stroke-width="0.9" stroke-linecap="butt"/>
<line x1="104.50" y1="429.30" x2="107.70" y2="429.30" stroke="#1a1a1a" stroke-width="0.9" stroke-linecap="butt"/>
<circle cx="106.10" cy="426.30" r="2.30" fill="#1a1a1a"/>
<line x1="116.20" y1="416.30" x2="116.20" y2="422.30" stroke="#1a1a1a" stroke-width="0.9" stroke-linecap="butt"/>
<line x1="114.60" y1="416.30" x2="117.80" y2="416.30" stroke="#1a1a1a" stroke-width="0.9" stroke-linecap="butt"/>
<line x1="114.60" y1="422.30" x2="117.80" y2="422.30" stroke="#1a1a1a" stroke-width="0.9" stroke-linecap="butt"/>
<circle cx="116.20" cy="419.30" r="2.30" fill="#1a1a1a"/>
<line x1="128.40" y1="404.40" x2="128.40" y2="413.00" stroke="#1a1a1a" stroke-width="0.9" stroke-linecap="butt"/>
<line x1="126.80" y1="404.40" x2="130.00" y2="404.40" stroke="#1a1a1a" stroke-width="0.9" stroke-linecap="butt"/>
<line x1="126.80" y1="413.00" x2="130.00" y2="413.00" stroke="#1a1a1a" stroke-width="0.9" stroke-linecap="butt"/>
<circle cx="128.40" cy="408.70" r="2.30" fill="#1a1a1a"/>
<line x1="138.30" y1="396.20" x2="138.30" y2="404.80" stroke="#1a1a1a" stroke-width="0.9" stroke-linecap="butt"/>
<line x1="136.70" y1="396.20" x2="139.90" y2="396.20" stroke="#1a1a1a" stroke-width="0.9" stroke-linecap="butt"/>
<line x1="136.70" y1="404.80" x2="139.90" y2="404.80" stroke="#1a1a1a" stroke-width="0.9" stroke-linecap="butt"/>
<circle cx="138.30" cy="400.50" r="2.30" fill="#1a1a1a"/>
<line x1="151.40" y1="392.70" x2="151.40" y2="401.30" stroke="#1a1a1a" stroke-width="0.9" stroke-linecap="butt"/>
<line x1="149.80" y1="392.70" x2="153.00" y2="392.70" stroke="#1a1a1a" stroke-width="0.9" stroke-linecap="butt"/>
<line x1="149.80" y1="401.30" x2="153.00" y2="401.30" stroke="#1a1a1a" stroke-width="0.9" stroke-linecap="butt"/>
<circle cx="151.40" cy="397.00" r="2.30" fill="#1a1a1a"/>
<line x1="160.60" y1="378.40" x2="160.60" y2="390.80" stroke="#1a1a1a" stroke-width="0.9" stroke-linecap="butt"/>
<line x1="159.00" y1="378.40" x2="162.20" y2="378.40" stroke="#1a1a1a" stroke-width="0.9" stroke-linecap="butt"/>
<line x1="159.00" y1="390.80" x2="162.20" y2="390.80" stroke="#1a1a1a" stroke-width="0.9" stroke-linecap="butt"/>
<circle cx="160.60" cy="384.60" r="2.30" fill="#1a1a1a"/>
<line x1="165.50" y1="385.00" x2="165.50" y2="437.50" stroke="#1d1d1b" stroke-width="1.0" stroke-linecap="butt"/>
<text font-size="8.6" fill="#1d1d1b" transform="translate(170,394.2) rotate(90)"><tspan font-style="italic">P</tspan> &lt; 1e-4</text>
<line x1="228.70" y1="368.50" x2="228.70" y2="434.60" stroke="#1d1d1b" stroke-width="1.5" stroke-linecap="butt"/>
<line x1="224.50" y1="368.50" x2="228.70" y2="368.50" stroke="#1d1d1b" stroke-width="1.5" stroke-linecap="butt"/>
<text x="222.90" y="371.50" font-size="8.6" text-anchor="end" fill="#1d1d1b">1,750</text>
<line x1="224.50" y1="390.30" x2="228.70" y2="390.30" stroke="#1d1d1b" stroke-width="1.5" stroke-linecap="butt"/>
<text x="222.90" y="393.30" font-size="8.6" text-anchor="end" fill="#1d1d1b">1,250</text>
<line x1="224.50" y1="412.10" x2="228.70" y2="412.10" stroke="#1d1d1b" stroke-width="1.5" stroke-linecap="butt"/>
<text x="222.90" y="415.10" font-size="8.6" text-anchor="end" fill="#1d1d1b">750</text>
<line x1="224.50" y1="433.90" x2="228.70" y2="433.90" stroke="#1d1d1b" stroke-width="1.5" stroke-linecap="butt"/>
<text x="222.90" y="436.90" font-size="8.6" text-anchor="end" fill="#1d1d1b">250</text>
<line x1="228.70" y1="433.90" x2="228.70" y2="445.50" stroke="#1d1d1b" stroke-width="1.5" stroke-linecap="butt"/>
<line x1="228.00" y1="444.80" x2="342.00" y2="444.80" stroke="#1d1d1b" stroke-width="1.5" stroke-linecap="butt"/>
<line x1="241.00" y1="444.80" x2="241.00" y2="448.60" stroke="#1d1d1b" stroke-width="1.5" stroke-linecap="butt"/>
<text x="241.00" y="458.80" font-size="8.8" text-anchor="middle" fill="#1d1d1b">5</text>
<line x1="266.00" y1="444.80" x2="266.00" y2="448.60" stroke="#1d1d1b" stroke-width="1.5" stroke-linecap="butt"/>
<text x="266.00" y="458.80" font-size="8.8" text-anchor="middle" fill="#1d1d1b">15</text>
<line x1="291.00" y1="444.80" x2="291.00" y2="448.60" stroke="#1d1d1b" stroke-width="1.5" stroke-linecap="butt"/>
<text x="291.00" y="458.80" font-size="8.8" text-anchor="middle" fill="#1d1d1b">25</text>
<line x1="316.00" y1="444.80" x2="316.00" y2="448.60" stroke="#1d1d1b" stroke-width="1.5" stroke-linecap="butt"/>
<text x="316.00" y="458.80" font-size="8.8" text-anchor="middle" fill="#1d1d1b">35</text>
<line x1="341.00" y1="444.80" x2="341.00" y2="448.60" stroke="#1d1d1b" stroke-width="1.5" stroke-linecap="butt"/>
<text x="341.00" y="458.80" font-size="8.8" text-anchor="middle" fill="#1d1d1b">45</text>
<text x="280.00" y="371.40" font-size="8.8" text-anchor="middle" fill="#1d1d1b">OVCAR3 CDX</text>
<text x="291.50" y="471.80" font-size="8.8" text-anchor="middle" fill="#1d1d1b">Days of treatment</text>
<text font-size="8.8" fill="#1d1d1b" text-anchor="middle" transform="translate(195.8,405.5) rotate(-90)">Tumor volume (mm<tspan font-size="6" dy="-3">3</tspan><tspan dy="3">)</tspan></text>
<line x1="229.00" y1="438.30" x2="337.00" y2="438.30" stroke="#1d1d1b" stroke-width="0.9" stroke-linecap="butt" stroke-dasharray="1 1.3"/>
<polyline points="229.50,437.90 240.90,436.00 250.00,435.60 259.50,436.00 264.80,436.30 275.00,436.50 282.10,436.80 292.70,437.00 297.80,437.10 308.10,437.20 313.00,437.30 328.20,437.40 335.60,437.50" fill="none" stroke="#f4c75a" stroke-width="1.0" stroke-linejoin="round"/>
<line x1="229.50" y1="437.30" x2="229.50" y2="438.50" stroke="#f4c75a" stroke-width="0.8" stroke-linecap="butt"/>
<line x1="227.90" y1="437.30" x2="231.10" y2="437.30" stroke="#f4c75a" stroke-width="0.8" stroke-linecap="butt"/>
<line x1="227.90" y1="438.50" x2="231.10" y2="438.50" stroke="#f4c75a" stroke-width="0.8" stroke-linecap="butt"/>
<polygon points="229.50,436.46 230.70,437.90 229.50,439.34 228.30,437.90" fill="#f4c75a"/>
<line x1="240.90" y1="435.40" x2="240.90" y2="436.60" stroke="#f4c75a" stroke-width="0.8" stroke-linecap="butt"/>
<line x1="239.30" y1="435.40" x2="242.50" y2="435.40" stroke="#f4c75a" stroke-width="0.8" stroke-linecap="butt"/>
<line x1="239.30" y1="436.60" x2="242.50" y2="436.60" stroke="#f4c75a" stroke-width="0.8" stroke-linecap="butt"/>
<polygon points="240.90,434.56 242.10,436.00 240.90,437.44 239.70,436.00" fill="#f4c75a"/>
<line x1="250.00" y1="435.00" x2="250.00" y2="436.20" stroke="#f4c75a" stroke-width="0.8" stroke-linecap="butt"/>
<line x1="248.40" y1="435.00" x2="251.60" y2="435.00" stroke="#f4c75a" stroke-width="0.8" stroke-linecap="butt"/>
<line x1="248.40" y1="436.20" x2="251.60" y2="436.20" stroke="#f4c75a" stroke-width="0.8" stroke-linecap="butt"/>
<polygon points="250.00,434.16 251.20,435.60 250.00,437.04 248.80,435.60" fill="#f4c75a"/>
<line x1="259.50" y1="435.40" x2="259.50" y2="436.60" stroke="#f4c75a" stroke-width="0.8" stroke-linecap="butt"/>
<line x1="257.90" y1="435.40" x2="261.10" y2="435.40" stroke="#f4c75a" stroke-width="0.8" stroke-linecap="butt"/>
<line x1="257.90" y1="436.60" x2="261.10" y2="436.60" stroke="#f4c75a" stroke-width="0.8" stroke-linecap="butt"/>
<polygon points="259.50,434.56 260.70,436.00 259.50,437.44 258.30,436.00" fill="#f4c75a"/>
<line x1="264.80" y1="435.70" x2="264.80" y2="436.90" stroke="#f4c75a" stroke-width="0.8" stroke-linecap="butt"/>
<line x1="263.20" y1="435.70" x2="266.40" y2="435.70" stroke="#f4c75a" stroke-width="0.8" stroke-linecap="butt"/>
<line x1="263.20" y1="436.90" x2="266.40" y2="436.90" stroke="#f4c75a" stroke-width="0.8" stroke-linecap="butt"/>
<polygon points="264.80,434.86 266.00,436.30 264.80,437.74 263.60,436.30" fill="#f4c75a"/>
<line x1="275.00" y1="435.90" x2="275.00" y2="437.10" stroke="#f4c75a" stroke-width="0.8" stroke-linecap="butt"/>
<line x1="273.40" y1="435.90" x2="276.60" y2="435.90" stroke="#f4c75a" stroke-width="0.8" stroke-linecap="butt"/>
<line x1="273.40" y1="437.10" x2="276.60" y2="437.10" stroke="#f4c75a" stroke-width="0.8" stroke-linecap="butt"/>
<polygon points="275.00,435.06 276.20,436.50 275.00,437.94 273.80,436.50" fill="#f4c75a"/>
<line x1="282.10" y1="436.20" x2="282.10" y2="437.40" stroke="#f4c75a" stroke-width="0.8" stroke-linecap="butt"/>
<line x1="280.50" y1="436.20" x2="283.70" y2="436.20" stroke="#f4c75a" stroke-width="0.8" stroke-linecap="butt"/>
<line x1="280.50" y1="437.40" x2="283.70" y2="437.40" stroke="#f4c75a" stroke-width="0.8" stroke-linecap="butt"/>
<polygon points="282.10,435.36 283.30,436.80 282.10,438.24 280.90,436.80" fill="#f4c75a"/>
<line x1="292.70" y1="436.40" x2="292.70" y2="437.60" stroke="#f4c75a" stroke-width="0.8" stroke-linecap="butt"/>
<line x1="291.10" y1="436.40" x2="294.30" y2="436.40" stroke="#f4c75a" stroke-width="0.8" stroke-linecap="butt"/>
<line x1="291.10" y1="437.60" x2="294.30" y2="437.60" stroke="#f4c75a" stroke-width="0.8" stroke-linecap="butt"/>
<polygon points="292.70,435.56 293.90,437.00 292.70,438.44 291.50,437.00" fill="#f4c75a"/>
<line x1="297.80" y1="436.50" x2="297.80" y2="437.70" stroke="#f4c75a" stroke-width="0.8" stroke-linecap="butt"/>
<line x1="296.20" y1="436.50" x2="299.40" y2="436.50" stroke="#f4c75a" stroke-width="0.8" stroke-linecap="butt"/>
<line x1="296.20" y1="437.70" x2="299.40" y2="437.70" stroke="#f4c75a" stroke-width="0.8" stroke-linecap="butt"/>
<polygon points="297.80,435.66 299.00,437.10 297.80,438.54 296.60,437.10" fill="#f4c75a"/>
<line x1="308.10" y1="436.60" x2="308.10" y2="437.80" stroke="#f4c75a" stroke-width="0.8" stroke-linecap="butt"/>
<line x1="306.50" y1="436.60" x2="309.70" y2="436.60" stroke="#f4c75a" stroke-width="0.8" stroke-linecap="butt"/>
<line x1="306.50" y1="437.80" x2="309.70" y2="437.80" stroke="#f4c75a" stroke-width="0.8" stroke-linecap="butt"/>
<polygon points="308.10,435.76 309.30,437.20 308.10,438.64 306.90,437.20" fill="#f4c75a"/>
<line x1="313.00" y1="436.70" x2="313.00" y2="437.90" stroke="#f4c75a" stroke-width="0.8" stroke-linecap="butt"/>
<line x1="311.40" y1="436.70" x2="314.60" y2="436.70" stroke="#f4c75a" stroke-width="0.8" stroke-linecap="butt"/>
<line x1="311.40" y1="437.90" x2="314.60" y2="437.90" stroke="#f4c75a" stroke-width="0.8" stroke-linecap="butt"/>
<polygon points="313.00,435.86 314.20,437.30 313.00,438.74 311.80,437.30" fill="#f4c75a"/>
<line x1="328.20" y1="436.80" x2="328.20" y2="438.00" stroke="#f4c75a" stroke-width="0.8" stroke-linecap="butt"/>
<line x1="326.60" y1="436.80" x2="329.80" y2="436.80" stroke="#f4c75a" stroke-width="0.8" stroke-linecap="butt"/>
<line x1="326.60" y1="438.00" x2="329.80" y2="438.00" stroke="#f4c75a" stroke-width="0.8" stroke-linecap="butt"/>
<polygon points="328.20,435.96 329.40,437.40 328.20,438.84 327.00,437.40" fill="#f4c75a"/>
<line x1="335.60" y1="436.90" x2="335.60" y2="438.10" stroke="#f4c75a" stroke-width="0.8" stroke-linecap="butt"/>
<line x1="334.00" y1="436.90" x2="337.20" y2="436.90" stroke="#f4c75a" stroke-width="0.8" stroke-linecap="butt"/>
<line x1="334.00" y1="438.10" x2="337.20" y2="438.10" stroke="#f4c75a" stroke-width="0.8" stroke-linecap="butt"/>
<polygon points="335.60,436.06 336.80,437.50 335.60,438.94 334.40,437.50" fill="#f4c75a"/>
<polyline points="229.50,437.90 240.90,433.20 250.00,431.50 259.50,433.90 264.80,431.50 275.00,433.90 282.10,435.40 292.70,434.30 297.80,434.30 308.10,433.90 313.00,433.50 328.20,432.40 335.60,432.00" fill="none" stroke="#2a88c8" stroke-width="1.1" stroke-linejoin="round"/>
<line x1="229.50" y1="437.10" x2="229.50" y2="438.70" stroke="#2a88c8" stroke-width="0.8" stroke-linecap="butt"/>
<line x1="227.90" y1="437.10" x2="231.10" y2="437.10" stroke="#2a88c8" stroke-width="0.8" stroke-linecap="butt"/>
<line x1="227.90" y1="438.70" x2="231.10" y2="438.70" stroke="#2a88c8" stroke-width="0.8" stroke-linecap="butt"/>
<rect x="227.90" y="436.30" width="3.20" height="3.20" fill="#2a88c8"/>
<line x1="240.90" y1="432.40" x2="240.90" y2="434.00" stroke="#2a88c8" stroke-width="0.8" stroke-linecap="butt"/>
<line x1="239.30" y1="432.40" x2="242.50" y2="432.40" stroke="#2a88c8" stroke-width="0.8" stroke-linecap="butt"/>
<line x1="239.30" y1="434.00" x2="242.50" y2="434.00" stroke="#2a88c8" stroke-width="0.8" stroke-linecap="butt"/>
<rect x="239.30" y="431.60" width="3.20" height="3.20" fill="#2a88c8"/>
<line x1="250.00" y1="430.70" x2="250.00" y2="432.30" stroke="#2a88c8" stroke-width="0.8" stroke-linecap="butt"/>
<line x1="248.40" y1="430.70" x2="251.60" y2="430.70" stroke="#2a88c8" stroke-width="0.8" stroke-linecap="butt"/>
<line x1="248.40" y1="432.30" x2="251.60" y2="432.30" stroke="#2a88c8" stroke-width="0.8" stroke-linecap="butt"/>
<rect x="248.40" y="429.90" width="3.20" height="3.20" fill="#2a88c8"/>
<line x1="259.50" y1="433.10" x2="259.50" y2="434.70" stroke="#2a88c8" stroke-width="0.8" stroke-linecap="butt"/>
<line x1="257.90" y1="433.10" x2="261.10" y2="433.10" stroke="#2a88c8" stroke-width="0.8" stroke-linecap="butt"/>
<line x1="257.90" y1="434.70" x2="261.10" y2="434.70" stroke="#2a88c8" stroke-width="0.8" stroke-linecap="butt"/>
<rect x="257.90" y="432.30" width="3.20" height="3.20" fill="#2a88c8"/>
<line x1="264.80" y1="430.70" x2="264.80" y2="432.30" stroke="#2a88c8" stroke-width="0.8" stroke-linecap="butt"/>
<line x1="263.20" y1="430.70" x2="266.40" y2="430.70" stroke="#2a88c8" stroke-width="0.8" stroke-linecap="butt"/>
<line x1="263.20" y1="432.30" x2="266.40" y2="432.30" stroke="#2a88c8" stroke-width="0.8" stroke-linecap="butt"/>
<rect x="263.20" y="429.90" width="3.20" height="3.20" fill="#2a88c8"/>
<line x1="275.00" y1="433.10" x2="275.00" y2="434.70" stroke="#2a88c8" stroke-width="0.8" stroke-linecap="butt"/>
<line x1="273.40" y1="433.10" x2="276.60" y2="433.10" stroke="#2a88c8" stroke-width="0.8" stroke-linecap="butt"/>
<line x1="273.40" y1="434.70" x2="276.60" y2="434.70" stroke="#2a88c8" stroke-width="0.8" stroke-linecap="butt"/>
<rect x="273.40" y="432.30" width="3.20" height="3.20" fill="#2a88c8"/>
<line x1="282.10" y1="434.60" x2="282.10" y2="436.20" stroke="#2a88c8" stroke-width="0.8" stroke-linecap="butt"/>
<line x1="280.50" y1="434.60" x2="283.70" y2="434.60" stroke="#2a88c8" stroke-width="0.8" stroke-linecap="butt"/>
<line x1="280.50" y1="436.20" x2="283.70" y2="436.20" stroke="#2a88c8" stroke-width="0.8" stroke-linecap="butt"/>
<rect x="280.50" y="433.80" width="3.20" height="3.20" fill="#2a88c8"/>
<line x1="292.70" y1="433.50" x2="292.70" y2="435.10" stroke="#2a88c8" stroke-width="0.8" stroke-linecap="butt"/>
<line x1="291.10" y1="433.50" x2="294.30" y2="433.50" stroke="#2a88c8" stroke-width="0.8" stroke-linecap="butt"/>
<line x1="291.10" y1="435.10" x2="294.30" y2="435.10" stroke="#2a88c8" stroke-width="0.8" stroke-linecap="butt"/>
<rect x="291.10" y="432.70" width="3.20" height="3.20" fill="#2a88c8"/>
<line x1="297.80" y1="433.50" x2="297.80" y2="435.10" stroke="#2a88c8" stroke-width="0.8" stroke-linecap="butt"/>
<line x1="296.20" y1="433.50" x2="299.40" y2="433.50" stroke="#2a88c8" stroke-width="0.8" stroke-linecap="butt"/>
<line x1="296.20" y1="435.10" x2="299.40" y2="435.10" stroke="#2a88c8" stroke-width="0.8" stroke-linecap="butt"/>
<rect x="296.20" y="432.70" width="3.20" height="3.20" fill="#2a88c8"/>
<line x1="308.10" y1="433.10" x2="308.10" y2="434.70" stroke="#2a88c8" stroke-width="0.8" stroke-linecap="butt"/>
<line x1="306.50" y1="433.10" x2="309.70" y2="433.10" stroke="#2a88c8" stroke-width="0.8" stroke-linecap="butt"/>
<line x1="306.50" y1="434.70" x2="309.70" y2="434.70" stroke="#2a88c8" stroke-width="0.8" stroke-linecap="butt"/>
<rect x="306.50" y="432.30" width="3.20" height="3.20" fill="#2a88c8"/>
<line x1="313.00" y1="432.70" x2="313.00" y2="434.30" stroke="#2a88c8" stroke-width="0.8" stroke-linecap="butt"/>
<line x1="311.40" y1="432.70" x2="314.60" y2="432.70" stroke="#2a88c8" stroke-width="0.8" stroke-linecap="butt"/>
<line x1="311.40" y1="434.30" x2="314.60" y2="434.30" stroke="#2a88c8" stroke-width="0.8" stroke-linecap="butt"/>
<rect x="311.40" y="431.90" width="3.20" height="3.20" fill="#2a88c8"/>
<line x1="328.20" y1="431.60" x2="328.20" y2="433.20" stroke="#2a88c8" stroke-width="0.8" stroke-linecap="butt"/>
<line x1="326.60" y1="431.60" x2="329.80" y2="431.60" stroke="#2a88c8" stroke-width="0.8" stroke-linecap="butt"/>
<line x1="326.60" y1="433.20" x2="329.80" y2="433.20" stroke="#2a88c8" stroke-width="0.8" stroke-linecap="butt"/>
<rect x="326.60" y="430.80" width="3.20" height="3.20" fill="#2a88c8"/>
<line x1="335.60" y1="431.20" x2="335.60" y2="432.80" stroke="#2a88c8" stroke-width="0.8" stroke-linecap="butt"/>
<line x1="334.00" y1="431.20" x2="337.20" y2="431.20" stroke="#2a88c8" stroke-width="0.8" stroke-linecap="butt"/>
<line x1="334.00" y1="432.80" x2="337.20" y2="432.80" stroke="#2a88c8" stroke-width="0.8" stroke-linecap="butt"/>
<rect x="334.00" y="430.40" width="3.20" height="3.20" fill="#2a88c8"/>
<polyline points="229.50,437.90 240.90,432.70 250.00,430.30 259.50,428.60 264.80,427.60 275.00,424.80 282.10,422.90 292.70,415.50 297.80,411.30 308.10,405.80 313.00,404.30 328.20,395.90 335.60,390.10" fill="none" stroke="#1a1a1a" stroke-width="1.5" stroke-linejoin="round"/>
<line x1="229.50" y1="437.50" x2="229.50" y2="438.30" stroke="#1a1a1a" stroke-width="0.9" stroke-linecap="butt"/>
<line x1="227.90" y1="437.50" x2="231.10" y2="437.50" stroke="#1a1a1a" stroke-width="0.9" stroke-linecap="butt"/>
<line x1="227.90" y1="438.30" x2="231.10" y2="438.30" stroke="#1a1a1a" stroke-width="0.9" stroke-linecap="butt"/>
<circle cx="229.50" cy="437.90" r="2.30" fill="#1a1a1a"/>
<line x1="240.90" y1="431.90" x2="240.90" y2="433.50" stroke="#1a1a1a" stroke-width="0.9" stroke-linecap="butt"/>
<line x1="239.30" y1="431.90" x2="242.50" y2="431.90" stroke="#1a1a1a" stroke-width="0.9" stroke-linecap="butt"/>
<line x1="239.30" y1="433.50" x2="242.50" y2="433.50" stroke="#1a1a1a" stroke-width="0.9" stroke-linecap="butt"/>
<circle cx="240.90" cy="432.70" r="2.30" fill="#1a1a1a"/>
<line x1="250.00" y1="429.30" x2="250.00" y2="431.30" stroke="#1a1a1a" stroke-width="0.9" stroke-linecap="butt"/>
<line x1="248.40" y1="429.30" x2="251.60" y2="429.30" stroke="#1a1a1a" stroke-width="0.9" stroke-linecap="butt"/>
<line x1="248.40" y1="431.30" x2="251.60" y2="431.30" stroke="#1a1a1a" stroke-width="0.9" stroke-linecap="butt"/>
<circle cx="250.00" cy="430.30" r="2.30" fill="#1a1a1a"/>
<line x1="259.50" y1="427.10" x2="259.50" y2="430.10" stroke="#1a1a1a" stroke-width="0.9" stroke-linecap="butt"/>
<line x1="257.90" y1="427.10" x2="261.10" y2="427.10" stroke="#1a1a1a" stroke-width="0.9" stroke-linecap="butt"/>
<line x1="257.90" y1="430.10" x2="261.10" y2="430.10" stroke="#1a1a1a" stroke-width="0.9" stroke-linecap="butt"/>
<circle cx="259.50" cy="428.60" r="2.30" fill="#1a1a1a"/>
<line x1="264.80" y1="425.60" x2="264.80" y2="429.60" stroke="#1a1a1a" stroke-width="0.9" stroke-linecap="butt"/>
<line x1="263.20" y1="425.60" x2="266.40" y2="425.60" stroke="#1a1a1a" stroke-width="0.9" stroke-linecap="butt"/>
<line x1="263.20" y1="429.60" x2="266.40" y2="429.60" stroke="#1a1a1a" stroke-width="0.9" stroke-linecap="butt"/>
<circle cx="264.80" cy="427.60" r="2.30" fill="#1a1a1a"/>
<line x1="275.00" y1="422.20" x2="275.00" y2="427.40" stroke="#1a1a1a" stroke-width="0.9" stroke-linecap="butt"/>
<line x1="273.40" y1="422.20" x2="276.60" y2="422.20" stroke="#1a1a1a" stroke-width="0.9" stroke-linecap="butt"/>
<line x1="273.40" y1="427.40" x2="276.60" y2="427.40" stroke="#1a1a1a" stroke-width="0.9" stroke-linecap="butt"/>
<circle cx="275.00" cy="424.80" r="2.30" fill="#1a1a1a"/>
<line x1="282.10" y1="419.40" x2="282.10" y2="426.40" stroke="#1a1a1a" stroke-width="0.9" stroke-linecap="butt"/>
<line x1="280.50" y1="419.40" x2="283.70" y2="419.40" stroke="#1a1a1a" stroke-width="0.9" stroke-linecap="butt"/>
<line x1="280.50" y1="426.40" x2="283.70" y2="426.40" stroke="#1a1a1a" stroke-width="0.9" stroke-linecap="butt"/>
<circle cx="282.10" cy="422.90" r="2.30" fill="#1a1a1a"/>
<line x1="292.70" y1="409.70" x2="292.70" y2="421.30" stroke="#1a1a1a" stroke-width="0.9" stroke-linecap="butt"/>
<line x1="291.10" y1="409.70" x2="294.30" y2="409.70" stroke="#1a1a1a" stroke-width="0.9" stroke-linecap="butt"/>
<line x1="291.10" y1="421.30" x2="294.30" y2="421.30" stroke="#1a1a1a" stroke-width="0.9" stroke-linecap="butt"/>
<circle cx="292.70" cy="415.50" r="2.30" fill="#1a1a1a"/>
<line x1="297.80" y1="403.90" x2="297.80" y2="418.70" stroke="#1a1a1a" stroke-width="0.9" stroke-linecap="butt"/>
<line x1="296.20" y1="403.90" x2="299.40" y2="403.90" stroke="#1a1a1a" stroke-width="0.9" stroke-linecap="butt"/>
<line x1="296.20" y1="418.70" x2="299.40" y2="418.70" stroke="#1a1a1a" stroke-width="0.9" stroke-linecap="butt"/>
<circle cx="297.80" cy="411.30" r="2.30" fill="#1a1a1a"/>
<line x1="308.10" y1="397.30" x2="308.10" y2="414.30" stroke="#1a1a1a" stroke-width="0.9" stroke-linecap="butt"/>
<line x1="306.50" y1="397.30" x2="309.70" y2="397.30" stroke="#1a1a1a" stroke-width="0.9" stroke-linecap="butt"/>
<line x1="306.50" y1="414.30" x2="309.70" y2="414.30" stroke="#1a1a1a" stroke-width="0.9" stroke-linecap="butt"/>
<circle cx="308.10" cy="405.80" r="2.30" fill="#1a1a1a"/>
<line x1="313.00" y1="395.80" x2="313.00" y2="412.80" stroke="#1a1a1a" stroke-width="0.9" stroke-linecap="butt"/>
<line x1="311.40" y1="395.80" x2="314.60" y2="395.80" stroke="#1a1a1a" stroke-width="0.9" stroke-linecap="butt"/>
<line x1="311.40" y1="412.80" x2="314.60" y2="412.80" stroke="#1a1a1a" stroke-width="0.9" stroke-linecap="butt"/>
<circle cx="313.00" cy="404.30" r="2.30" fill="#1a1a1a"/>
<line x1="328.20" y1="384.90" x2="328.20" y2="406.90" stroke="#1a1a1a" stroke-width="0.9" stroke-linecap="butt"/>
<line x1="326.60" y1="384.90" x2="329.80" y2="384.90" stroke="#1a1a1a" stroke-width="0.9" stroke-linecap="butt"/>
<line x1="326.60" y1="406.90" x2="329.80" y2="406.90" stroke="#1a1a1a" stroke-width="0.9" stroke-linecap="butt"/>
<circle cx="328.20" cy="395.90" r="2.30" fill="#1a1a1a"/>
<line x1="335.60" y1="379.10" x2="335.60" y2="401.10" stroke="#1a1a1a" stroke-width="0.9" stroke-linecap="butt"/>
<line x1="334.00" y1="379.10" x2="337.20" y2="379.10" stroke="#1a1a1a" stroke-width="0.9" stroke-linecap="butt"/>
<line x1="334.00" y1="401.10" x2="337.20" y2="401.10" stroke="#1a1a1a" stroke-width="0.9" stroke-linecap="butt"/>
<circle cx="335.60" cy="390.10" r="2.30" fill="#1a1a1a"/>
<line x1="338.50" y1="390.00" x2="338.50" y2="435.00" stroke="#1d1d1b" stroke-width="1.0" stroke-linecap="butt"/>
<line x1="340.50" y1="390.00" x2="340.50" y2="435.00" stroke="#1d1d1b" stroke-width="1.0" stroke-linecap="butt"/>
<text font-size="8.6" fill="#1d1d1b" transform="translate(348,396.2) rotate(90)"><tspan font-style="italic">P</tspan> &lt; 1e-4</text>
<line x1="401.80" y1="373.00" x2="401.80" y2="444.50" stroke="#1d1d1b" stroke-width="1.5" stroke-linecap="butt"/>
<line x1="398.00" y1="373.00" x2="401.80" y2="373.00" stroke="#1d1d1b" stroke-width="1.5" stroke-linecap="butt"/>
<text x="397.20" y="376.00" font-size="8.8" text-anchor="end" fill="#1d1d1b">2,000</text>
<line x1="398.00" y1="390.70" x2="401.80" y2="390.70" stroke="#1d1d1b" stroke-width="1.5" stroke-linecap="butt"/>
<text x="397.20" y="393.70" font-size="8.8" text-anchor="end" fill="#1d1d1b">1,500</text>
<line x1="398.00" y1="408.40" x2="401.80" y2="408.40" stroke="#1d1d1b" stroke-width="1.5" stroke-linecap="butt"/>
<text x="397.20" y="411.40" font-size="8.8" text-anchor="end" fill="#1d1d1b">1,000</text>
<line x1="398.00" y1="426.10" x2="401.80" y2="426.10" stroke="#1d1d1b" stroke-width="1.5" stroke-linecap="butt"/>
<text x="397.20" y="429.10" font-size="8.8" text-anchor="end" fill="#1d1d1b">500</text>
<line x1="398.00" y1="443.80" x2="401.80" y2="443.80" stroke="#1d1d1b" stroke-width="1.5" stroke-linecap="butt"/>
<text x="397.20" y="446.80" font-size="8.8" text-anchor="end" fill="#1d1d1b">0</text>
<line x1="401.10" y1="443.80" x2="510.00" y2="443.80" stroke="#1d1d1b" stroke-width="1.5" stroke-linecap="butt"/>
<line x1="402.20" y1="443.80" x2="402.20" y2="447.60" stroke="#1d1d1b" stroke-width="1.5" stroke-linecap="butt"/>
<text x="402.20" y="458.80" font-size="8.8" text-anchor="middle" fill="#1d1d1b">0</text>
<line x1="429.60" y1="443.80" x2="429.60" y2="447.60" stroke="#1d1d1b" stroke-width="1.5" stroke-linecap="butt"/>
<text x="429.60" y="458.80" font-size="8.8" text-anchor="middle" fill="#1d1d1b">14</text>
<line x1="457.00" y1="443.80" x2="457.00" y2="447.60" stroke="#1d1d1b" stroke-width="1.5" stroke-linecap="butt"/>
<text x="457.00" y="458.80" font-size="8.8" text-anchor="middle" fill="#1d1d1b">28</text>
<line x1="484.40" y1="443.80" x2="484.40" y2="447.60" stroke="#1d1d1b" stroke-width="1.5" stroke-linecap="butt"/>
<text x="484.40" y="458.80" font-size="8.8" text-anchor="middle" fill="#1d1d1b">42</text>
<line x1="509.30" y1="443.80" x2="509.30" y2="447.60" stroke="#1d1d1b" stroke-width="1.5" stroke-linecap="butt"/>
<text x="509.30" y="458.80" font-size="8.8" text-anchor="middle" fill="#1d1d1b">54</text>
<line x1="416.00" y1="443.80" x2="416.00" y2="446.30" stroke="#1d1d1b" stroke-width="1.0" stroke-linecap="butt"/>
<line x1="443.70" y1="443.80" x2="443.70" y2="446.30" stroke="#1d1d1b" stroke-width="1.0" stroke-linecap="butt"/>
<line x1="470.70" y1="443.80" x2="470.70" y2="446.30" stroke="#1d1d1b" stroke-width="1.0" stroke-linecap="butt"/>
<line x1="498.20" y1="443.80" x2="498.20" y2="446.30" stroke="#1d1d1b" stroke-width="1.0" stroke-linecap="butt"/>
<text x="451.40" y="373.20" font-size="8.8" text-anchor="middle" fill="#1d1d1b">OV5398 PDX</text>
<text x="459.40" y="471.50" font-size="8.8" text-anchor="middle" fill="#1d1d1b">Days of treatment</text>
<text font-size="8.8" fill="#1d1d1b" text-anchor="middle" transform="translate(370.5,405.5) rotate(-90)">Tumor volume (mm<tspan font-size="6" dy="-3">3</tspan><tspan dy="3">)</tspan></text>
<line x1="402.50" y1="438.90" x2="508.00" y2="438.90" stroke="#1d1d1b" stroke-width="0.9" stroke-linecap="butt" stroke-dasharray="1 1.3"/>
<polyline points="402.20,438.40 409.90,434.10 416.60,434.80 423.40,434.80 429.90,433.40 437.80,435.80 444.30,436.50 451.50,437.20 457.50,437.20 464.70,437.20 471.40,437.20 478.70,437.70 484.40,438.40 491.20,438.90" fill="none" stroke="#2a88c8" stroke-width="1.1" stroke-linejoin="round"/>
<line x1="402.20" y1="437.40" x2="402.20" y2="439.40" stroke="#2a88c8" stroke-width="0.8" stroke-linecap="butt"/>
<line x1="400.60" y1="437.40" x2="403.80" y2="437.40" stroke="#2a88c8" stroke-width="0.8" stroke-linecap="butt"/>
<line x1="400.60" y1="439.40" x2="403.80" y2="439.40" stroke="#2a88c8" stroke-width="0.8" stroke-linecap="butt"/>
<rect x="400.90" y="437.10" width="2.60" height="2.60" fill="#2a88c8"/>
<line x1="409.90" y1="433.10" x2="409.90" y2="435.10" stroke="#2a88c8" stroke-width="0.8" stroke-linecap="butt"/>
<line x1="408.30" y1="433.10" x2="411.50" y2="433.10" stroke="#2a88c8" stroke-width="0.8" stroke-linecap="butt"/>
<line x1="408.30" y1="435.10" x2="411.50" y2="435.10" stroke="#2a88c8" stroke-width="0.8" stroke-linecap="butt"/>
<rect x="408.60" y="432.80" width="2.60" height="2.60" fill="#2a88c8"/>
<line x1="416.60" y1="433.80" x2="416.60" y2="435.80" stroke="#2a88c8" stroke-width="0.8" stroke-linecap="butt"/>
<line x1="415.00" y1="433.80" x2="418.20" y2="433.80" stroke="#2a88c8" stroke-width="0.8" stroke-linecap="butt"/>
<line x1="415.00" y1="435.80" x2="418.20" y2="435.80" stroke="#2a88c8" stroke-width="0.8" stroke-linecap="butt"/>
<rect x="415.30" y="433.50" width="2.60" height="2.60" fill="#2a88c8"/>
<line x1="423.40" y1="433.80" x2="423.40" y2="435.80" stroke="#2a88c8" stroke-width="0.8" stroke-linecap="butt"/>
<line x1="421.80" y1="433.80" x2="425.00" y2="433.80" stroke="#2a88c8" stroke-width="0.8" stroke-linecap="butt"/>
<line x1="421.80" y1="435.80" x2="425.00" y2="435.80" stroke="#2a88c8" stroke-width="0.8" stroke-linecap="butt"/>
<rect x="422.10" y="433.50" width="2.60" height="2.60" fill="#2a88c8"/>
<line x1="429.90" y1="432.40" x2="429.90" y2="434.40" stroke="#2a88c8" stroke-width="0.8" stroke-linecap="butt"/>
<line x1="428.30" y1="432.40" x2="431.50" y2="432.40" stroke="#2a88c8" stroke-width="0.8" stroke-linecap="butt"/>
<line x1="428.30" y1="434.40" x2="431.50" y2="434.40" stroke="#2a88c8" stroke-width="0.8" stroke-linecap="butt"/>
<rect x="428.60" y="432.10" width="2.60" height="2.60" fill="#2a88c8"/>
<line x1="437.80" y1="434.80" x2="437.80" y2="436.80" stroke="#2a88c8" stroke-width="0.8" stroke-linecap="butt"/>
<line x1="436.20" y1="434.80" x2="439.40" y2="434.80" stroke="#2a88c8" stroke-width="0.8" stroke-linecap="butt"/>
<line x1="436.20" y1="436.80" x2="439.40" y2="436.80" stroke="#2a88c8" stroke-width="0.8" stroke-linecap="butt"/>
<rect x="436.50" y="434.50" width="2.60" height="2.60" fill="#2a88c8"/>
<line x1="444.30" y1="435.50" x2="444.30" y2="437.50" stroke="#2a88c8" stroke-width="0.8" stroke-linecap="butt"/>
<line x1="442.70" y1="435.50" x2="445.90" y2="435.50" stroke="#2a88c8" stroke-width="0.8" stroke-linecap="butt"/>
<line x1="442.70" y1="437.50" x2="445.90" y2="437.50" stroke="#2a88c8" stroke-width="0.8" stroke-linecap="butt"/>
<rect x="443.00" y="435.20" width="2.60" height="2.60" fill="#2a88c8"/>
<line x1="451.50" y1="436.20" x2="451.50" y2="438.20" stroke="#2a88c8" stroke-width="0.8" stroke-linecap="butt"/>
<line x1="449.90" y1="436.20" x2="453.10" y2="436.20" stroke="#2a88c8" stroke-width="0.8" stroke-linecap="butt"/>
<line x1="449.90" y1="438.20" x2="453.10" y2="438.20" stroke="#2a88c8" stroke-width="0.8" stroke-linecap="butt"/>
<rect x="450.20" y="435.90" width="2.60" height="2.60" fill="#2a88c8"/>
<line x1="457.50" y1="436.20" x2="457.50" y2="438.20" stroke="#2a88c8" stroke-width="0.8" stroke-linecap="butt"/>
<line x1="455.90" y1="436.20" x2="459.10" y2="436.20" stroke="#2a88c8" stroke-width="0.8" stroke-linecap="butt"/>
<line x1="455.90" y1="438.20" x2="459.10" y2="438.20" stroke="#2a88c8" stroke-width="0.8" stroke-linecap="butt"/>
<rect x="456.20" y="435.90" width="2.60" height="2.60" fill="#2a88c8"/>
<line x1="464.70" y1="436.20" x2="464.70" y2="438.20" stroke="#2a88c8" stroke-width="0.8" stroke-linecap="butt"/>
<line x1="463.10" y1="436.20" x2="466.30" y2="436.20" stroke="#2a88c8" stroke-width="0.8" stroke-linecap="butt"/>
<line x1="463.10" y1="438.20" x2="466.30" y2="438.20" stroke="#2a88c8" stroke-width="0.8" stroke-linecap="butt"/>
<rect x="463.40" y="435.90" width="2.60" height="2.60" fill="#2a88c8"/>
<line x1="471.40" y1="436.20" x2="471.40" y2="438.20" stroke="#2a88c8" stroke-width="0.8" stroke-linecap="butt"/>
<line x1="469.80" y1="436.20" x2="473.00" y2="436.20" stroke="#2a88c8" stroke-width="0.8" stroke-linecap="butt"/>
<line x1="469.80" y1="438.20" x2="473.00" y2="438.20" stroke="#2a88c8" stroke-width="0.8" stroke-linecap="butt"/>
<rect x="470.10" y="435.90" width="2.60" height="2.60" fill="#2a88c8"/>
<line x1="478.70" y1="436.70" x2="478.70" y2="438.70" stroke="#2a88c8" stroke-width="0.8" stroke-linecap="butt"/>
<line x1="477.10" y1="436.70" x2="480.30" y2="436.70" stroke="#2a88c8" stroke-width="0.8" stroke-linecap="butt"/>
<line x1="477.10" y1="438.70" x2="480.30" y2="438.70" stroke="#2a88c8" stroke-width="0.8" stroke-linecap="butt"/>
<rect x="477.40" y="436.40" width="2.60" height="2.60" fill="#2a88c8"/>
<line x1="484.40" y1="437.40" x2="484.40" y2="439.40" stroke="#2a88c8" stroke-width="0.8" stroke-linecap="butt"/>
<line x1="482.80" y1="437.40" x2="486.00" y2="437.40" stroke="#2a88c8" stroke-width="0.8" stroke-linecap="butt"/>
<line x1="482.80" y1="439.40" x2="486.00" y2="439.40" stroke="#2a88c8" stroke-width="0.8" stroke-linecap="butt"/>
<rect x="483.10" y="437.10" width="2.60" height="2.60" fill="#2a88c8"/>
<line x1="491.20" y1="437.90" x2="491.20" y2="439.90" stroke="#2a88c8" stroke-width="0.8" stroke-linecap="butt"/>
<line x1="489.60" y1="437.90" x2="492.80" y2="437.90" stroke="#2a88c8" stroke-width="0.8" stroke-linecap="butt"/>
<line x1="489.60" y1="439.90" x2="492.80" y2="439.90" stroke="#2a88c8" stroke-width="0.8" stroke-linecap="butt"/>
<rect x="489.90" y="437.60" width="2.60" height="2.60" fill="#2a88c8"/>
<polyline points="402.20,438.40 409.90,434.80 416.60,435.30 423.40,434.80 429.90,434.10 437.80,435.80 444.30,437.00 451.50,437.20 457.50,436.50 464.70,437.00 471.40,437.70 478.70,438.40 484.40,438.90 491.20,439.10 498.40,439.60 508.00,439.40" fill="none" stroke="#f4c75a" stroke-width="1.5" stroke-linejoin="round"/>
<line x1="402.20" y1="436.80" x2="402.20" y2="440.00" stroke="#f4c75a" stroke-width="0.9" stroke-linecap="butt"/>
<line x1="400.60" y1="436.80" x2="403.80" y2="436.80" stroke="#f4c75a" stroke-width="0.9" stroke-linecap="butt"/>
<line x1="400.60" y1="440.00" x2="403.80" y2="440.00" stroke="#f4c75a" stroke-width="0.9" stroke-linecap="butt"/>
<polygon points="402.20,436.48 403.80,438.40 402.20,440.32 400.60,438.40" fill="#f4c75a"/>
<line x1="409.90" y1="433.20" x2="409.90" y2="436.40" stroke="#f4c75a" stroke-width="0.9" stroke-linecap="butt"/>
<line x1="408.30" y1="433.20" x2="411.50" y2="433.20" stroke="#f4c75a" stroke-width="0.9" stroke-linecap="butt"/>
<line x1="408.30" y1="436.40" x2="411.50" y2="436.40" stroke="#f4c75a" stroke-width="0.9" stroke-linecap="butt"/>
<polygon points="409.90,432.88 411.50,434.80 409.90,436.72 408.30,434.80" fill="#f4c75a"/>
<line x1="416.60" y1="433.70" x2="416.60" y2="436.90" stroke="#f4c75a" stroke-width="0.9" stroke-linecap="butt"/>
<line x1="415.00" y1="433.70" x2="418.20" y2="433.70" stroke="#f4c75a" stroke-width="0.9" stroke-linecap="butt"/>
<line x1="415.00" y1="436.90" x2="418.20" y2="436.90" stroke="#f4c75a" stroke-width="0.9" stroke-linecap="butt"/>
<polygon points="416.60,433.38 418.20,435.30 416.60,437.22 415.00,435.30" fill="#f4c75a"/>
<line x1="423.40" y1="433.20" x2="423.40" y2="436.40" stroke="#f4c75a" stroke-width="0.9" stroke-linecap="butt"/>
<line x1="421.80" y1="433.20" x2="425.00" y2="433.20" stroke="#f4c75a" stroke-width="0.9" stroke-linecap="butt"/>
<line x1="421.80" y1="436.40" x2="425.00" y2="436.40" stroke="#f4c75a" stroke-width="0.9" stroke-linecap="butt"/>
<polygon points="423.40,432.88 425.00,434.80 423.40,436.72 421.80,434.80" fill="#f4c75a"/>
<line x1="429.90" y1="432.50" x2="429.90" y2="435.70" stroke="#f4c75a" stroke-width="0.9" stroke-linecap="butt"/>
<line x1="428.30" y1="432.50" x2="431.50" y2="432.50" stroke="#f4c75a" stroke-width="0.9" stroke-linecap="butt"/>
<line x1="428.30" y1="435.70" x2="431.50" y2="435.70" stroke="#f4c75a" stroke-width="0.9" stroke-linecap="butt"/>
<polygon points="429.90,432.18 431.50,434.10 429.90,436.02 428.30,434.10" fill="#f4c75a"/>
<line x1="437.80" y1="434.20" x2="437.80" y2="437.40" stroke="#f4c75a" stroke-width="0.9" stroke-linecap="butt"/>
<line x1="436.20" y1="434.20" x2="439.40" y2="434.20" stroke="#f4c75a" stroke-width="0.9" stroke-linecap="butt"/>
<line x1="436.20" y1="437.40" x2="439.40" y2="437.40" stroke="#f4c75a" stroke-width="0.9" stroke-linecap="butt"/>
<polygon points="437.80,433.88 439.40,435.80 437.80,437.72 436.20,435.80" fill="#f4c75a"/>
<line x1="444.30" y1="435.40" x2="444.30" y2="438.60" stroke="#f4c75a" stroke-width="0.9" stroke-linecap="butt"/>
<line x1="442.70" y1="435.40" x2="445.90" y2="435.40" stroke="#f4c75a" stroke-width="0.9" stroke-linecap="butt"/>
<line x1="442.70" y1="438.60" x2="445.90" y2="438.60" stroke="#f4c75a" stroke-width="0.9" stroke-linecap="butt"/>
<polygon points="444.30,435.08 445.90,437.00 444.30,438.92 442.70,437.00" fill="#f4c75a"/>
<line x1="451.50" y1="435.60" x2="451.50" y2="438.80" stroke="#f4c75a" stroke-width="0.9" stroke-linecap="butt"/>
<line x1="449.90" y1="435.60" x2="453.10" y2="435.60" stroke="#f4c75a" stroke-width="0.9" stroke-linecap="butt"/>
<line x1="449.90" y1="438.80" x2="453.10" y2="438.80" stroke="#f4c75a" stroke-width="0.9" stroke-linecap="butt"/>
<polygon points="451.50,435.28 453.10,437.20 451.50,439.12 449.90,437.20" fill="#f4c75a"/>
<line x1="457.50" y1="434.90" x2="457.50" y2="438.10" stroke="#f4c75a" stroke-width="0.9" stroke-linecap="butt"/>
<line x1="455.90" y1="434.90" x2="459.10" y2="434.90" stroke="#f4c75a" stroke-width="0.9" stroke-linecap="butt"/>
<line x1="455.90" y1="438.10" x2="459.10" y2="438.10" stroke="#f4c75a" stroke-width="0.9" stroke-linecap="butt"/>
<polygon points="457.50,434.58 459.10,436.50 457.50,438.42 455.90,436.50" fill="#f4c75a"/>
<line x1="464.70" y1="435.40" x2="464.70" y2="438.60" stroke="#f4c75a" stroke-width="0.9" stroke-linecap="butt"/>
<line x1="463.10" y1="435.40" x2="466.30" y2="435.40" stroke="#f4c75a" stroke-width="0.9" stroke-linecap="butt"/>
<line x1="463.10" y1="438.60" x2="466.30" y2="438.60" stroke="#f4c75a" stroke-width="0.9" stroke-linecap="butt"/>
<polygon points="464.70,435.08 466.30,437.00 464.70,438.92 463.10,437.00" fill="#f4c75a"/>
<line x1="471.40" y1="436.10" x2="471.40" y2="439.30" stroke="#f4c75a" stroke-width="0.9" stroke-linecap="butt"/>
<line x1="469.80" y1="436.10" x2="473.00" y2="436.10" stroke="#f4c75a" stroke-width="0.9" stroke-linecap="butt"/>
<line x1="469.80" y1="439.30" x2="473.00" y2="439.30" stroke="#f4c75a" stroke-width="0.9" stroke-linecap="butt"/>
<polygon points="471.40,435.78 473.00,437.70 471.40,439.62 469.80,437.70" fill="#f4c75a"/>
<line x1="478.70" y1="436.80" x2="478.70" y2="440.00" stroke="#f4c75a" stroke-width="0.9" stroke-linecap="butt"/>
<line x1="477.10" y1="436.80" x2="480.30" y2="436.80" stroke="#f4c75a" stroke-width="0.9" stroke-linecap="butt"/>
<line x1="477.10" y1="440.00" x2="480.30" y2="440.00" stroke="#f4c75a" stroke-width="0.9" stroke-linecap="butt"/>
<polygon points="478.70,436.48 480.30,438.40 478.70,440.32 477.10,438.40" fill="#f4c75a"/>
<line x1="484.40" y1="437.30" x2="484.40" y2="440.50" stroke="#f4c75a" stroke-width="0.9" stroke-linecap="butt"/>
<line x1="482.80" y1="437.30" x2="486.00" y2="437.30" stroke="#f4c75a" stroke-width="0.9" stroke-linecap="butt"/>
<line x1="482.80" y1="440.50" x2="486.00" y2="440.50" stroke="#f4c75a" stroke-width="0.9" stroke-linecap="butt"/>
<polygon points="484.40,436.98 486.00,438.90 484.40,440.82 482.80,438.90" fill="#f4c75a"/>
<line x1="491.20" y1="437.50" x2="491.20" y2="440.70" stroke="#f4c75a" stroke-width="0.9" stroke-linecap="butt"/>
<line x1="489.60" y1="437.50" x2="492.80" y2="437.50" stroke="#f4c75a" stroke-width="0.9" stroke-linecap="butt"/>
<line x1="489.60" y1="440.70" x2="492.80" y2="440.70" stroke="#f4c75a" stroke-width="0.9" stroke-linecap="butt"/>
<polygon points="491.20,437.18 492.80,439.10 491.20,441.02 489.60,439.10" fill="#f4c75a"/>
<line x1="498.40" y1="438.00" x2="498.40" y2="441.20" stroke="#f4c75a" stroke-width="0.9" stroke-linecap="butt"/>
<line x1="496.80" y1="438.00" x2="500.00" y2="438.00" stroke="#f4c75a" stroke-width="0.9" stroke-linecap="butt"/>
<line x1="496.80" y1="441.20" x2="500.00" y2="441.20" stroke="#f4c75a" stroke-width="0.9" stroke-linecap="butt"/>
<polygon points="498.40,437.68 500.00,439.60 498.40,441.52 496.80,439.60" fill="#f4c75a"/>
<line x1="508.00" y1="437.80" x2="508.00" y2="441.00" stroke="#f4c75a" stroke-width="0.9" stroke-linecap="butt"/>
<line x1="506.40" y1="437.80" x2="509.60" y2="437.80" stroke="#f4c75a" stroke-width="0.9" stroke-linecap="butt"/>
<line x1="506.40" y1="441.00" x2="509.60" y2="441.00" stroke="#f4c75a" stroke-width="0.9" stroke-linecap="butt"/>
<polygon points="508.00,437.48 509.60,439.40 508.00,441.32 506.40,439.40" fill="#f4c75a"/>
<polyline points="402.20,438.40 409.90,432.40 414.20,432.90 423.40,430.50 429.90,428.10 437.80,424.50 444.30,420.90 451.50,416.10 457.50,406.00 464.70,403.60 471.40,401.20 478.70,390.80 484.40,396.30" fill="none" stroke="#1a1a1a" stroke-width="1.5" stroke-linejoin="round"/>
<line x1="402.20" y1="437.90" x2="402.20" y2="438.90" stroke="#1a1a1a" stroke-width="0.9" stroke-linecap="butt"/>
<line x1="400.60" y1="437.90" x2="403.80" y2="437.90" stroke="#1a1a1a" stroke-width="0.9" stroke-linecap="butt"/>
<line x1="400.60" y1="438.90" x2="403.80" y2="438.90" stroke="#1a1a1a" stroke-width="0.9" stroke-linecap="butt"/>
<circle cx="402.20" cy="438.40" r="2.30" fill="#1a1a1a"/>
<line x1="409.90" y1="430.20" x2="409.90" y2="434.60" stroke="#1a1a1a" stroke-width="0.9" stroke-linecap="butt"/>
<line x1="408.30" y1="430.20" x2="411.50" y2="430.20" stroke="#1a1a1a" stroke-width="0.9" stroke-linecap="butt"/>
<line x1="408.30" y1="434.60" x2="411.50" y2="434.60" stroke="#1a1a1a" stroke-width="0.9" stroke-linecap="butt"/>
<circle cx="409.90" cy="432.40" r="2.30" fill="#1a1a1a"/>
<line x1="414.20" y1="431.40" x2="414.20" y2="434.40" stroke="#1a1a1a" stroke-width="0.9" stroke-linecap="butt"/>
<line x1="412.60" y1="431.40" x2="415.80" y2="431.40" stroke="#1a1a1a" stroke-width="0.9" stroke-linecap="butt"/>
<line x1="412.60" y1="434.40" x2="415.80" y2="434.40" stroke="#1a1a1a" stroke-width="0.9" stroke-linecap="butt"/>
<circle cx="414.20" cy="432.90" r="2.30" fill="#1a1a1a"/>
<line x1="423.40" y1="428.50" x2="423.40" y2="432.50" stroke="#1a1a1a" stroke-width="0.9" stroke-linecap="butt"/>
<line x1="421.80" y1="428.50" x2="425.00" y2="428.50" stroke="#1a1a1a" stroke-width="0.9" stroke-linecap="butt"/>
<line x1="421.80" y1="432.50" x2="425.00" y2="432.50" stroke="#1a1a1a" stroke-width="0.9" stroke-linecap="butt"/>
<circle cx="423.40" cy="430.50" r="2.30" fill="#1a1a1a"/>
<line x1="429.90" y1="426.60" x2="429.90" y2="429.60" stroke="#1a1a1a" stroke-width="0.9" stroke-linecap="butt"/>
<line x1="428.30" y1="426.60" x2="431.50" y2="426.60" stroke="#1a1a1a" stroke-width="0.9" stroke-linecap="butt"/>
<line x1="428.30" y1="429.60" x2="431.50" y2="429.60" stroke="#1a1a1a" stroke-width="0.9" stroke-linecap="butt"/>
<circle cx="429.90" cy="428.10" r="2.30" fill="#1a1a1a"/>
<line x1="437.80" y1="422.70" x2="437.80" y2="426.30" stroke="#1a1a1a" stroke-width="0.9" stroke-linecap="butt"/>
<line x1="436.20" y1="422.70" x2="439.40" y2="422.70" stroke="#1a1a1a" stroke-width="0.9" stroke-linecap="butt"/>
<line x1="436.20" y1="426.30" x2="439.40" y2="426.30" stroke="#1a1a1a" stroke-width="0.9" stroke-linecap="butt"/>
<circle cx="437.80" cy="424.50" r="2.30" fill="#1a1a1a"/>
<line x1="444.30" y1="418.90" x2="444.30" y2="422.90" stroke="#1a1a1a" stroke-width="0.9" stroke-linecap="butt"/>
<line x1="442.70" y1="418.90" x2="445.90" y2="418.90" stroke="#1a1a1a" stroke-width="0.9" stroke-linecap="butt"/>
<line x1="442.70" y1="422.90" x2="445.90" y2="422.90" stroke="#1a1a1a" stroke-width="0.9" stroke-linecap="butt"/>
<circle cx="444.30" cy="420.90" r="2.30" fill="#1a1a1a"/>
<line x1="451.50" y1="413.70" x2="451.50" y2="418.50" stroke="#1a1a1a" stroke-width="0.9" stroke-linecap="butt"/>
<line x1="449.90" y1="413.70" x2="453.10" y2="413.70" stroke="#1a1a1a" stroke-width="0.9" stroke-linecap="butt"/>
<line x1="449.90" y1="418.50" x2="453.10" y2="418.50" stroke="#1a1a1a" stroke-width="0.9" stroke-linecap="butt"/>
<circle cx="451.50" cy="416.10" r="2.30" fill="#1a1a1a"/>
<line x1="457.50" y1="401.80" x2="457.50" y2="410.20" stroke="#1a1a1a" stroke-width="0.9" stroke-linecap="butt"/>
<line x1="455.90" y1="401.80" x2="459.10" y2="401.80" stroke="#1a1a1a" stroke-width="0.9" stroke-linecap="butt"/>
<line x1="455.90" y1="410.20" x2="459.10" y2="410.20" stroke="#1a1a1a" stroke-width="0.9" stroke-linecap="butt"/>
<circle cx="457.50" cy="406.00" r="2.30" fill="#1a1a1a"/>
<line x1="464.70" y1="400.40" x2="464.70" y2="406.80" stroke="#1a1a1a" stroke-width="0.9" stroke-linecap="butt"/>
<line x1="463.10" y1="400.40" x2="466.30" y2="400.40" stroke="#1a1a1a" stroke-width="0.9" stroke-linecap="butt"/>
<line x1="463.10" y1="406.80" x2="466.30" y2="406.80" stroke="#1a1a1a" stroke-width="0.9" stroke-linecap="butt"/>
<circle cx="464.70" cy="403.60" r="2.30" fill="#1a1a1a"/>
<line x1="471.40" y1="398.20" x2="471.40" y2="404.20" stroke="#1a1a1a" stroke-width="0.9" stroke-linecap="butt"/>
<line x1="469.80" y1="398.20" x2="473.00" y2="398.20" stroke="#1a1a1a" stroke-width="0.9" stroke-linecap="butt"/>
<line x1="469.80" y1="404.20" x2="473.00" y2="404.20" stroke="#1a1a1a" stroke-width="0.9" stroke-linecap="butt"/>
<circle cx="471.40" cy="401.20" r="2.30" fill="#1a1a1a"/>
<line x1="478.70" y1="382.60" x2="478.70" y2="399.00" stroke="#1a1a1a" stroke-width="0.9" stroke-linecap="butt"/>
<line x1="477.10" y1="382.60" x2="480.30" y2="382.60" stroke="#1a1a1a" stroke-width="0.9" stroke-linecap="butt"/>
<line x1="477.10" y1="399.00" x2="480.30" y2="399.00" stroke="#1a1a1a" stroke-width="0.9" stroke-linecap="butt"/>
<circle cx="478.70" cy="390.80" r="2.30" fill="#1a1a1a"/>
<line x1="484.40" y1="394.70" x2="484.40" y2="397.90" stroke="#1a1a1a" stroke-width="0.9" stroke-linecap="butt"/>
<line x1="482.80" y1="394.70" x2="486.00" y2="394.70" stroke="#1a1a1a" stroke-width="0.9" stroke-linecap="butt"/>
<line x1="482.80" y1="397.90" x2="486.00" y2="397.90" stroke="#1a1a1a" stroke-width="0.9" stroke-linecap="butt"/>
<circle cx="484.40" cy="396.30" r="2.30" fill="#1a1a1a"/>
<line x1="489.00" y1="396.80" x2="489.00" y2="438.90" stroke="#1d1d1b" stroke-width="1.0" stroke-linecap="butt"/>
<line x1="492.50" y1="396.80" x2="492.50" y2="438.90" stroke="#1d1d1b" stroke-width="1.0" stroke-linecap="butt"/>
<text font-size="8.6" fill="#1d1d1b" transform="translate(495.6,401.6) rotate(90)"><tspan font-style="italic">P</tspan> &lt; 1e-4</text>
<line x1="108.60" y1="487.80" x2="121.20" y2="487.80" stroke="#1a1a1a" stroke-width="1.5" stroke-linecap="butt"/>
<circle cx="114.90" cy="487.80" r="2.40" fill="#1a1a1a"/>
<text x="124.00" y="490.80" font-size="8.6" text-anchor="start" fill="#1d1d1b">Vehicle</text>
<line x1="184.50" y1="487.80" x2="197.10" y2="487.80" stroke="#f4c75a" stroke-width="1.5" stroke-linecap="butt"/>
<polygon points="190.80,485.40 192.80,487.80 190.80,490.20 188.80,487.80" fill="#f4c75a"/>
<text x="199.90" y="490.80" font-size="8.6" text-anchor="start" fill="#1d1d1b">INX-315 (100 mg/kg BID)</text>
<line x1="330.00" y1="487.80" x2="342.60" y2="487.80" stroke="#2a88c8" stroke-width="1.5" stroke-linecap="butt"/>
<rect x="333.90" y="485.40" width="4.80" height="4.80" fill="#2a88c8"/>
<text x="345.20" y="490.80" font-size="8.6" text-anchor="start" fill="#1d1d1b">INX-315 (200 mg/kg QD)</text>
</svg>
</body></html>
